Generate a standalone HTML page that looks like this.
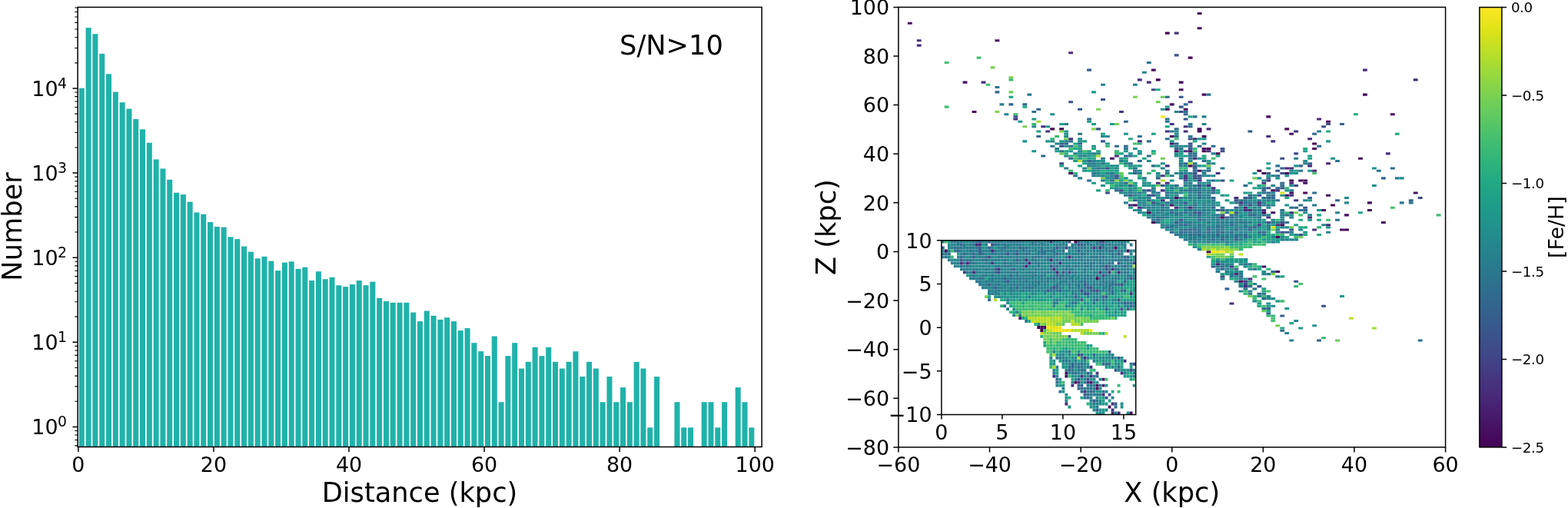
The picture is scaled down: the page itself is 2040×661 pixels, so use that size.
<!DOCTYPE html>
<html><head><meta charset="utf-8"><style>
html,body{margin:0;padding:0;background:#fff;width:2040px;height:661px;overflow:hidden}
svg{display:block}
text{font-family:'DejaVu Sans', 'Liberation Sans', sans-serif;fill:#000}
</style></head><body>
<svg width="2040" height="661" viewBox="0 0 2040 661">
<g fill="#20b2aa"><rect x="102.78" y="114.70" width="7.04" height="466.80"/><rect x="111.58" y="36.10" width="7.04" height="545.40"/><rect x="120.39" y="44.20" width="7.04" height="537.30"/><rect x="129.19" y="69.90" width="7.04" height="511.60"/><rect x="137.99" y="96.30" width="7.04" height="485.20"/><rect x="146.80" y="119.60" width="7.04" height="461.90"/><rect x="155.60" y="133.20" width="7.04" height="448.30"/><rect x="164.40" y="141.60" width="7.04" height="439.90"/><rect x="173.20" y="155.00" width="7.04" height="426.50"/><rect x="182.01" y="168.30" width="7.04" height="413.20"/><rect x="190.81" y="185.80" width="7.04" height="395.70"/><rect x="199.61" y="207.40" width="7.04" height="374.10"/><rect x="208.42" y="219.40" width="7.04" height="362.10"/><rect x="217.22" y="233.80" width="7.04" height="347.70"/><rect x="226.02" y="250.80" width="7.04" height="330.70"/><rect x="234.83" y="253.10" width="7.04" height="328.40"/><rect x="243.63" y="262.60" width="7.04" height="318.90"/><rect x="252.43" y="276.40" width="7.04" height="305.10"/><rect x="261.23" y="278.70" width="7.04" height="302.80"/><rect x="270.04" y="289.00" width="7.04" height="292.50"/><rect x="278.84" y="295.00" width="7.04" height="286.50"/><rect x="287.64" y="295.60" width="7.04" height="285.90"/><rect x="296.45" y="308.30" width="7.04" height="273.20"/><rect x="305.25" y="311.10" width="7.04" height="270.40"/><rect x="314.05" y="320.60" width="7.04" height="260.90"/><rect x="322.86" y="327.60" width="7.04" height="253.90"/><rect x="331.66" y="336.30" width="7.04" height="245.20"/><rect x="340.46" y="333.80" width="7.04" height="247.70"/><rect x="349.26" y="339.60" width="7.04" height="241.90"/><rect x="358.07" y="352.10" width="7.04" height="229.40"/><rect x="366.87" y="341.60" width="7.04" height="239.90"/><rect x="375.67" y="340.30" width="7.04" height="241.20"/><rect x="384.48" y="349.90" width="7.04" height="231.60"/><rect x="393.28" y="347.70" width="7.04" height="233.80"/><rect x="402.08" y="365.00" width="7.04" height="216.50"/><rect x="410.89" y="353.20" width="7.04" height="228.30"/><rect x="419.69" y="363.20" width="7.04" height="218.30"/><rect x="428.49" y="360.80" width="7.04" height="220.70"/><rect x="437.29" y="371.30" width="7.04" height="210.20"/><rect x="446.10" y="373.10" width="7.04" height="208.40"/><rect x="454.90" y="370.10" width="7.04" height="211.40"/><rect x="463.70" y="365.00" width="7.04" height="216.50"/><rect x="472.51" y="371.20" width="7.04" height="210.30"/><rect x="481.31" y="366.60" width="7.04" height="214.90"/><rect x="490.11" y="387.80" width="7.04" height="193.70"/><rect x="498.92" y="392.00" width="7.04" height="189.50"/><rect x="507.72" y="393.80" width="7.04" height="187.70"/><rect x="516.52" y="393.80" width="7.04" height="187.70"/><rect x="525.32" y="393.80" width="7.04" height="187.70"/><rect x="534.13" y="406.50" width="7.04" height="175.00"/><rect x="542.93" y="418.10" width="7.04" height="163.40"/><rect x="551.73" y="404.50" width="7.04" height="177.00"/><rect x="560.54" y="410.80" width="7.04" height="170.70"/><rect x="569.34" y="415.90" width="7.04" height="165.60"/><rect x="578.14" y="413.20" width="7.04" height="168.30"/><rect x="586.95" y="418.10" width="7.04" height="163.40"/><rect x="595.75" y="430.10" width="7.04" height="151.40"/><rect x="604.55" y="427.00" width="7.04" height="154.50"/><rect x="613.35" y="446.20" width="7.04" height="135.30"/><rect x="622.16" y="457.10" width="7.04" height="124.40"/><rect x="630.96" y="463.10" width="7.04" height="118.40"/><rect x="639.76" y="437.50" width="7.04" height="144.00"/><rect x="648.57" y="523.20" width="7.04" height="58.30"/><rect x="657.37" y="463.10" width="7.04" height="118.40"/><rect x="666.17" y="446.20" width="7.04" height="135.30"/><rect x="674.98" y="479.50" width="7.04" height="102.00"/><rect x="683.78" y="470.80" width="7.04" height="110.70"/><rect x="692.58" y="451.80" width="7.04" height="129.70"/><rect x="701.38" y="463.20" width="7.04" height="118.30"/><rect x="710.19" y="451.80" width="7.04" height="129.70"/><rect x="718.99" y="470.80" width="7.04" height="110.70"/><rect x="727.79" y="479.50" width="7.04" height="102.00"/><rect x="736.60" y="470.80" width="7.04" height="110.70"/><rect x="745.40" y="457.20" width="7.04" height="124.30"/><rect x="754.20" y="490.00" width="7.04" height="91.50"/><rect x="763.01" y="470.80" width="7.04" height="110.70"/><rect x="771.81" y="479.50" width="7.04" height="102.00"/><rect x="780.61" y="523.20" width="7.04" height="58.30"/><rect x="789.41" y="490.00" width="7.04" height="91.50"/><rect x="798.22" y="523.20" width="7.04" height="58.30"/><rect x="807.02" y="504.10" width="7.04" height="77.40"/><rect x="815.82" y="523.20" width="7.04" height="58.30"/><rect x="824.63" y="470.90" width="7.04" height="110.60"/><rect x="833.43" y="479.50" width="7.04" height="102.00"/><rect x="842.23" y="556.30" width="7.04" height="25.20"/><rect x="851.04" y="490.10" width="7.04" height="91.40"/><rect x="877.44" y="523.20" width="7.04" height="58.30"/><rect x="886.25" y="556.30" width="7.04" height="25.20"/><rect x="895.05" y="556.30" width="7.04" height="25.20"/><rect x="912.66" y="523.20" width="7.04" height="58.30"/><rect x="921.46" y="523.20" width="7.04" height="58.30"/><rect x="930.26" y="556.30" width="7.04" height="25.20"/><rect x="939.07" y="523.20" width="7.04" height="58.30"/><rect x="956.67" y="504.10" width="7.04" height="77.40"/><rect x="965.47" y="523.20" width="7.04" height="58.30"/><rect x="974.28" y="556.30" width="7.04" height="25.20"/></g>
<rect x="101.1" y="9.4" width="890.00" height="572.10" fill="none" stroke="#000" stroke-width="1.5"/>
<path d="M101.90,581.5v6.6M277.96,581.5v6.6M454.02,581.5v6.6M630.08,581.5v6.6M806.14,581.5v6.6M982.20,581.5v6.6M101.1,555.40h-6.6M101.1,445.30h-6.6M101.1,335.20h-6.6M101.1,225.10h-6.6M101.1,115.00h-6.6" stroke="#000" stroke-width="1.5" fill="none"/>
<path d="M101.1,579.83h-3.8M101.1,572.45h-3.8M101.1,566.07h-3.8M101.1,560.44h-3.8M101.1,522.26h-3.8M101.1,502.87h-3.8M101.1,489.11h-3.8M101.1,478.44h-3.8M101.1,469.73h-3.8M101.1,462.35h-3.8M101.1,455.97h-3.8M101.1,450.34h-3.8M101.1,412.16h-3.8M101.1,392.77h-3.8M101.1,379.01h-3.8M101.1,368.34h-3.8M101.1,359.63h-3.8M101.1,352.25h-3.8M101.1,345.87h-3.8M101.1,340.24h-3.8M101.1,302.06h-3.8M101.1,282.67h-3.8M101.1,268.91h-3.8M101.1,258.24h-3.8M101.1,249.53h-3.8M101.1,242.15h-3.8M101.1,235.77h-3.8M101.1,230.14h-3.8M101.1,191.96h-3.8M101.1,172.57h-3.8M101.1,158.81h-3.8M101.1,148.14h-3.8M101.1,139.43h-3.8M101.1,132.05h-3.8M101.1,125.67h-3.8M101.1,120.04h-3.8M101.1,81.86h-3.8M101.1,62.47h-3.8M101.1,48.71h-3.8M101.1,38.04h-3.8M101.1,29.33h-3.8M101.1,21.95h-3.8M101.1,15.57h-3.8M101.1,9.94h-3.8" stroke="#000" stroke-width="1.1" fill="none"/>
<text x="101.90" y="614.3" font-size="26.9" text-anchor="middle">0</text>
<text x="277.96" y="614.3" font-size="26.9" text-anchor="middle">20</text>
<text x="454.02" y="614.3" font-size="26.9" text-anchor="middle">40</text>
<text x="630.08" y="614.3" font-size="26.9" text-anchor="middle">60</text>
<text x="806.14" y="614.3" font-size="26.9" text-anchor="middle">80</text>
<text x="982.20" y="614.3" font-size="26.9" text-anchor="middle">100</text>
<text x="75.5" y="565.40" font-size="26.9" text-anchor="end">10</text>
<text x="75.0" y="555.20" font-size="18.83">0</text>
<text x="75.5" y="455.30" font-size="26.9" text-anchor="end">10</text>
<text x="75.0" y="445.10" font-size="18.83">1</text>
<text x="75.5" y="345.20" font-size="26.9" text-anchor="end">10</text>
<text x="75.0" y="335.00" font-size="18.83">2</text>
<text x="75.5" y="235.10" font-size="26.9" text-anchor="end">10</text>
<text x="75.0" y="224.90" font-size="18.83">3</text>
<text x="75.5" y="125.00" font-size="26.9" text-anchor="end">10</text>
<text x="75.0" y="114.80" font-size="18.83">4</text>
<text x="546.0" y="652.8" font-size="35.2" text-anchor="middle">Distance (kpc)</text>
<text transform="translate(27.8,295.0) rotate(-90)" font-size="35.2" text-anchor="middle">Number</text>
<text x="940.9" y="71.0" font-size="35.20" text-anchor="end">S/N&gt;10</text>
<defs><clipPath id="mcl"><rect x="1168.9" y="9.4" width="711.70" height="572.50"/></clipPath></defs>
<g clip-path="url(#mcl)"><path fill="#470d60" d="M1180.84,28.78h5.85v3.07h-5.85zM1294.49,51.17h5.85v3.07h-5.85zM1497.86,89.56h5.85v3.07h-5.85zM1521.78,134.36h5.85v3.07h-5.85zM1563.65,121.56h5.85v3.07h-5.85zM1557.67,166.35h5.85v3.07h-5.85zM1671.32,166.35h5.85v3.07h-5.85zM1557.67,169.55h5.85v3.07h-5.85zM1808.89,147.15h5.85v3.07h-5.85zM1444.02,204.74h5.85v3.07h-5.85zM1527.76,195.15h5.85v3.07h-5.85zM1545.71,195.15h5.85v3.07h-5.85zM1545.71,214.34h5.85v3.07h-5.85zM1557.67,220.74h5.85v3.07h-5.85zM1767.02,204.74h5.85v3.07h-5.85zM1689.26,233.54h5.85v3.07h-5.85zM1521.78,265.53h5.85v3.07h-5.85zM1497.86,287.93h5.85v3.07h-5.85zM1677.30,249.53h5.85v3.07h-5.85zM1719.17,271.93h5.85v3.07h-5.85zM1749.08,278.33h5.85v3.07h-5.85z"/><path fill="#46327e" d="M1192.81,51.17h5.85v3.07h-5.85zM1527.76,41.57h5.85v3.07h-5.85zM1318.42,153.55h5.85v3.07h-5.85zM1455.99,143.95h5.85v3.07h-5.85zM1521.78,159.95h5.85v3.07h-5.85zM1354.30,163.15h5.85v3.07h-5.85zM1360.28,169.55h5.85v3.07h-5.85zM1515.80,169.55h5.85v3.07h-5.85zM1390.19,179.15h5.85v3.07h-5.85zM1539.73,163.15h5.85v3.07h-5.85zM1569.63,166.35h5.85v3.07h-5.85zM1683.28,169.55h5.85v3.07h-5.85zM1551.69,179.15h5.85v3.07h-5.85zM1653.37,182.35h5.85v3.07h-5.85zM1515.80,214.34h5.85v3.07h-5.85zM1503.84,236.74h5.85v3.07h-5.85zM1581.60,223.94h5.85v3.07h-5.85zM1557.67,233.54h5.85v3.07h-5.85zM1569.63,239.94h5.85v3.07h-5.85zM1647.39,233.54h5.85v3.07h-5.85zM1641.41,236.74h5.85v3.07h-5.85zM1802.91,198.34h5.85v3.07h-5.85zM1509.82,259.13h5.85v3.07h-5.85zM1479.91,268.73h5.85v3.07h-5.85zM1575.62,243.14h5.85v3.07h-5.85zM1677.30,252.73h5.85v3.07h-5.85zM1527.76,268.73h5.85v3.07h-5.85zM1617.49,271.93h5.85v3.07h-5.85zM1623.47,271.93h5.85v3.07h-5.85zM1641.41,271.93h5.85v3.07h-5.85zM1707.21,297.53h5.85v3.07h-5.85zM1599.54,345.52h5.85v3.07h-5.85zM1617.49,364.71h5.85v3.07h-5.85zM1617.49,371.11h5.85v3.07h-5.85z"/><path fill="#472d7b" d="M1192.81,57.57h5.85v3.07h-5.85zM1479.91,102.36h5.85v3.07h-5.85zM1773.00,89.56h5.85v3.07h-5.85zM1838.80,102.36h5.85v3.07h-5.85zM1276.55,105.56h5.85v3.07h-5.85zM1491.88,105.56h5.85v3.07h-5.85zM1479.91,182.35h5.85v3.07h-5.85zM1539.73,169.55h5.85v3.07h-5.85zM1647.39,175.95h5.85v3.07h-5.85zM1515.80,236.74h5.85v3.07h-5.85zM1539.73,195.15h5.85v3.07h-5.85zM1569.63,195.15h5.85v3.07h-5.85zM1551.69,204.74h5.85v3.07h-5.85zM1539.73,227.14h5.85v3.07h-5.85zM1701.22,214.34h5.85v3.07h-5.85zM1671.32,217.54h5.85v3.07h-5.85zM1677.30,217.54h5.85v3.07h-5.85zM1659.35,246.34h5.85v3.07h-5.85zM1605.52,255.93h5.85v3.07h-5.85zM1611.50,262.33h5.85v3.07h-5.85zM1677.30,275.13h5.85v3.07h-5.85zM1701.22,281.53h5.85v3.07h-5.85zM1659.35,291.13h5.85v3.07h-5.85zM1605.52,355.12h5.85v3.07h-5.85zM1623.47,361.51h5.85v3.07h-5.85zM1599.54,393.51h5.85v3.07h-5.85z"/><path fill="#46c06f" d="M1228.69,79.97h5.85v3.07h-5.85zM1270.56,73.57h5.85v3.07h-5.85zM1282.53,108.76h5.85v3.07h-5.85zM1473.93,185.55h5.85v3.07h-5.85zM1396.17,188.75h5.85v3.07h-5.85zM1408.14,195.15h5.85v3.07h-5.85zM1396.17,204.74h5.85v3.07h-5.85zM1455.99,227.14h5.85v3.07h-5.85zM1515.80,227.14h5.85v3.07h-5.85zM1551.69,195.15h5.85v3.07h-5.85zM1575.62,204.74h5.85v3.07h-5.85zM1707.21,223.94h5.85v3.07h-5.85zM1479.91,246.34h5.85v3.07h-5.85zM1467.95,259.13h5.85v3.07h-5.85zM1689.26,278.33h5.85v3.07h-5.85zM1725.15,284.73h5.85v3.07h-5.85zM1808.89,268.73h5.85v3.07h-5.85zM1569.63,316.72h5.85v3.07h-5.85zM1587.58,316.72h5.85v3.07h-5.85zM1599.54,319.92h5.85v3.07h-5.85zM1635.43,316.72h5.85v3.07h-5.85zM1629.45,358.31h5.85v3.07h-5.85zM1641.41,361.51h5.85v3.07h-5.85zM1689.26,367.91h5.85v3.07h-5.85zM1647.39,377.51h5.85v3.07h-5.85zM1641.41,396.71h5.85v3.07h-5.85zM1653.37,412.70h5.85v3.07h-5.85zM1653.37,415.90h5.85v3.07h-5.85z"/><path fill="#7ad151" d="M1288.51,86.37h5.85v3.07h-5.85zM1312.43,99.16h5.85v3.07h-5.85zM1330.38,163.15h5.85v3.07h-5.85zM1473.93,124.76h5.85v3.07h-5.85zM1426.08,140.76h5.85v3.07h-5.85zM1384.21,179.15h5.85v3.07h-5.85zM1461.97,233.54h5.85v3.07h-5.85zM1569.63,319.92h5.85v3.07h-5.85zM1575.62,319.92h5.85v3.07h-5.85zM1581.60,319.92h5.85v3.07h-5.85zM1599.54,323.12h5.85v3.07h-5.85zM1677.30,294.33h5.85v3.07h-5.85zM1623.47,383.91h5.85v3.07h-5.85z"/><path fill="#3fbc73" d="M1312.43,102.36h5.85v3.07h-5.85zM1228.69,137.56h5.85v3.07h-5.85zM1318.42,147.15h5.85v3.07h-5.85zM1390.19,191.95h5.85v3.07h-5.85zM1527.76,179.15h5.85v3.07h-5.85zM1396.17,201.54h5.85v3.07h-5.85zM1497.86,198.34h5.85v3.07h-5.85zM1479.91,227.14h5.85v3.07h-5.85zM1444.02,239.94h5.85v3.07h-5.85zM1533.75,217.54h5.85v3.07h-5.85zM1641.41,239.94h5.85v3.07h-5.85zM1479.91,243.14h5.85v3.07h-5.85zM1438.04,246.34h5.85v3.07h-5.85zM1491.88,262.33h5.85v3.07h-5.85zM1539.73,243.14h5.85v3.07h-5.85zM1527.76,246.34h5.85v3.07h-5.85zM1539.73,252.73h5.85v3.07h-5.85zM1868.70,278.33h5.85v3.07h-5.85zM1581.60,316.72h5.85v3.07h-5.85zM1605.52,319.92h5.85v3.07h-5.85zM1575.62,332.72h5.85v3.07h-5.85zM1587.58,335.92h5.85v3.07h-5.85zM1659.35,303.92h5.85v3.07h-5.85zM1641.41,307.12h5.85v3.07h-5.85zM1683.28,307.12h5.85v3.07h-5.85zM1623.47,313.52h5.85v3.07h-5.85zM1629.45,316.72h5.85v3.07h-5.85zM1641.41,316.72h5.85v3.07h-5.85zM1617.49,319.92h5.85v3.07h-5.85zM1605.52,345.52h5.85v3.07h-5.85zM1629.45,345.52h5.85v3.07h-5.85zM1623.47,367.91h5.85v3.07h-5.85zM1617.49,377.51h5.85v3.07h-5.85zM1629.45,387.11h5.85v3.07h-5.85zM1635.43,390.31h5.85v3.07h-5.85zM1647.39,409.50h5.85v3.07h-5.85z"/><path fill="#482878" d="M1390.19,67.17h5.85v3.07h-5.85zM1701.22,179.15h5.85v3.07h-5.85zM1713.19,153.55h5.85v3.07h-5.85zM1450.01,201.54h5.85v3.07h-5.85zM1539.73,230.34h5.85v3.07h-5.85zM1725.15,211.14h5.85v3.07h-5.85zM1707.21,220.74h5.85v3.07h-5.85zM1677.30,236.74h5.85v3.07h-5.85zM1467.95,265.53h5.85v3.07h-5.85zM1635.43,262.33h5.85v3.07h-5.85zM1545.71,268.73h5.85v3.07h-5.85zM1617.49,268.73h5.85v3.07h-5.85zM1725.15,291.13h5.85v3.07h-5.85zM1581.60,342.32h5.85v3.07h-5.85z"/><path fill="#355f8d" d="M1414.12,89.56h5.85v3.07h-5.85zM1378.23,185.55h5.85v3.07h-5.85zM1623.47,169.55h5.85v3.07h-5.85zM1461.97,201.54h5.85v3.07h-5.85zM1450.01,230.34h5.85v3.07h-5.85zM1467.95,252.73h5.85v3.07h-5.85zM1473.93,259.13h5.85v3.07h-5.85zM1521.78,275.13h5.85v3.07h-5.85zM1701.22,255.93h5.85v3.07h-5.85zM1587.58,271.93h5.85v3.07h-5.85zM1539.73,291.13h5.85v3.07h-5.85zM1623.47,297.53h5.85v3.07h-5.85zM1671.32,300.73h5.85v3.07h-5.85z"/><path fill="#46075a" d="M1515.80,41.57h5.85v3.07h-5.85zM1545.71,73.57h5.85v3.07h-5.85zM1264.58,143.95h5.85v3.07h-5.85zM1515.80,140.76h5.85v3.07h-5.85zM1521.78,175.95h5.85v3.07h-5.85zM1533.75,105.56h5.85v3.07h-5.85zM1533.75,115.16h5.85v3.07h-5.85zM1539.73,140.76h5.85v3.07h-5.85zM1563.65,175.95h5.85v3.07h-5.85zM1569.63,191.95h5.85v3.07h-5.85zM1725.15,156.75h5.85v3.07h-5.85zM1390.19,223.94h5.85v3.07h-5.85zM1563.65,195.15h5.85v3.07h-5.85zM1641.41,223.94h5.85v3.07h-5.85zM1671.32,223.94h5.85v3.07h-5.85zM1695.24,233.54h5.85v3.07h-5.85zM1473.93,265.53h5.85v3.07h-5.85zM1653.37,246.34h5.85v3.07h-5.85zM1695.24,249.53h5.85v3.07h-5.85zM1527.76,255.93h5.85v3.07h-5.85zM1641.41,275.13h5.85v3.07h-5.85zM1653.37,275.13h5.85v3.07h-5.85zM1778.98,271.93h5.85v3.07h-5.85zM1796.93,287.93h5.85v3.07h-5.85zM1665.34,291.13h5.85v3.07h-5.85zM1659.35,307.12h5.85v3.07h-5.85zM1611.50,364.71h5.85v3.07h-5.85zM1659.35,351.92h5.85v3.07h-5.85z"/><path fill="#2a768e" d="M1491.88,79.97h5.85v3.07h-5.85zM1294.49,111.96h5.85v3.07h-5.85zM1342.34,143.95h5.85v3.07h-5.85zM1402.15,172.75h5.85v3.07h-5.85zM1569.63,121.56h5.85v3.07h-5.85zM1527.76,175.95h5.85v3.07h-5.85zM1420.10,211.14h5.85v3.07h-5.85zM1497.86,214.34h5.85v3.07h-5.85zM1485.89,230.34h5.85v3.07h-5.85zM1551.69,198.34h5.85v3.07h-5.85zM1569.63,211.14h5.85v3.07h-5.85zM1545.71,236.74h5.85v3.07h-5.85zM1659.35,214.34h5.85v3.07h-5.85zM1689.26,220.74h5.85v3.07h-5.85zM1647.39,230.34h5.85v3.07h-5.85zM1521.78,243.14h5.85v3.07h-5.85zM1497.86,278.33h5.85v3.07h-5.85zM1539.73,246.34h5.85v3.07h-5.85zM1551.69,246.34h5.85v3.07h-5.85zM1557.67,246.34h5.85v3.07h-5.85zM1677.30,246.34h5.85v3.07h-5.85zM1605.52,262.33h5.85v3.07h-5.85zM1575.62,265.53h5.85v3.07h-5.85zM1647.39,265.53h5.85v3.07h-5.85zM1689.26,265.53h5.85v3.07h-5.85zM1539.73,268.73h5.85v3.07h-5.85zM1533.75,275.13h5.85v3.07h-5.85zM1593.56,275.13h5.85v3.07h-5.85zM1599.54,278.33h5.85v3.07h-5.85zM1581.60,281.53h5.85v3.07h-5.85zM1563.65,284.73h5.85v3.07h-5.85zM1599.54,287.93h5.85v3.07h-5.85zM1707.21,265.53h5.85v3.07h-5.85zM1820.85,262.33h5.85v3.07h-5.85zM1832.82,262.33h5.85v3.07h-5.85zM1545.71,291.13h5.85v3.07h-5.85zM1581.60,291.13h5.85v3.07h-5.85zM1581.60,294.33h5.85v3.07h-5.85zM1527.76,303.92h5.85v3.07h-5.85zM1533.75,303.92h5.85v3.07h-5.85zM1545.71,303.92h5.85v3.07h-5.85zM1563.65,307.12h5.85v3.07h-5.85zM1587.58,307.12h5.85v3.07h-5.85zM1539.73,310.32h5.85v3.07h-5.85zM1557.67,310.32h5.85v3.07h-5.85zM1611.50,310.32h5.85v3.07h-5.85zM1593.56,313.52h5.85v3.07h-5.85zM1641.41,303.92h5.85v3.07h-5.85zM1581.60,339.12h5.85v3.07h-5.85zM1611.50,371.11h5.85v3.07h-5.85zM1629.45,348.72h5.85v3.07h-5.85z"/><path fill="#25858e" d="M1485.89,92.76h5.85v3.07h-5.85zM1384.21,182.35h5.85v3.07h-5.85zM1372.25,185.55h5.85v3.07h-5.85zM1527.76,143.95h5.85v3.07h-5.85zM1563.65,159.95h5.85v3.07h-5.85zM1563.65,185.55h5.85v3.07h-5.85zM1402.15,195.15h5.85v3.07h-5.85zM1396.17,198.34h5.85v3.07h-5.85zM1414.12,211.14h5.85v3.07h-5.85zM1408.14,217.54h5.85v3.07h-5.85zM1402.15,230.34h5.85v3.07h-5.85zM1485.89,236.74h5.85v3.07h-5.85zM1545.71,207.94h5.85v3.07h-5.85zM1539.73,214.34h5.85v3.07h-5.85zM1539.73,223.94h5.85v3.07h-5.85zM1563.65,227.14h5.85v3.07h-5.85zM1569.63,227.14h5.85v3.07h-5.85zM1569.63,236.74h5.85v3.07h-5.85zM1455.99,249.53h5.85v3.07h-5.85zM1461.97,249.53h5.85v3.07h-5.85zM1521.78,249.53h5.85v3.07h-5.85zM1503.84,255.93h5.85v3.07h-5.85zM1461.97,262.33h5.85v3.07h-5.85zM1485.89,262.33h5.85v3.07h-5.85zM1503.84,262.33h5.85v3.07h-5.85zM1503.84,265.53h5.85v3.07h-5.85zM1485.89,268.73h5.85v3.07h-5.85zM1479.91,275.13h5.85v3.07h-5.85zM1569.63,246.34h5.85v3.07h-5.85zM1527.76,249.53h5.85v3.07h-5.85zM1545.71,249.53h5.85v3.07h-5.85zM1563.65,252.73h5.85v3.07h-5.85zM1569.63,252.73h5.85v3.07h-5.85zM1695.24,259.13h5.85v3.07h-5.85zM1545.71,265.53h5.85v3.07h-5.85zM1569.63,265.53h5.85v3.07h-5.85zM1641.41,265.53h5.85v3.07h-5.85zM1557.67,268.73h5.85v3.07h-5.85zM1557.67,271.93h5.85v3.07h-5.85zM1629.45,271.93h5.85v3.07h-5.85zM1629.45,275.13h5.85v3.07h-5.85zM1635.43,278.33h5.85v3.07h-5.85zM1647.39,278.33h5.85v3.07h-5.85zM1575.62,281.53h5.85v3.07h-5.85zM1575.62,284.73h5.85v3.07h-5.85zM1587.58,284.73h5.85v3.07h-5.85zM1605.52,284.73h5.85v3.07h-5.85zM1617.49,284.73h5.85v3.07h-5.85zM1665.34,284.73h5.85v3.07h-5.85zM1635.43,287.93h5.85v3.07h-5.85zM1749.08,262.33h5.85v3.07h-5.85zM1551.69,291.13h5.85v3.07h-5.85zM1509.82,294.33h5.85v3.07h-5.85zM1545.71,294.33h5.85v3.07h-5.85zM1605.52,294.33h5.85v3.07h-5.85zM1575.62,297.53h5.85v3.07h-5.85zM1611.50,297.53h5.85v3.07h-5.85zM1539.73,303.92h5.85v3.07h-5.85zM1599.54,303.92h5.85v3.07h-5.85zM1557.67,307.12h5.85v3.07h-5.85zM1599.54,307.12h5.85v3.07h-5.85zM1563.65,313.52h5.85v3.07h-5.85zM1599.54,313.52h5.85v3.07h-5.85zM1557.67,323.12h5.85v3.07h-5.85zM1647.39,291.13h5.85v3.07h-5.85zM1635.43,294.33h5.85v3.07h-5.85zM1647.39,294.33h5.85v3.07h-5.85zM1665.34,294.33h5.85v3.07h-5.85zM1647.39,297.53h5.85v3.07h-5.85zM1617.49,300.73h5.85v3.07h-5.85zM1659.35,300.73h5.85v3.07h-5.85zM1671.32,310.32h5.85v3.07h-5.85zM1593.56,342.32h5.85v3.07h-5.85zM1599.54,342.32h5.85v3.07h-5.85zM1593.56,345.52h5.85v3.07h-5.85zM1581.60,348.72h5.85v3.07h-5.85zM1593.56,351.92h5.85v3.07h-5.85zM1587.58,361.51h5.85v3.07h-5.85zM1641.41,355.12h5.85v3.07h-5.85zM1623.47,377.51h5.85v3.07h-5.85zM1677.30,441.50h5.85v3.07h-5.85z"/><path fill="#440154" d="M1503.84,102.36h5.85v3.07h-5.85zM1557.67,15.98h5.85v3.07h-5.85zM1557.67,35.18h5.85v3.07h-5.85zM1366.27,166.35h5.85v3.07h-5.85zM1378.23,166.35h5.85v3.07h-5.85zM1647.39,150.35h5.85v3.07h-5.85zM1773.00,121.56h5.85v3.07h-5.85zM1707.21,185.55h5.85v3.07h-5.85zM1707.21,191.95h5.85v3.07h-5.85zM1581.60,198.34h5.85v3.07h-5.85zM1635.43,220.74h5.85v3.07h-5.85zM1677.30,233.54h5.85v3.07h-5.85zM1491.88,275.13h5.85v3.07h-5.85zM1587.58,281.53h5.85v3.07h-5.85zM1725.15,252.73h5.85v3.07h-5.85zM1778.98,262.33h5.85v3.07h-5.85zM1731.13,265.53h5.85v3.07h-5.85zM1569.63,326.32h5.85v3.07h-5.85zM1749.08,297.53h5.85v3.07h-5.85z"/><path fill="#3d4e8a" d="M1527.76,70.37h5.85v3.07h-5.85zM1497.86,115.16h5.85v3.07h-5.85zM1432.06,127.96h5.85v3.07h-5.85zM1533.75,143.95h5.85v3.07h-5.85zM1719.17,163.15h5.85v3.07h-5.85zM1438.04,217.54h5.85v3.07h-5.85zM1450.01,227.14h5.85v3.07h-5.85zM1557.67,227.14h5.85v3.07h-5.85zM1551.69,230.34h5.85v3.07h-5.85zM1539.73,233.54h5.85v3.07h-5.85zM1557.67,239.94h5.85v3.07h-5.85zM1683.28,198.34h5.85v3.07h-5.85zM1665.34,204.74h5.85v3.07h-5.85zM1665.34,223.94h5.85v3.07h-5.85zM1683.28,239.94h5.85v3.07h-5.85zM1455.99,246.34h5.85v3.07h-5.85zM1491.88,246.34h5.85v3.07h-5.85zM1635.43,252.73h5.85v3.07h-5.85zM1623.47,265.53h5.85v3.07h-5.85zM1557.67,275.13h5.85v3.07h-5.85zM1605.52,275.13h5.85v3.07h-5.85zM1587.58,278.33h5.85v3.07h-5.85zM1665.34,287.93h5.85v3.07h-5.85zM1587.58,358.31h5.85v3.07h-5.85zM1719.17,396.71h5.85v3.07h-5.85z"/><path fill="#471365" d="M1252.62,105.56h5.85v3.07h-5.85zM1521.78,185.55h5.85v3.07h-5.85zM1677.30,172.75h5.85v3.07h-5.85zM1563.65,191.95h5.85v3.07h-5.85zM1695.24,236.74h5.85v3.07h-5.85zM1671.32,252.73h5.85v3.07h-5.85zM1838.80,249.53h5.85v3.07h-5.85zM1743.09,297.53h5.85v3.07h-5.85zM1641.41,345.52h5.85v3.07h-5.85z"/><path fill="#31678e" d="M1294.49,118.36h5.85v3.07h-5.85zM1330.38,134.36h5.85v3.07h-5.85zM1348.32,140.76h5.85v3.07h-5.85zM1461.97,156.75h5.85v3.07h-5.85zM1348.32,175.95h5.85v3.07h-5.85zM1384.21,185.55h5.85v3.07h-5.85zM1402.15,185.55h5.85v3.07h-5.85zM1461.97,188.75h5.85v3.07h-5.85zM1539.73,147.15h5.85v3.07h-5.85zM1557.67,188.75h5.85v3.07h-5.85zM1414.12,207.94h5.85v3.07h-5.85zM1479.91,207.94h5.85v3.07h-5.85zM1461.97,236.74h5.85v3.07h-5.85zM1467.95,239.94h5.85v3.07h-5.85zM1551.69,214.34h5.85v3.07h-5.85zM1551.69,217.54h5.85v3.07h-5.85zM1551.69,220.74h5.85v3.07h-5.85zM1701.22,211.14h5.85v3.07h-5.85zM1665.34,236.74h5.85v3.07h-5.85zM1450.01,246.34h5.85v3.07h-5.85zM1491.88,259.13h5.85v3.07h-5.85zM1503.84,284.73h5.85v3.07h-5.85zM1575.62,255.93h5.85v3.07h-5.85zM1647.39,255.93h5.85v3.07h-5.85zM1617.49,262.33h5.85v3.07h-5.85zM1683.28,268.73h5.85v3.07h-5.85zM1539.73,275.13h5.85v3.07h-5.85zM1599.54,281.53h5.85v3.07h-5.85zM1832.82,259.13h5.85v3.07h-5.85zM1599.54,291.13h5.85v3.07h-5.85zM1533.75,297.53h5.85v3.07h-5.85zM1545.71,297.53h5.85v3.07h-5.85zM1521.78,300.73h5.85v3.07h-5.85zM1587.58,300.73h5.85v3.07h-5.85zM1599.54,300.73h5.85v3.07h-5.85zM1557.67,303.92h5.85v3.07h-5.85zM1581.60,303.92h5.85v3.07h-5.85zM1629.45,294.33h5.85v3.07h-5.85zM1635.43,300.73h5.85v3.07h-5.85zM1617.49,307.12h5.85v3.07h-5.85zM1587.58,345.52h5.85v3.07h-5.85zM1593.56,374.31h5.85v3.07h-5.85zM1653.37,351.92h5.85v3.07h-5.85zM1623.47,371.11h5.85v3.07h-5.85zM1641.41,387.11h5.85v3.07h-5.85zM1647.39,399.91h5.85v3.07h-5.85zM1665.34,428.70h5.85v3.07h-5.85z"/><path fill="#70cf57" d="M1312.43,118.36h5.85v3.07h-5.85zM1503.84,131.16h5.85v3.07h-5.85zM1450.01,159.95h5.85v3.07h-5.85zM1414.12,217.54h5.85v3.07h-5.85zM1432.06,230.34h5.85v3.07h-5.85zM1509.82,204.74h5.85v3.07h-5.85zM1467.95,236.74h5.85v3.07h-5.85zM1503.84,239.94h5.85v3.07h-5.85zM1629.45,230.34h5.85v3.07h-5.85zM1683.28,275.13h5.85v3.07h-5.85zM1587.58,319.92h5.85v3.07h-5.85zM1581.60,329.52h5.85v3.07h-5.85zM1587.58,329.52h5.85v3.07h-5.85zM1599.54,329.52h5.85v3.07h-5.85zM1581.60,332.72h5.85v3.07h-5.85zM1587.58,332.72h5.85v3.07h-5.85zM1653.37,297.53h5.85v3.07h-5.85zM1689.26,307.12h5.85v3.07h-5.85zM1641.41,403.11h5.85v3.07h-5.85zM1659.35,422.30h5.85v3.07h-5.85z"/><path fill="#297a8e" d="M1336.36,121.56h5.85v3.07h-5.85zM1515.80,156.75h5.85v3.07h-5.85zM1521.78,169.55h5.85v3.07h-5.85zM1366.27,188.75h5.85v3.07h-5.85zM1372.25,191.95h5.85v3.07h-5.85zM1461.97,191.95h5.85v3.07h-5.85zM1545.71,159.95h5.85v3.07h-5.85zM1545.71,175.95h5.85v3.07h-5.85zM1408.14,201.54h5.85v3.07h-5.85zM1432.06,204.74h5.85v3.07h-5.85zM1414.12,214.34h5.85v3.07h-5.85zM1432.06,217.54h5.85v3.07h-5.85zM1420.10,223.94h5.85v3.07h-5.85zM1420.10,227.14h5.85v3.07h-5.85zM1444.02,223.94h5.85v3.07h-5.85zM1444.02,227.14h5.85v3.07h-5.85zM1521.78,227.14h5.85v3.07h-5.85zM1533.75,204.74h5.85v3.07h-5.85zM1545.71,204.74h5.85v3.07h-5.85zM1587.58,217.54h5.85v3.07h-5.85zM1545.71,223.94h5.85v3.07h-5.85zM1533.75,230.34h5.85v3.07h-5.85zM1539.73,239.94h5.85v3.07h-5.85zM1551.69,239.94h5.85v3.07h-5.85zM1695.24,211.14h5.85v3.07h-5.85zM1814.87,230.34h5.85v3.07h-5.85zM1467.95,249.53h5.85v3.07h-5.85zM1479.91,249.53h5.85v3.07h-5.85zM1461.97,252.73h5.85v3.07h-5.85zM1521.78,259.13h5.85v3.07h-5.85zM1485.89,265.53h5.85v3.07h-5.85zM1497.86,265.53h5.85v3.07h-5.85zM1491.88,268.73h5.85v3.07h-5.85zM1509.82,268.73h5.85v3.07h-5.85zM1509.82,271.93h5.85v3.07h-5.85zM1521.78,271.93h5.85v3.07h-5.85zM1503.84,275.13h5.85v3.07h-5.85zM1515.80,281.53h5.85v3.07h-5.85zM1545.71,243.14h5.85v3.07h-5.85zM1533.75,255.93h5.85v3.07h-5.85zM1569.63,255.93h5.85v3.07h-5.85zM1575.62,259.13h5.85v3.07h-5.85zM1611.50,259.13h5.85v3.07h-5.85zM1617.49,259.13h5.85v3.07h-5.85zM1635.43,259.13h5.85v3.07h-5.85zM1647.39,259.13h5.85v3.07h-5.85zM1533.75,262.33h5.85v3.07h-5.85zM1641.41,262.33h5.85v3.07h-5.85zM1563.65,265.53h5.85v3.07h-5.85zM1551.69,268.73h5.85v3.07h-5.85zM1545.71,271.93h5.85v3.07h-5.85zM1635.43,271.93h5.85v3.07h-5.85zM1623.47,275.13h5.85v3.07h-5.85zM1533.75,278.33h5.85v3.07h-5.85zM1545.71,278.33h5.85v3.07h-5.85zM1605.52,278.33h5.85v3.07h-5.85zM1569.63,281.53h5.85v3.07h-5.85zM1581.60,284.73h5.85v3.07h-5.85zM1569.63,287.93h5.85v3.07h-5.85zM1587.58,287.93h5.85v3.07h-5.85zM1611.50,287.93h5.85v3.07h-5.85zM1617.49,287.93h5.85v3.07h-5.85zM1557.67,294.33h5.85v3.07h-5.85zM1575.62,294.33h5.85v3.07h-5.85zM1521.78,297.53h5.85v3.07h-5.85zM1575.62,300.73h5.85v3.07h-5.85zM1605.52,303.92h5.85v3.07h-5.85zM1611.50,303.92h5.85v3.07h-5.85zM1575.62,307.12h5.85v3.07h-5.85zM1593.56,307.12h5.85v3.07h-5.85zM1569.63,310.32h5.85v3.07h-5.85zM1551.69,313.52h5.85v3.07h-5.85zM1617.49,291.13h5.85v3.07h-5.85zM1617.49,294.33h5.85v3.07h-5.85zM1659.35,297.53h5.85v3.07h-5.85zM1653.37,313.52h5.85v3.07h-5.85zM1587.58,342.32h5.85v3.07h-5.85zM1581.60,351.92h5.85v3.07h-5.85zM1611.50,361.51h5.85v3.07h-5.85zM1623.47,342.32h5.85v3.07h-5.85zM1617.49,374.31h5.85v3.07h-5.85zM1629.45,374.31h5.85v3.07h-5.85zM1623.47,380.71h5.85v3.07h-5.85z"/><path fill="#1fa088" d="M1312.43,124.76h5.85v3.07h-5.85zM1515.80,137.56h5.85v3.07h-5.85zM1378.23,159.95h5.85v3.07h-5.85zM1372.25,195.15h5.85v3.07h-5.85zM1396.17,207.94h5.85v3.07h-5.85zM1402.15,214.34h5.85v3.07h-5.85zM1432.06,223.94h5.85v3.07h-5.85zM1503.84,214.34h5.85v3.07h-5.85zM1444.02,217.54h5.85v3.07h-5.85zM1467.95,223.94h5.85v3.07h-5.85zM1455.99,233.54h5.85v3.07h-5.85zM1461.97,239.94h5.85v3.07h-5.85zM1497.86,239.94h5.85v3.07h-5.85zM1533.75,201.54h5.85v3.07h-5.85zM1539.73,201.54h5.85v3.07h-5.85zM1647.39,217.54h5.85v3.07h-5.85zM1683.28,220.74h5.85v3.07h-5.85zM1473.93,246.34h5.85v3.07h-5.85zM1515.80,246.34h5.85v3.07h-5.85zM1509.82,287.93h5.85v3.07h-5.85zM1629.45,255.93h5.85v3.07h-5.85zM1623.47,268.73h5.85v3.07h-5.85zM1539.73,278.33h5.85v3.07h-5.85zM1599.54,316.72h5.85v3.07h-5.85zM1569.63,332.72h5.85v3.07h-5.85zM1683.28,291.13h5.85v3.07h-5.85zM1641.41,297.53h5.85v3.07h-5.85zM1623.47,303.92h5.85v3.07h-5.85zM1617.49,313.52h5.85v3.07h-5.85zM1635.43,313.52h5.85v3.07h-5.85zM1605.52,361.51h5.85v3.07h-5.85zM1659.35,390.31h5.85v3.07h-5.85z"/><path fill="#26828e" d="M1300.47,134.36h5.85v3.07h-5.85zM1306.45,147.15h5.85v3.07h-5.85zM1563.65,150.35h5.85v3.07h-5.85zM1713.19,169.55h5.85v3.07h-5.85zM1384.21,201.54h5.85v3.07h-5.85zM1402.15,201.54h5.85v3.07h-5.85zM1420.10,214.34h5.85v3.07h-5.85zM1426.08,227.14h5.85v3.07h-5.85zM1432.06,227.14h5.85v3.07h-5.85zM1432.06,233.54h5.85v3.07h-5.85zM1509.82,217.54h5.85v3.07h-5.85zM1515.80,220.74h5.85v3.07h-5.85zM1438.04,223.94h5.85v3.07h-5.85zM1438.04,230.34h5.85v3.07h-5.85zM1455.99,239.94h5.85v3.07h-5.85zM1533.75,214.34h5.85v3.07h-5.85zM1539.73,220.74h5.85v3.07h-5.85zM1563.65,220.74h5.85v3.07h-5.85zM1641.41,233.54h5.85v3.07h-5.85zM1653.37,239.94h5.85v3.07h-5.85zM1497.86,246.34h5.85v3.07h-5.85zM1497.86,249.53h5.85v3.07h-5.85zM1479.91,255.93h5.85v3.07h-5.85zM1479.91,262.33h5.85v3.07h-5.85zM1497.86,268.73h5.85v3.07h-5.85zM1479.91,271.93h5.85v3.07h-5.85zM1509.82,275.13h5.85v3.07h-5.85zM1491.88,281.53h5.85v3.07h-5.85zM1551.69,249.53h5.85v3.07h-5.85zM1527.76,252.73h5.85v3.07h-5.85zM1647.39,252.73h5.85v3.07h-5.85zM1545.71,255.93h5.85v3.07h-5.85zM1653.37,259.13h5.85v3.07h-5.85zM1551.69,262.33h5.85v3.07h-5.85zM1563.65,262.33h5.85v3.07h-5.85zM1575.62,262.33h5.85v3.07h-5.85zM1539.73,265.53h5.85v3.07h-5.85zM1563.65,268.73h5.85v3.07h-5.85zM1629.45,268.73h5.85v3.07h-5.85zM1569.63,271.93h5.85v3.07h-5.85zM1611.50,271.93h5.85v3.07h-5.85zM1545.71,275.13h5.85v3.07h-5.85zM1569.63,275.13h5.85v3.07h-5.85zM1563.65,278.33h5.85v3.07h-5.85zM1701.22,278.33h5.85v3.07h-5.85zM1551.69,281.53h5.85v3.07h-5.85zM1677.30,281.53h5.85v3.07h-5.85zM1533.75,287.93h5.85v3.07h-5.85zM1581.60,287.93h5.85v3.07h-5.85zM1593.56,287.93h5.85v3.07h-5.85zM1605.52,287.93h5.85v3.07h-5.85zM1659.35,287.93h5.85v3.07h-5.85zM1563.65,291.13h5.85v3.07h-5.85zM1587.58,291.13h5.85v3.07h-5.85zM1593.56,291.13h5.85v3.07h-5.85zM1605.52,291.13h5.85v3.07h-5.85zM1527.76,294.33h5.85v3.07h-5.85zM1587.58,297.53h5.85v3.07h-5.85zM1593.56,300.73h5.85v3.07h-5.85zM1611.50,300.73h5.85v3.07h-5.85zM1569.63,303.92h5.85v3.07h-5.85zM1593.56,303.92h5.85v3.07h-5.85zM1551.69,307.12h5.85v3.07h-5.85zM1551.69,310.32h5.85v3.07h-5.85zM1617.49,297.53h5.85v3.07h-5.85zM1725.15,300.73h5.85v3.07h-5.85zM1623.47,307.12h5.85v3.07h-5.85zM1665.34,310.32h5.85v3.07h-5.85zM1677.30,310.32h5.85v3.07h-5.85zM1593.56,348.72h5.85v3.07h-5.85zM1605.52,364.71h5.85v3.07h-5.85zM1647.39,383.91h5.85v3.07h-5.85zM1671.32,431.90h5.85v3.07h-5.85z"/><path fill="#33638d" d="M1312.43,134.36h5.85v3.07h-5.85zM1515.80,124.76h5.85v3.07h-5.85zM1527.76,191.95h5.85v3.07h-5.85zM1743.09,159.95h5.85v3.07h-5.85zM1707.21,172.75h5.85v3.07h-5.85zM1713.19,188.75h5.85v3.07h-5.85zM1473.93,223.94h5.85v3.07h-5.85zM1503.84,230.34h5.85v3.07h-5.85zM1569.63,220.74h5.85v3.07h-5.85zM1689.26,214.34h5.85v3.07h-5.85zM1665.34,217.54h5.85v3.07h-5.85zM1796.93,230.34h5.85v3.07h-5.85zM1659.35,243.14h5.85v3.07h-5.85zM1575.62,246.34h5.85v3.07h-5.85zM1641.41,246.34h5.85v3.07h-5.85zM1557.67,249.53h5.85v3.07h-5.85zM1623.47,252.73h5.85v3.07h-5.85zM1653.37,252.73h5.85v3.07h-5.85zM1623.47,255.93h5.85v3.07h-5.85zM1575.62,268.73h5.85v3.07h-5.85zM1557.67,278.33h5.85v3.07h-5.85zM1593.56,281.53h5.85v3.07h-5.85zM1557.67,284.73h5.85v3.07h-5.85zM1527.76,287.93h5.85v3.07h-5.85zM1737.11,259.13h5.85v3.07h-5.85zM1515.80,294.33h5.85v3.07h-5.85zM1539.73,297.53h5.85v3.07h-5.85zM1569.63,297.53h5.85v3.07h-5.85zM1533.75,300.73h5.85v3.07h-5.85zM1587.58,310.32h5.85v3.07h-5.85zM1605.52,310.32h5.85v3.07h-5.85zM1641.41,300.73h5.85v3.07h-5.85zM1575.62,345.52h5.85v3.07h-5.85zM1665.34,409.50h5.85v3.07h-5.85zM1713.19,441.50h5.85v3.07h-5.85z"/><path fill="#25ab82" d="M1330.38,137.56h5.85v3.07h-5.85zM1503.84,115.16h5.85v3.07h-5.85zM1467.95,179.15h5.85v3.07h-5.85zM1551.69,182.35h5.85v3.07h-5.85zM1695.24,191.95h5.85v3.07h-5.85zM1761.04,147.15h5.85v3.07h-5.85zM1725.15,169.55h5.85v3.07h-5.85zM1814.87,172.75h5.85v3.07h-5.85zM1390.19,201.54h5.85v3.07h-5.85zM1432.06,214.34h5.85v3.07h-5.85zM1432.06,220.74h5.85v3.07h-5.85zM1450.01,223.94h5.85v3.07h-5.85zM1438.04,233.54h5.85v3.07h-5.85zM1467.95,233.54h5.85v3.07h-5.85zM1461.97,243.14h5.85v3.07h-5.85zM1467.95,255.93h5.85v3.07h-5.85zM1485.89,278.33h5.85v3.07h-5.85zM1515.80,284.73h5.85v3.07h-5.85zM1539.73,249.53h5.85v3.07h-5.85zM1671.32,255.93h5.85v3.07h-5.85zM1647.39,262.33h5.85v3.07h-5.85zM1689.26,284.73h5.85v3.07h-5.85zM1605.52,316.72h5.85v3.07h-5.85zM1695.24,294.33h5.85v3.07h-5.85zM1653.37,303.92h5.85v3.07h-5.85zM1695.24,303.92h5.85v3.07h-5.85zM1671.32,307.12h5.85v3.07h-5.85zM1623.47,310.32h5.85v3.07h-5.85zM1599.54,361.51h5.85v3.07h-5.85zM1677.30,419.10h5.85v3.07h-5.85z"/><path fill="#84d44b" d="M1294.49,143.95h5.85v3.07h-5.85zM1420.10,166.35h5.85v3.07h-5.85zM1378.23,169.55h5.85v3.07h-5.85zM1450.01,233.54h5.85v3.07h-5.85zM1569.63,214.34h5.85v3.07h-5.85zM1587.58,275.13h5.85v3.07h-5.85zM1563.65,319.92h5.85v3.07h-5.85zM1593.56,319.92h5.85v3.07h-5.85zM1569.63,323.12h5.85v3.07h-5.85zM1581.60,323.12h5.85v3.07h-5.85zM1605.52,323.12h5.85v3.07h-5.85zM1575.62,329.52h5.85v3.07h-5.85zM1653.37,355.12h5.85v3.07h-5.85z"/><path fill="#39568c" d="M1318.42,150.35h5.85v3.07h-5.85zM1402.15,140.76h5.85v3.07h-5.85zM1426.08,166.35h5.85v3.07h-5.85zM1533.75,124.76h5.85v3.07h-5.85zM1539.73,153.55h5.85v3.07h-5.85zM1545.71,185.55h5.85v3.07h-5.85zM1545.71,188.75h5.85v3.07h-5.85zM1587.58,191.95h5.85v3.07h-5.85zM1509.82,239.94h5.85v3.07h-5.85zM1557.67,230.34h5.85v3.07h-5.85zM1587.58,233.54h5.85v3.07h-5.85zM1659.35,220.74h5.85v3.07h-5.85zM1647.39,223.94h5.85v3.07h-5.85zM1509.82,265.53h5.85v3.07h-5.85zM1605.52,259.13h5.85v3.07h-5.85zM1539.73,262.33h5.85v3.07h-5.85zM1605.52,268.73h5.85v3.07h-5.85zM1695.24,268.73h5.85v3.07h-5.85zM1581.60,271.93h5.85v3.07h-5.85zM1551.69,275.13h5.85v3.07h-5.85zM1677.30,297.53h5.85v3.07h-5.85zM1689.26,303.92h5.85v3.07h-5.85z"/><path fill="#1f988b" d="M1324.40,156.75h5.85v3.07h-5.85zM1342.34,153.55h5.85v3.07h-5.85zM1420.10,159.95h5.85v3.07h-5.85zM1384.21,169.55h5.85v3.07h-5.85zM1360.28,182.35h5.85v3.07h-5.85zM1402.15,188.75h5.85v3.07h-5.85zM1473.93,191.95h5.85v3.07h-5.85zM1563.65,179.15h5.85v3.07h-5.85zM1725.15,182.35h5.85v3.07h-5.85zM1390.19,195.15h5.85v3.07h-5.85zM1402.15,198.34h5.85v3.07h-5.85zM1479.91,195.15h5.85v3.07h-5.85zM1467.95,198.34h5.85v3.07h-5.85zM1438.04,214.34h5.85v3.07h-5.85zM1479.91,230.34h5.85v3.07h-5.85zM1521.78,233.54h5.85v3.07h-5.85zM1473.93,236.74h5.85v3.07h-5.85zM1533.75,198.34h5.85v3.07h-5.85zM1545.71,230.34h5.85v3.07h-5.85zM1551.69,233.54h5.85v3.07h-5.85zM1581.60,233.54h5.85v3.07h-5.85zM1701.22,201.54h5.85v3.07h-5.85zM1683.28,214.34h5.85v3.07h-5.85zM1647.39,227.14h5.85v3.07h-5.85zM1659.35,230.34h5.85v3.07h-5.85zM1467.95,243.14h5.85v3.07h-5.85zM1497.86,259.13h5.85v3.07h-5.85zM1509.82,284.73h5.85v3.07h-5.85zM1671.32,246.34h5.85v3.07h-5.85zM1581.60,249.53h5.85v3.07h-5.85zM1617.49,249.53h5.85v3.07h-5.85zM1581.60,265.53h5.85v3.07h-5.85zM1701.22,284.73h5.85v3.07h-5.85zM1605.52,313.52h5.85v3.07h-5.85zM1581.60,335.92h5.85v3.07h-5.85zM1641.41,294.33h5.85v3.07h-5.85zM1695.24,300.73h5.85v3.07h-5.85zM1599.54,339.12h5.85v3.07h-5.85zM1743.09,383.91h5.85v3.07h-5.85zM1647.39,393.51h5.85v3.07h-5.85zM1671.32,399.91h5.85v3.07h-5.85zM1707.21,422.30h5.85v3.07h-5.85z"/><path fill="#1f948c" d="M1330.38,182.35h5.85v3.07h-5.85zM1461.97,172.75h5.85v3.07h-5.85zM1557.67,179.15h5.85v3.07h-5.85zM1414.12,201.54h5.85v3.07h-5.85zM1408.14,207.94h5.85v3.07h-5.85zM1408.14,220.74h5.85v3.07h-5.85zM1461.97,195.15h5.85v3.07h-5.85zM1444.02,214.34h5.85v3.07h-5.85zM1479.91,214.34h5.85v3.07h-5.85zM1444.02,236.74h5.85v3.07h-5.85zM1485.89,239.94h5.85v3.07h-5.85zM1521.78,239.94h5.85v3.07h-5.85zM1527.76,198.34h5.85v3.07h-5.85zM1527.76,201.54h5.85v3.07h-5.85zM1533.75,207.94h5.85v3.07h-5.85zM1545.71,233.54h5.85v3.07h-5.85zM1784.96,217.54h5.85v3.07h-5.85zM1677.30,223.94h5.85v3.07h-5.85zM1683.28,223.94h5.85v3.07h-5.85zM1671.32,227.14h5.85v3.07h-5.85zM1521.78,246.34h5.85v3.07h-5.85zM1509.82,255.93h5.85v3.07h-5.85zM1485.89,259.13h5.85v3.07h-5.85zM1509.82,262.33h5.85v3.07h-5.85zM1527.76,243.14h5.85v3.07h-5.85zM1563.65,249.53h5.85v3.07h-5.85zM1587.58,252.73h5.85v3.07h-5.85zM1551.69,255.93h5.85v3.07h-5.85zM1527.76,259.13h5.85v3.07h-5.85zM1563.65,259.13h5.85v3.07h-5.85zM1593.56,259.13h5.85v3.07h-5.85zM1557.67,265.53h5.85v3.07h-5.85zM1671.32,265.53h5.85v3.07h-5.85zM1611.50,268.73h5.85v3.07h-5.85zM1605.52,271.93h5.85v3.07h-5.85zM1617.49,281.53h5.85v3.07h-5.85zM1545.71,284.73h5.85v3.07h-5.85zM1551.69,284.73h5.85v3.07h-5.85zM1623.47,284.73h5.85v3.07h-5.85zM1713.19,271.93h5.85v3.07h-5.85zM1593.56,297.53h5.85v3.07h-5.85zM1653.37,291.13h5.85v3.07h-5.85zM1725.15,294.33h5.85v3.07h-5.85zM1629.45,297.53h5.85v3.07h-5.85zM1617.49,310.32h5.85v3.07h-5.85zM1641.41,310.32h5.85v3.07h-5.85zM1611.50,339.12h5.85v3.07h-5.85zM1599.54,351.92h5.85v3.07h-5.85zM1617.49,345.52h5.85v3.07h-5.85zM1623.47,364.71h5.85v3.07h-5.85zM1647.39,396.71h5.85v3.07h-5.85z"/><path fill="#38b977" d="M1342.34,159.95h5.85v3.07h-5.85zM1372.25,175.95h5.85v3.07h-5.85zM1438.04,188.75h5.85v3.07h-5.85zM1551.69,191.95h5.85v3.07h-5.85zM1408.14,204.74h5.85v3.07h-5.85zM1390.19,220.74h5.85v3.07h-5.85zM1450.01,195.15h5.85v3.07h-5.85zM1450.01,198.34h5.85v3.07h-5.85zM1455.99,211.14h5.85v3.07h-5.85zM1497.86,220.74h5.85v3.07h-5.85zM1491.88,223.94h5.85v3.07h-5.85zM1455.99,230.34h5.85v3.07h-5.85zM1539.73,217.54h5.85v3.07h-5.85zM1671.32,275.13h5.85v3.07h-5.85zM1659.35,284.73h5.85v3.07h-5.85zM1545.71,316.72h5.85v3.07h-5.85zM1557.67,316.72h5.85v3.07h-5.85zM1563.65,316.72h5.85v3.07h-5.85zM1557.67,319.92h5.85v3.07h-5.85zM1611.50,319.92h5.85v3.07h-5.85zM1611.50,323.12h5.85v3.07h-5.85zM1575.62,335.92h5.85v3.07h-5.85zM1665.34,303.92h5.85v3.07h-5.85zM1635.43,310.32h5.85v3.07h-5.85zM1641.41,313.52h5.85v3.07h-5.85zM1623.47,316.72h5.85v3.07h-5.85zM1623.47,319.92h5.85v3.07h-5.85zM1629.45,342.32h5.85v3.07h-5.85zM1683.28,371.11h5.85v3.07h-5.85zM1629.45,383.91h5.85v3.07h-5.85zM1641.41,383.91h5.85v3.07h-5.85zM1665.34,390.31h5.85v3.07h-5.85zM1719.17,438.30h5.85v3.07h-5.85z"/><path fill="#23898e" d="M1342.34,163.15h5.85v3.07h-5.85zM1527.76,172.75h5.85v3.07h-5.85zM1420.10,217.54h5.85v3.07h-5.85zM1420.10,220.74h5.85v3.07h-5.85zM1479.91,198.34h5.85v3.07h-5.85zM1444.02,230.34h5.85v3.07h-5.85zM1455.99,236.74h5.85v3.07h-5.85zM1575.62,211.14h5.85v3.07h-5.85zM1539.73,236.74h5.85v3.07h-5.85zM1677.30,220.74h5.85v3.07h-5.85zM1635.43,230.34h5.85v3.07h-5.85zM1450.01,243.14h5.85v3.07h-5.85zM1473.93,249.53h5.85v3.07h-5.85zM1503.84,271.93h5.85v3.07h-5.85zM1485.89,275.13h5.85v3.07h-5.85zM1497.86,275.13h5.85v3.07h-5.85zM1515.80,275.13h5.85v3.07h-5.85zM1491.88,278.33h5.85v3.07h-5.85zM1509.82,278.33h5.85v3.07h-5.85zM1515.80,278.33h5.85v3.07h-5.85zM1533.75,249.53h5.85v3.07h-5.85zM1653.37,249.53h5.85v3.07h-5.85zM1563.65,255.93h5.85v3.07h-5.85zM1551.69,259.13h5.85v3.07h-5.85zM1623.47,259.13h5.85v3.07h-5.85zM1557.67,262.33h5.85v3.07h-5.85zM1533.75,265.53h5.85v3.07h-5.85zM1527.76,271.93h5.85v3.07h-5.85zM1599.54,271.93h5.85v3.07h-5.85zM1617.49,275.13h5.85v3.07h-5.85zM1665.34,275.13h5.85v3.07h-5.85zM1695.24,275.13h5.85v3.07h-5.85zM1539.73,281.53h5.85v3.07h-5.85zM1545.71,281.53h5.85v3.07h-5.85zM1629.45,281.53h5.85v3.07h-5.85zM1527.76,284.73h5.85v3.07h-5.85zM1569.63,284.73h5.85v3.07h-5.85zM1599.54,284.73h5.85v3.07h-5.85zM1653.37,284.73h5.85v3.07h-5.85zM1749.08,255.93h5.85v3.07h-5.85zM1515.80,291.13h5.85v3.07h-5.85zM1575.62,291.13h5.85v3.07h-5.85zM1563.65,294.33h5.85v3.07h-5.85zM1593.56,294.33h5.85v3.07h-5.85zM1563.65,303.92h5.85v3.07h-5.85zM1533.75,307.12h5.85v3.07h-5.85zM1569.63,307.12h5.85v3.07h-5.85zM1581.60,310.32h5.85v3.07h-5.85zM1593.56,310.32h5.85v3.07h-5.85zM1557.67,313.52h5.85v3.07h-5.85zM1575.62,313.52h5.85v3.07h-5.85zM1629.45,291.13h5.85v3.07h-5.85zM1635.43,297.53h5.85v3.07h-5.85zM1689.26,297.53h5.85v3.07h-5.85zM1665.34,307.12h5.85v3.07h-5.85zM1683.28,310.32h5.85v3.07h-5.85zM1617.49,335.92h5.85v3.07h-5.85zM1611.50,351.92h5.85v3.07h-5.85zM1683.28,415.90h5.85v3.07h-5.85z"/><path fill="#277e8e" d="M1432.06,108.76h5.85v3.07h-5.85zM1473.93,108.76h5.85v3.07h-5.85zM1384.21,159.95h5.85v3.07h-5.85zM1527.76,188.75h5.85v3.07h-5.85zM1533.75,191.95h5.85v3.07h-5.85zM1420.10,198.34h5.85v3.07h-5.85zM1420.10,207.94h5.85v3.07h-5.85zM1384.21,217.54h5.85v3.07h-5.85zM1455.99,207.94h5.85v3.07h-5.85zM1461.97,211.14h5.85v3.07h-5.85zM1479.91,223.94h5.85v3.07h-5.85zM1575.62,198.34h5.85v3.07h-5.85zM1563.65,223.94h5.85v3.07h-5.85zM1557.67,236.74h5.85v3.07h-5.85zM1563.65,239.94h5.85v3.07h-5.85zM1683.28,204.74h5.85v3.07h-5.85zM1653.37,227.14h5.85v3.07h-5.85zM1497.86,243.14h5.85v3.07h-5.85zM1467.95,246.34h5.85v3.07h-5.85zM1473.93,252.73h5.85v3.07h-5.85zM1515.80,252.73h5.85v3.07h-5.85zM1521.78,262.33h5.85v3.07h-5.85zM1515.80,268.73h5.85v3.07h-5.85zM1491.88,271.93h5.85v3.07h-5.85zM1497.86,281.53h5.85v3.07h-5.85zM1533.75,246.34h5.85v3.07h-5.85zM1563.65,246.34h5.85v3.07h-5.85zM1569.63,249.53h5.85v3.07h-5.85zM1545.71,252.73h5.85v3.07h-5.85zM1527.76,262.33h5.85v3.07h-5.85zM1629.45,262.33h5.85v3.07h-5.85zM1617.49,265.53h5.85v3.07h-5.85zM1653.37,265.53h5.85v3.07h-5.85zM1587.58,268.73h5.85v3.07h-5.85zM1539.73,271.93h5.85v3.07h-5.85zM1551.69,271.93h5.85v3.07h-5.85zM1563.65,271.93h5.85v3.07h-5.85zM1593.56,271.93h5.85v3.07h-5.85zM1527.76,275.13h5.85v3.07h-5.85zM1563.65,275.13h5.85v3.07h-5.85zM1527.76,278.33h5.85v3.07h-5.85zM1551.69,278.33h5.85v3.07h-5.85zM1575.62,278.33h5.85v3.07h-5.85zM1581.60,278.33h5.85v3.07h-5.85zM1665.34,278.33h5.85v3.07h-5.85zM1605.52,281.53h5.85v3.07h-5.85zM1593.56,284.73h5.85v3.07h-5.85zM1611.50,284.73h5.85v3.07h-5.85zM1635.43,284.73h5.85v3.07h-5.85zM1539.73,287.93h5.85v3.07h-5.85zM1545.71,287.93h5.85v3.07h-5.85zM1623.47,287.93h5.85v3.07h-5.85zM1653.37,287.93h5.85v3.07h-5.85zM1737.11,275.13h5.85v3.07h-5.85zM1509.82,291.13h5.85v3.07h-5.85zM1521.78,291.13h5.85v3.07h-5.85zM1527.76,291.13h5.85v3.07h-5.85zM1521.78,294.33h5.85v3.07h-5.85zM1551.69,294.33h5.85v3.07h-5.85zM1611.50,294.33h5.85v3.07h-5.85zM1599.54,297.53h5.85v3.07h-5.85zM1563.65,300.73h5.85v3.07h-5.85zM1575.62,303.92h5.85v3.07h-5.85zM1545.71,307.12h5.85v3.07h-5.85zM1581.60,307.12h5.85v3.07h-5.85zM1545.71,310.32h5.85v3.07h-5.85zM1569.63,313.52h5.85v3.07h-5.85zM1581.60,313.52h5.85v3.07h-5.85zM1677.30,300.73h5.85v3.07h-5.85zM1653.37,307.12h5.85v3.07h-5.85zM1581.60,345.52h5.85v3.07h-5.85zM1599.54,355.12h5.85v3.07h-5.85zM1611.50,355.12h5.85v3.07h-5.85zM1599.54,358.31h5.85v3.07h-5.85zM1647.39,355.12h5.85v3.07h-5.85zM1659.35,358.31h5.85v3.07h-5.85zM1635.43,383.91h5.85v3.07h-5.85z"/><path fill="#1e9c89" d="M1420.10,118.36h5.85v3.07h-5.85zM1414.12,156.75h5.85v3.07h-5.85zM1444.02,159.95h5.85v3.07h-5.85zM1360.28,163.15h5.85v3.07h-5.85zM1348.32,169.55h5.85v3.07h-5.85zM1497.86,172.75h5.85v3.07h-5.85zM1378.23,182.35h5.85v3.07h-5.85zM1521.78,182.35h5.85v3.07h-5.85zM1438.04,185.55h5.85v3.07h-5.85zM1402.15,204.74h5.85v3.07h-5.85zM1414.12,204.74h5.85v3.07h-5.85zM1408.14,211.14h5.85v3.07h-5.85zM1420.10,236.74h5.85v3.07h-5.85zM1461.97,207.94h5.85v3.07h-5.85zM1450.01,220.74h5.85v3.07h-5.85zM1438.04,227.14h5.85v3.07h-5.85zM1461.97,230.34h5.85v3.07h-5.85zM1450.01,239.94h5.85v3.07h-5.85zM1491.88,239.94h5.85v3.07h-5.85zM1695.24,195.15h5.85v3.07h-5.85zM1701.22,220.74h5.85v3.07h-5.85zM1629.45,223.94h5.85v3.07h-5.85zM1623.47,236.74h5.85v3.07h-5.85zM1635.43,239.94h5.85v3.07h-5.85zM1444.02,243.14h5.85v3.07h-5.85zM1521.78,252.73h5.85v3.07h-5.85zM1467.95,268.73h5.85v3.07h-5.85zM1563.65,243.14h5.85v3.07h-5.85zM1635.43,243.14h5.85v3.07h-5.85zM1701.22,259.13h5.85v3.07h-5.85zM1581.60,262.33h5.85v3.07h-5.85zM1599.54,262.33h5.85v3.07h-5.85zM1653.37,262.33h5.85v3.07h-5.85zM1527.76,265.53h5.85v3.07h-5.85zM1575.62,275.13h5.85v3.07h-5.85zM1641.41,284.73h5.85v3.07h-5.85zM1629.45,287.93h5.85v3.07h-5.85zM1527.76,297.53h5.85v3.07h-5.85zM1551.69,316.72h5.85v3.07h-5.85zM1593.56,316.72h5.85v3.07h-5.85zM1593.56,335.92h5.85v3.07h-5.85zM1599.54,335.92h5.85v3.07h-5.85zM1611.50,335.92h5.85v3.07h-5.85zM1629.45,300.73h5.85v3.07h-5.85zM1629.45,303.92h5.85v3.07h-5.85zM1635.43,307.12h5.85v3.07h-5.85zM1629.45,310.32h5.85v3.07h-5.85zM1653.37,310.32h5.85v3.07h-5.85zM1659.35,310.32h5.85v3.07h-5.85zM1647.39,313.52h5.85v3.07h-5.85zM1659.35,313.52h5.85v3.07h-5.85zM1605.52,339.12h5.85v3.07h-5.85zM1617.49,339.12h5.85v3.07h-5.85zM1635.43,393.51h5.85v3.07h-5.85zM1689.26,425.50h5.85v3.07h-5.85z"/><path fill="#67cc5c" d="M1509.82,124.76h5.85v3.07h-5.85zM1378.23,198.34h5.85v3.07h-5.85zM1455.99,223.94h5.85v3.07h-5.85zM1593.56,332.72h5.85v3.07h-5.85zM1737.11,441.50h5.85v3.07h-5.85z"/><path fill="#3b528b" d="M1390.19,131.16h5.85v3.07h-5.85zM1432.06,182.35h5.85v3.07h-5.85zM1378.23,188.75h5.85v3.07h-5.85zM1533.75,137.56h5.85v3.07h-5.85zM1545.71,179.15h5.85v3.07h-5.85zM1725.15,159.95h5.85v3.07h-5.85zM1551.69,223.94h5.85v3.07h-5.85zM1551.69,227.14h5.85v3.07h-5.85zM1438.04,249.53h5.85v3.07h-5.85zM1491.88,252.73h5.85v3.07h-5.85zM1497.86,252.73h5.85v3.07h-5.85zM1497.86,262.33h5.85v3.07h-5.85zM1647.39,243.14h5.85v3.07h-5.85zM1665.34,243.14h5.85v3.07h-5.85zM1617.49,255.93h5.85v3.07h-5.85zM1533.75,284.73h5.85v3.07h-5.85zM1647.39,287.93h5.85v3.07h-5.85zM1665.34,300.73h5.85v3.07h-5.85zM1683.28,364.71h5.85v3.07h-5.85zM1617.49,367.91h5.85v3.07h-5.85zM1635.43,371.11h5.85v3.07h-5.85z"/><path fill="#21918c" d="M1509.82,140.76h5.85v3.07h-5.85zM1366.27,147.15h5.85v3.07h-5.85zM1384.21,172.75h5.85v3.07h-5.85zM1402.15,182.35h5.85v3.07h-5.85zM1420.10,188.75h5.85v3.07h-5.85zM1527.76,169.55h5.85v3.07h-5.85zM1426.08,207.94h5.85v3.07h-5.85zM1432.06,207.94h5.85v3.07h-5.85zM1426.08,211.14h5.85v3.07h-5.85zM1426.08,220.74h5.85v3.07h-5.85zM1455.99,204.74h5.85v3.07h-5.85zM1450.01,214.34h5.85v3.07h-5.85zM1503.84,227.14h5.85v3.07h-5.85zM1491.88,236.74h5.85v3.07h-5.85zM1515.80,239.94h5.85v3.07h-5.85zM1557.67,214.34h5.85v3.07h-5.85zM1569.63,217.54h5.85v3.07h-5.85zM1533.75,227.14h5.85v3.07h-5.85zM1563.65,236.74h5.85v3.07h-5.85zM1731.13,204.74h5.85v3.07h-5.85zM1677.30,239.94h5.85v3.07h-5.85zM1784.96,239.94h5.85v3.07h-5.85zM1473.93,243.14h5.85v3.07h-5.85zM1485.89,249.53h5.85v3.07h-5.85zM1479.91,265.53h5.85v3.07h-5.85zM1491.88,265.53h5.85v3.07h-5.85zM1515.80,265.53h5.85v3.07h-5.85zM1497.86,271.93h5.85v3.07h-5.85zM1503.84,278.33h5.85v3.07h-5.85zM1521.78,281.53h5.85v3.07h-5.85zM1521.78,287.93h5.85v3.07h-5.85zM1533.75,243.14h5.85v3.07h-5.85zM1635.43,249.53h5.85v3.07h-5.85zM1665.34,252.73h5.85v3.07h-5.85zM1533.75,259.13h5.85v3.07h-5.85zM1557.67,259.13h5.85v3.07h-5.85zM1569.63,259.13h5.85v3.07h-5.85zM1629.45,259.13h5.85v3.07h-5.85zM1641.41,259.13h5.85v3.07h-5.85zM1569.63,262.33h5.85v3.07h-5.85zM1629.45,265.53h5.85v3.07h-5.85zM1635.43,268.73h5.85v3.07h-5.85zM1575.62,271.93h5.85v3.07h-5.85zM1569.63,278.33h5.85v3.07h-5.85zM1611.50,278.33h5.85v3.07h-5.85zM1617.49,278.33h5.85v3.07h-5.85zM1611.50,281.53h5.85v3.07h-5.85zM1623.47,281.53h5.85v3.07h-5.85zM1629.45,284.73h5.85v3.07h-5.85zM1563.65,287.93h5.85v3.07h-5.85zM1641.41,287.93h5.85v3.07h-5.85zM1569.63,291.13h5.85v3.07h-5.85zM1611.50,291.13h5.85v3.07h-5.85zM1539.73,294.33h5.85v3.07h-5.85zM1605.52,300.73h5.85v3.07h-5.85zM1545.71,313.52h5.85v3.07h-5.85zM1551.69,319.92h5.85v3.07h-5.85zM1671.32,294.33h5.85v3.07h-5.85zM1635.43,303.92h5.85v3.07h-5.85zM1587.58,339.12h5.85v3.07h-5.85zM1593.56,339.12h5.85v3.07h-5.85zM1599.54,348.72h5.85v3.07h-5.85zM1605.52,351.92h5.85v3.07h-5.85zM1593.56,355.12h5.85v3.07h-5.85zM1605.52,358.31h5.85v3.07h-5.85zM1611.50,377.51h5.85v3.07h-5.85zM1617.49,361.51h5.85v3.07h-5.85zM1653.37,396.71h5.85v3.07h-5.85zM1342.34,195.15h5.85v3.07h-5.85z"/><path fill="#fde725" d="M1509.82,150.35h5.85v3.07h-5.85z"/><path fill="#2f6b8e" d="M1414.12,153.55h5.85v3.07h-5.85zM1390.19,182.35h5.85v3.07h-5.85zM1450.01,188.75h5.85v3.07h-5.85zM1545.71,163.15h5.85v3.07h-5.85zM1527.76,166.35h5.85v3.07h-5.85zM1527.76,185.55h5.85v3.07h-5.85zM1575.62,188.75h5.85v3.07h-5.85zM1354.30,201.54h5.85v3.07h-5.85zM1467.95,211.14h5.85v3.07h-5.85zM1551.69,201.54h5.85v3.07h-5.85zM1539.73,211.14h5.85v3.07h-5.85zM1533.75,223.94h5.85v3.07h-5.85zM1575.62,233.54h5.85v3.07h-5.85zM1527.76,239.94h5.85v3.07h-5.85zM1617.49,239.94h5.85v3.07h-5.85zM1485.89,246.34h5.85v3.07h-5.85zM1641.41,243.14h5.85v3.07h-5.85zM1575.62,249.53h5.85v3.07h-5.85zM1647.39,249.53h5.85v3.07h-5.85zM1557.67,252.73h5.85v3.07h-5.85zM1557.67,255.93h5.85v3.07h-5.85zM1653.37,255.93h5.85v3.07h-5.85zM1551.69,265.53h5.85v3.07h-5.85zM1611.50,265.53h5.85v3.07h-5.85zM1695.24,271.93h5.85v3.07h-5.85zM1623.47,278.33h5.85v3.07h-5.85zM1629.45,278.33h5.85v3.07h-5.85zM1551.69,297.53h5.85v3.07h-5.85zM1605.52,297.53h5.85v3.07h-5.85zM1569.63,300.73h5.85v3.07h-5.85zM1605.52,307.12h5.85v3.07h-5.85zM1575.62,310.32h5.85v3.07h-5.85zM1617.49,303.92h5.85v3.07h-5.85zM1587.58,348.72h5.85v3.07h-5.85zM1605.52,348.72h5.85v3.07h-5.85zM1611.50,358.31h5.85v3.07h-5.85zM1635.43,380.71h5.85v3.07h-5.85zM1641.41,399.91h5.85v3.07h-5.85zM1647.39,406.31h5.85v3.07h-5.85z"/><path fill="#2c728e" d="M1515.80,153.55h5.85v3.07h-5.85zM1479.91,175.95h5.85v3.07h-5.85zM1515.80,179.15h5.85v3.07h-5.85zM1390.19,188.75h5.85v3.07h-5.85zM1539.73,134.36h5.85v3.07h-5.85zM1539.73,143.95h5.85v3.07h-5.85zM1551.69,150.35h5.85v3.07h-5.85zM1432.06,211.14h5.85v3.07h-5.85zM1426.08,217.54h5.85v3.07h-5.85zM1473.93,217.54h5.85v3.07h-5.85zM1515.80,223.94h5.85v3.07h-5.85zM1545.71,198.34h5.85v3.07h-5.85zM1533.75,211.14h5.85v3.07h-5.85zM1737.11,207.94h5.85v3.07h-5.85zM1790.95,220.74h5.85v3.07h-5.85zM1503.84,249.53h5.85v3.07h-5.85zM1515.80,255.93h5.85v3.07h-5.85zM1515.80,262.33h5.85v3.07h-5.85zM1503.84,281.53h5.85v3.07h-5.85zM1509.82,281.53h5.85v3.07h-5.85zM1497.86,284.73h5.85v3.07h-5.85zM1503.84,287.93h5.85v3.07h-5.85zM1557.67,243.14h5.85v3.07h-5.85zM1641.41,249.53h5.85v3.07h-5.85zM1659.35,259.13h5.85v3.07h-5.85zM1623.47,262.33h5.85v3.07h-5.85zM1641.41,278.33h5.85v3.07h-5.85zM1671.32,278.33h5.85v3.07h-5.85zM1557.67,281.53h5.85v3.07h-5.85zM1671.32,287.93h5.85v3.07h-5.85zM1557.67,291.13h5.85v3.07h-5.85zM1569.63,294.33h5.85v3.07h-5.85zM1587.58,294.33h5.85v3.07h-5.85zM1557.67,297.53h5.85v3.07h-5.85zM1581.60,297.53h5.85v3.07h-5.85zM1539.73,300.73h5.85v3.07h-5.85zM1551.69,300.73h5.85v3.07h-5.85zM1557.67,300.73h5.85v3.07h-5.85zM1581.60,300.73h5.85v3.07h-5.85zM1551.69,303.92h5.85v3.07h-5.85zM1641.41,380.71h5.85v3.07h-5.85zM1844.78,441.50h5.85v3.07h-5.85z"/><path fill="#a2da37" d="M1348.32,156.75h5.85v3.07h-5.85zM1784.96,425.50h5.85v3.07h-5.85z"/><path fill="#20a386" d="M1515.80,163.15h5.85v3.07h-5.85zM1432.06,172.75h5.85v3.07h-5.85zM1408.14,182.35h5.85v3.07h-5.85zM1402.15,191.95h5.85v3.07h-5.85zM1408.14,198.34h5.85v3.07h-5.85zM1420.10,204.74h5.85v3.07h-5.85zM1378.23,214.34h5.85v3.07h-5.85zM1497.86,195.15h5.85v3.07h-5.85zM1455.99,198.34h5.85v3.07h-5.85zM1473.93,214.34h5.85v3.07h-5.85zM1467.95,217.54h5.85v3.07h-5.85zM1444.02,220.74h5.85v3.07h-5.85zM1485.89,233.54h5.85v3.07h-5.85zM1450.01,236.74h5.85v3.07h-5.85zM1473.93,239.94h5.85v3.07h-5.85zM1581.60,201.54h5.85v3.07h-5.85zM1569.63,207.94h5.85v3.07h-5.85zM1533.75,220.74h5.85v3.07h-5.85zM1647.39,211.14h5.85v3.07h-5.85zM1473.93,255.93h5.85v3.07h-5.85zM1569.63,243.14h5.85v3.07h-5.85zM1581.60,246.34h5.85v3.07h-5.85zM1539.73,259.13h5.85v3.07h-5.85zM1545.71,262.33h5.85v3.07h-5.85zM1767.02,275.13h5.85v3.07h-5.85zM1713.19,278.33h5.85v3.07h-5.85zM1623.47,291.13h5.85v3.07h-5.85zM1641.41,291.13h5.85v3.07h-5.85zM1659.35,294.33h5.85v3.07h-5.85zM1629.45,307.12h5.85v3.07h-5.85zM1629.45,313.52h5.85v3.07h-5.85zM1575.62,339.12h5.85v3.07h-5.85zM1587.58,355.12h5.85v3.07h-5.85zM1641.41,374.31h5.85v3.07h-5.85zM1635.43,396.71h5.85v3.07h-5.85z"/><path fill="#228d8d" d="M1384.21,175.95h5.85v3.07h-5.85zM1432.06,175.95h5.85v3.07h-5.85zM1438.04,175.95h5.85v3.07h-5.85zM1402.15,179.15h5.85v3.07h-5.85zM1366.27,182.35h5.85v3.07h-5.85zM1384.21,188.75h5.85v3.07h-5.85zM1521.78,188.75h5.85v3.07h-5.85zM1533.75,188.75h5.85v3.07h-5.85zM1539.73,188.75h5.85v3.07h-5.85zM1414.12,198.34h5.85v3.07h-5.85zM1426.08,198.34h5.85v3.07h-5.85zM1426.08,214.34h5.85v3.07h-5.85zM1426.08,223.94h5.85v3.07h-5.85zM1432.06,239.94h5.85v3.07h-5.85zM1491.88,207.94h5.85v3.07h-5.85zM1509.82,211.14h5.85v3.07h-5.85zM1467.95,214.34h5.85v3.07h-5.85zM1450.01,217.54h5.85v3.07h-5.85zM1479.91,220.74h5.85v3.07h-5.85zM1503.84,223.94h5.85v3.07h-5.85zM1533.75,195.15h5.85v3.07h-5.85zM1557.67,204.74h5.85v3.07h-5.85zM1527.76,223.94h5.85v3.07h-5.85zM1575.62,227.14h5.85v3.07h-5.85zM1569.63,233.54h5.85v3.07h-5.85zM1545.71,239.94h5.85v3.07h-5.85zM1695.24,207.94h5.85v3.07h-5.85zM1820.85,230.34h5.85v3.07h-5.85zM1479.91,252.73h5.85v3.07h-5.85zM1503.84,252.73h5.85v3.07h-5.85zM1485.89,255.93h5.85v3.07h-5.85zM1491.88,255.93h5.85v3.07h-5.85zM1521.78,255.93h5.85v3.07h-5.85zM1479.91,259.13h5.85v3.07h-5.85zM1503.84,268.73h5.85v3.07h-5.85zM1473.93,271.93h5.85v3.07h-5.85zM1515.80,271.93h5.85v3.07h-5.85zM1521.78,278.33h5.85v3.07h-5.85zM1521.78,284.73h5.85v3.07h-5.85zM1551.69,243.14h5.85v3.07h-5.85zM1551.69,252.73h5.85v3.07h-5.85zM1629.45,252.73h5.85v3.07h-5.85zM1539.73,255.93h5.85v3.07h-5.85zM1545.71,259.13h5.85v3.07h-5.85zM1533.75,268.73h5.85v3.07h-5.85zM1569.63,268.73h5.85v3.07h-5.85zM1647.39,268.73h5.85v3.07h-5.85zM1611.50,275.13h5.85v3.07h-5.85zM1635.43,275.13h5.85v3.07h-5.85zM1677.30,278.33h5.85v3.07h-5.85zM1527.76,281.53h5.85v3.07h-5.85zM1533.75,281.53h5.85v3.07h-5.85zM1563.65,281.53h5.85v3.07h-5.85zM1665.34,281.53h5.85v3.07h-5.85zM1539.73,284.73h5.85v3.07h-5.85zM1551.69,287.93h5.85v3.07h-5.85zM1557.67,287.93h5.85v3.07h-5.85zM1575.62,287.93h5.85v3.07h-5.85zM1533.75,294.33h5.85v3.07h-5.85zM1599.54,294.33h5.85v3.07h-5.85zM1515.80,297.53h5.85v3.07h-5.85zM1563.65,297.53h5.85v3.07h-5.85zM1527.76,300.73h5.85v3.07h-5.85zM1587.58,303.92h5.85v3.07h-5.85zM1539.73,307.12h5.85v3.07h-5.85zM1611.50,307.12h5.85v3.07h-5.85zM1563.65,310.32h5.85v3.07h-5.85zM1599.54,310.32h5.85v3.07h-5.85zM1587.58,313.52h5.85v3.07h-5.85zM1719.17,291.13h5.85v3.07h-5.85zM1623.47,300.73h5.85v3.07h-5.85zM1683.28,303.92h5.85v3.07h-5.85zM1575.62,342.32h5.85v3.07h-5.85zM1611.50,342.32h5.85v3.07h-5.85zM1611.50,367.91h5.85v3.07h-5.85zM1623.47,348.72h5.85v3.07h-5.85zM1641.41,351.92h5.85v3.07h-5.85zM1629.45,367.91h5.85v3.07h-5.85zM1647.39,387.11h5.85v3.07h-5.85zM1653.37,387.11h5.85v3.07h-5.85zM1629.45,390.31h5.85v3.07h-5.85z"/><path fill="#32b67a" d="M1366.27,179.15h5.85v3.07h-5.85zM1479.91,185.55h5.85v3.07h-5.85zM1384.21,198.34h5.85v3.07h-5.85zM1396.17,223.94h5.85v3.07h-5.85zM1461.97,214.34h5.85v3.07h-5.85zM1671.32,243.14h5.85v3.07h-5.85zM1575.62,316.72h5.85v3.07h-5.85zM1599.54,332.72h5.85v3.07h-5.85zM1713.19,294.33h5.85v3.07h-5.85zM1617.49,316.72h5.85v3.07h-5.85zM1647.39,348.72h5.85v3.07h-5.85zM1617.49,380.71h5.85v3.07h-5.85zM1653.37,409.50h5.85v3.07h-5.85z"/><path fill="#2e6f8e" d="M1491.88,182.35h5.85v3.07h-5.85zM1378.23,195.15h5.85v3.07h-5.85zM1390.19,204.74h5.85v3.07h-5.85zM1396.17,227.14h5.85v3.07h-5.85zM1414.12,233.54h5.85v3.07h-5.85zM1467.95,201.54h5.85v3.07h-5.85zM1491.88,201.54h5.85v3.07h-5.85zM1473.93,220.74h5.85v3.07h-5.85zM1444.02,233.54h5.85v3.07h-5.85zM1545.71,201.54h5.85v3.07h-5.85zM1563.65,207.94h5.85v3.07h-5.85zM1551.69,211.14h5.85v3.07h-5.85zM1659.35,227.14h5.85v3.07h-5.85zM1665.34,239.94h5.85v3.07h-5.85zM1808.89,217.54h5.85v3.07h-5.85zM1515.80,249.53h5.85v3.07h-5.85zM1545.71,246.34h5.85v3.07h-5.85zM1641.41,255.93h5.85v3.07h-5.85zM1677.30,268.73h5.85v3.07h-5.85zM1665.34,271.93h5.85v3.07h-5.85zM1689.26,271.93h5.85v3.07h-5.85zM1635.43,281.53h5.85v3.07h-5.85zM1707.21,249.53h5.85v3.07h-5.85zM1737.11,284.73h5.85v3.07h-5.85zM1533.75,291.13h5.85v3.07h-5.85zM1545.71,300.73h5.85v3.07h-5.85zM1623.47,294.33h5.85v3.07h-5.85zM1617.49,342.32h5.85v3.07h-5.85z"/><path fill="#22a785" d="M1396.17,185.55h5.85v3.07h-5.85zM1396.17,191.95h5.85v3.07h-5.85zM1420.10,191.95h5.85v3.07h-5.85zM1545.71,150.35h5.85v3.07h-5.85zM1384.21,195.15h5.85v3.07h-5.85zM1414.12,195.15h5.85v3.07h-5.85zM1426.08,195.15h5.85v3.07h-5.85zM1420.10,201.54h5.85v3.07h-5.85zM1414.12,220.74h5.85v3.07h-5.85zM1473.93,201.54h5.85v3.07h-5.85zM1461.97,204.74h5.85v3.07h-5.85zM1485.89,204.74h5.85v3.07h-5.85zM1438.04,211.14h5.85v3.07h-5.85zM1438.04,220.74h5.85v3.07h-5.85zM1438.04,236.74h5.85v3.07h-5.85zM1563.65,201.54h5.85v3.07h-5.85zM1563.65,204.74h5.85v3.07h-5.85zM1563.65,214.34h5.85v3.07h-5.85zM1545.71,227.14h5.85v3.07h-5.85zM1599.54,233.54h5.85v3.07h-5.85zM1701.22,204.74h5.85v3.07h-5.85zM1455.99,243.14h5.85v3.07h-5.85zM1515.80,243.14h5.85v3.07h-5.85zM1461.97,246.34h5.85v3.07h-5.85zM1485.89,252.73h5.85v3.07h-5.85zM1503.84,259.13h5.85v3.07h-5.85zM1515.80,287.93h5.85v3.07h-5.85zM1426.08,246.34h5.85v3.07h-5.85zM1629.45,243.14h5.85v3.07h-5.85zM1623.47,249.53h5.85v3.07h-5.85zM1593.56,252.73h5.85v3.07h-5.85zM1533.75,271.93h5.85v3.07h-5.85zM1713.19,284.73h5.85v3.07h-5.85zM1611.50,313.52h5.85v3.07h-5.85zM1611.50,316.72h5.85v3.07h-5.85zM1605.52,335.92h5.85v3.07h-5.85zM1689.26,294.33h5.85v3.07h-5.85zM1647.39,300.73h5.85v3.07h-5.85zM1647.39,303.92h5.85v3.07h-5.85zM1677.30,303.92h5.85v3.07h-5.85zM1713.19,303.92h5.85v3.07h-5.85zM1647.39,307.12h5.85v3.07h-5.85zM1647.39,310.32h5.85v3.07h-5.85zM1623.47,345.52h5.85v3.07h-5.85zM1635.43,345.52h5.85v3.07h-5.85zM1635.43,348.72h5.85v3.07h-5.85zM1665.34,358.31h5.85v3.07h-5.85zM1641.41,377.51h5.85v3.07h-5.85zM1647.39,403.11h5.85v3.07h-5.85zM1665.34,425.50h5.85v3.07h-5.85z"/><path fill="#453781" d="M1545.71,131.16h5.85v3.07h-5.85zM1509.82,227.14h5.85v3.07h-5.85zM1509.82,246.34h5.85v3.07h-5.85zM1683.28,259.13h5.85v3.07h-5.85zM1635.43,265.53h5.85v3.07h-5.85zM1647.39,281.53h5.85v3.07h-5.85zM1635.43,291.13h5.85v3.07h-5.85z"/><path fill="#375b8d" d="M1545.71,191.95h5.85v3.07h-5.85z"/><path fill="#addc30" d="M1426.08,201.54h5.85v3.07h-5.85zM1545.71,211.14h5.85v3.07h-5.85zM1599.54,275.13h5.85v3.07h-5.85zM1563.65,323.12h5.85v3.07h-5.85zM1587.58,323.12h5.85v3.07h-5.85zM1593.56,323.12h5.85v3.07h-5.85zM1593.56,326.32h5.85v3.07h-5.85z"/><path fill="#b8de29" d="M1402.15,207.94h5.85v3.07h-5.85zM1509.82,233.54h5.85v3.07h-5.85zM1599.54,326.32h5.85v3.07h-5.85zM1755.06,412.70h5.85v3.07h-5.85z"/><path fill="#3e4989" d="M1378.23,211.14h5.85v3.07h-5.85zM1587.58,195.15h5.85v3.07h-5.85zM1844.78,255.93h5.85v3.07h-5.85z"/><path fill="#e2e418" d="M1665.34,249.53h5.85v3.07h-5.85z"/><path fill="#c2df23" d="M1575.62,323.12h5.85v3.07h-5.85zM1569.63,329.52h5.85v3.07h-5.85zM1611.50,329.52h5.85v3.07h-5.85z"/><path fill="#ece51b" d="M1575.62,326.32h5.85v3.07h-5.85zM1581.60,326.32h5.85v3.07h-5.85z"/><path fill="#f6e620" d="M1587.58,326.32h5.85v3.07h-5.85z"/><path fill="#cde11d" d="M1653.37,294.33h5.85v3.07h-5.85z"/></g>
<rect x="1224.9" y="312.8" width="252.80" height="226.70" fill="#fff"/>
<defs><clipPath id="icl"><rect x="1224.9" y="312.8" width="252.80" height="226.70"/></clipPath></defs>
<g clip-path="url(#icl)"><path fill="#26828e" d="M1224.90,312.60h3.87v3.84h-3.87zM1252.99,312.60h3.87v3.84h-3.87zM1257.00,312.60h3.87v3.84h-3.87zM1236.94,316.58h3.87v3.84h-3.87zM1261.01,316.58h3.87v3.84h-3.87zM1232.93,324.54h3.87v3.84h-3.87zM1248.98,324.54h3.87v3.84h-3.87zM1265.03,324.54h3.87v3.84h-3.87zM1305.15,324.54h3.87v3.84h-3.87zM1277.07,332.50h3.87v3.84h-3.87zM1265.03,336.49h3.87v3.84h-3.87zM1269.04,336.49h3.87v3.84h-3.87zM1273.05,336.49h3.87v3.84h-3.87zM1240.95,340.47h3.87v3.84h-3.87zM1261.01,344.45h3.87v3.84h-3.87zM1285.09,344.45h3.87v3.84h-3.87zM1293.12,344.45h3.87v3.84h-3.87zM1252.99,348.43h3.87v3.84h-3.87zM1257.00,348.43h3.87v3.84h-3.87zM1273.05,348.43h3.87v3.84h-3.87zM1281.08,352.41h3.87v3.84h-3.87zM1285.09,352.41h3.87v3.84h-3.87zM1301.14,352.41h3.87v3.84h-3.87zM1265.03,356.39h3.87v3.84h-3.87zM1261.01,360.37h3.87v3.84h-3.87zM1269.04,360.37h3.87v3.84h-3.87zM1297.13,360.37h3.87v3.84h-3.87zM1281.08,372.31h3.87v3.84h-3.87zM1293.12,376.30h3.87v3.84h-3.87zM1305.15,376.30h3.87v3.84h-3.87zM1293.12,380.28h3.87v3.84h-3.87zM1349.29,312.60h3.87v3.84h-3.87zM1353.31,312.60h3.87v3.84h-3.87zM1373.37,312.60h3.87v3.84h-3.87zM1377.38,312.60h3.87v3.84h-3.87zM1317.19,316.58h3.87v3.84h-3.87zM1353.31,316.58h3.87v3.84h-3.87zM1357.32,316.58h3.87v3.84h-3.87zM1337.26,320.56h3.87v3.84h-3.87zM1389.42,320.56h3.87v3.84h-3.87zM1317.19,324.54h3.87v3.84h-3.87zM1333.24,324.54h3.87v3.84h-3.87zM1341.27,324.54h3.87v3.84h-3.87zM1349.29,324.54h3.87v3.84h-3.87zM1345.28,328.52h3.87v3.84h-3.87zM1349.29,328.52h3.87v3.84h-3.87zM1381.40,328.52h3.87v3.84h-3.87zM1325.22,332.50h3.87v3.84h-3.87zM1357.32,332.50h3.87v3.84h-3.87zM1317.19,336.49h3.87v3.84h-3.87zM1337.26,336.49h3.87v3.84h-3.87zM1369.36,336.49h3.87v3.84h-3.87zM1385.41,336.49h3.87v3.84h-3.87zM1309.17,340.47h3.87v3.84h-3.87zM1317.19,340.47h3.87v3.84h-3.87zM1325.22,340.47h3.87v3.84h-3.87zM1341.27,340.47h3.87v3.84h-3.87zM1353.31,340.47h3.87v3.84h-3.87zM1357.32,340.47h3.87v3.84h-3.87zM1317.19,344.45h3.87v3.84h-3.87zM1373.37,348.43h3.87v3.84h-3.87zM1381.40,348.43h3.87v3.84h-3.87zM1353.31,352.41h3.87v3.84h-3.87zM1365.34,352.41h3.87v3.84h-3.87zM1369.36,356.39h3.87v3.84h-3.87zM1333.24,360.37h3.87v3.84h-3.87zM1337.26,360.37h3.87v3.84h-3.87zM1389.42,360.37h3.87v3.84h-3.87zM1313.18,364.35h3.87v3.84h-3.87zM1329.23,364.35h3.87v3.84h-3.87zM1341.27,364.35h3.87v3.84h-3.87zM1357.32,364.35h3.87v3.84h-3.87zM1309.17,368.33h3.87v3.84h-3.87zM1341.27,368.33h3.87v3.84h-3.87zM1345.28,368.33h3.87v3.84h-3.87zM1369.36,368.33h3.87v3.84h-3.87zM1381.40,368.33h3.87v3.84h-3.87zM1317.19,372.31h3.87v3.84h-3.87zM1345.28,372.31h3.87v3.84h-3.87zM1325.22,376.30h3.87v3.84h-3.87zM1341.27,376.30h3.87v3.84h-3.87zM1349.29,376.30h3.87v3.84h-3.87zM1313.18,380.28h3.87v3.84h-3.87zM1369.36,380.28h3.87v3.84h-3.87zM1409.48,312.60h3.87v3.84h-3.87zM1413.50,312.60h3.87v3.84h-3.87zM1445.60,312.60h3.87v3.84h-3.87zM1457.64,312.60h3.87v3.84h-3.87zM1397.45,316.58h3.87v3.84h-3.87zM1413.50,316.58h3.87v3.84h-3.87zM1421.52,316.58h3.87v3.84h-3.87zM1437.57,316.58h3.87v3.84h-3.87zM1457.64,316.58h3.87v3.84h-3.87zM1461.65,316.58h3.87v3.84h-3.87zM1441.59,320.56h3.87v3.84h-3.87zM1461.65,320.56h3.87v3.84h-3.87zM1405.47,324.54h3.87v3.84h-3.87zM1425.54,324.54h3.87v3.84h-3.87zM1429.55,324.54h3.87v3.84h-3.87zM1433.56,324.54h3.87v3.84h-3.87zM1393.43,328.52h3.87v3.84h-3.87zM1397.45,328.52h3.87v3.84h-3.87zM1401.46,328.52h3.87v3.84h-3.87zM1441.59,328.52h3.87v3.84h-3.87zM1457.64,328.52h3.87v3.84h-3.87zM1401.46,336.49h3.87v3.84h-3.87zM1409.48,336.49h3.87v3.84h-3.87zM1425.54,336.49h3.87v3.84h-3.87zM1469.67,336.49h3.87v3.84h-3.87zM1457.64,340.47h3.87v3.84h-3.87zM1465.66,340.47h3.87v3.84h-3.87zM1393.43,344.45h3.87v3.84h-3.87zM1405.47,344.45h3.87v3.84h-3.87zM1453.62,344.45h3.87v3.84h-3.87zM1465.66,344.45h3.87v3.84h-3.87zM1433.56,352.41h3.87v3.84h-3.87zM1437.57,352.41h3.87v3.84h-3.87zM1457.64,352.41h3.87v3.84h-3.87zM1393.43,356.39h3.87v3.84h-3.87zM1397.45,356.39h3.87v3.84h-3.87zM1409.48,356.39h3.87v3.84h-3.87zM1413.50,356.39h3.87v3.84h-3.87zM1473.69,356.39h3.87v3.84h-3.87zM1393.43,360.37h3.87v3.84h-3.87zM1461.65,360.37h3.87v3.84h-3.87zM1397.45,364.35h3.87v3.84h-3.87zM1437.57,364.35h3.87v3.84h-3.87zM1425.54,368.33h3.87v3.84h-3.87zM1437.57,368.33h3.87v3.84h-3.87zM1421.52,372.31h3.87v3.84h-3.87zM1433.56,372.31h3.87v3.84h-3.87zM1437.57,372.31h3.87v3.84h-3.87zM1393.43,376.30h3.87v3.84h-3.87zM1401.46,376.30h3.87v3.84h-3.87zM1433.56,376.30h3.87v3.84h-3.87zM1393.43,380.28h3.87v3.84h-3.87zM1405.47,380.28h3.87v3.84h-3.87zM1417.51,380.28h3.87v3.84h-3.87zM1421.52,384.26h3.87v3.84h-3.87zM1377.38,388.24h3.87v3.84h-3.87zM1369.36,396.20h3.87v3.84h-3.87zM1385.41,396.20h3.87v3.84h-3.87zM1321.20,404.16h3.87v3.84h-3.87zM1349.29,420.09h3.87v3.84h-3.87zM1369.36,455.92h3.87v3.84h-3.87zM1473.69,392.22h3.87v3.84h-3.87zM1449.61,404.16h3.87v3.84h-3.87zM1445.60,459.90h3.87v3.84h-3.87zM1365.34,463.88h3.87v3.84h-3.87zM1385.41,463.88h3.87v3.84h-3.87zM1397.45,463.88h3.87v3.84h-3.87zM1389.42,467.86h3.87v3.84h-3.87zM1397.45,471.84h3.87v3.84h-3.87zM1409.48,471.84h3.87v3.84h-3.87zM1401.46,483.78h3.87v3.84h-3.87zM1397.45,491.75h3.87v3.84h-3.87zM1409.48,495.73h3.87v3.84h-3.87zM1381.40,503.69h3.87v3.84h-3.87zM1413.50,507.67h3.87v3.84h-3.87zM1417.51,511.65h3.87v3.84h-3.87zM1445.60,475.82h3.87v3.84h-3.87zM1453.62,479.80h3.87v3.84h-3.87zM1421.52,491.75h3.87v3.84h-3.87zM1429.55,491.75h3.87v3.84h-3.87zM1437.57,507.67h3.87v3.84h-3.87zM1421.52,531.56h3.87v3.84h-3.87zM1429.55,535.54h3.87v3.84h-3.87z"/><path fill="#46c06f" d="M1228.91,312.60h3.87v3.84h-3.87zM1433.56,380.28h3.87v3.84h-3.87zM1321.20,392.22h3.87v3.84h-3.87zM1325.22,392.22h3.87v3.84h-3.87zM1333.24,392.22h3.87v3.84h-3.87zM1337.26,392.22h3.87v3.84h-3.87zM1345.28,392.22h3.87v3.84h-3.87zM1333.24,396.20h3.87v3.84h-3.87zM1349.29,396.20h3.87v3.84h-3.87zM1361.33,396.20h3.87v3.84h-3.87zM1381.40,396.20h3.87v3.84h-3.87zM1337.26,400.18h3.87v3.84h-3.87zM1345.28,400.18h3.87v3.84h-3.87zM1381.40,443.97h3.87v3.84h-3.87zM1361.33,447.95h3.87v3.84h-3.87zM1369.36,447.95h3.87v3.84h-3.87zM1361.33,455.92h3.87v3.84h-3.87zM1401.46,400.18h3.87v3.84h-3.87zM1441.59,412.12h3.87v3.84h-3.87zM1405.47,420.09h3.87v3.84h-3.87zM1401.46,443.97h3.87v3.84h-3.87zM1393.43,455.92h3.87v3.84h-3.87zM1405.47,455.92h3.87v3.84h-3.87zM1413.50,455.92h3.87v3.84h-3.87zM1429.55,455.92h3.87v3.84h-3.87zM1413.50,467.86h3.87v3.84h-3.87zM1445.60,467.86h3.87v3.84h-3.87zM1437.57,491.75h3.87v3.84h-3.87z"/><path fill="#1e9c89" d="M1232.93,312.60h3.87v3.84h-3.87zM1277.07,316.58h3.87v3.84h-3.87zM1293.12,320.56h3.87v3.84h-3.87zM1244.96,328.52h3.87v3.84h-3.87zM1257.00,356.39h3.87v3.84h-3.87zM1365.34,368.33h3.87v3.84h-3.87zM1333.24,384.26h3.87v3.84h-3.87zM1345.28,384.26h3.87v3.84h-3.87zM1353.31,384.26h3.87v3.84h-3.87zM1361.33,384.26h3.87v3.84h-3.87zM1369.36,384.26h3.87v3.84h-3.87zM1381.40,384.26h3.87v3.84h-3.87zM1457.64,320.56h3.87v3.84h-3.87zM1465.66,364.35h3.87v3.84h-3.87zM1465.66,368.33h3.87v3.84h-3.87zM1473.69,368.33h3.87v3.84h-3.87zM1453.62,372.31h3.87v3.84h-3.87zM1405.47,384.26h3.87v3.84h-3.87zM1349.29,388.24h3.87v3.84h-3.87zM1353.31,388.24h3.87v3.84h-3.87zM1357.32,388.24h3.87v3.84h-3.87zM1313.18,396.20h3.87v3.84h-3.87zM1329.23,412.12h3.87v3.84h-3.87zM1385.41,451.94h3.87v3.84h-3.87zM1413.50,392.22h3.87v3.84h-3.87zM1413.50,396.20h3.87v3.84h-3.87zM1429.55,396.20h3.87v3.84h-3.87zM1421.52,400.18h3.87v3.84h-3.87zM1453.62,400.18h3.87v3.84h-3.87zM1469.67,400.18h3.87v3.84h-3.87zM1441.59,404.16h3.87v3.84h-3.87zM1441.59,408.14h3.87v3.84h-3.87zM1413.50,459.90h3.87v3.84h-3.87zM1437.57,459.90h3.87v3.84h-3.87zM1393.43,467.86h3.87v3.84h-3.87zM1413.50,471.84h3.87v3.84h-3.87zM1373.37,483.78h3.87v3.84h-3.87zM1389.42,527.57h3.87v3.84h-3.87zM1441.59,467.86h3.87v3.84h-3.87zM1437.57,475.82h3.87v3.84h-3.87zM1437.57,499.71h3.87v3.84h-3.87zM1433.56,531.56h3.87v3.84h-3.87zM1425.54,535.54h3.87v3.84h-3.87zM1433.56,535.54h3.87v3.84h-3.87z"/><path fill="#2a768e" d="M1236.94,312.60h3.87v3.84h-3.87zM1248.98,312.60h3.87v3.84h-3.87zM1293.12,312.60h3.87v3.84h-3.87zM1301.14,312.60h3.87v3.84h-3.87zM1265.03,316.58h3.87v3.84h-3.87zM1244.96,320.56h3.87v3.84h-3.87zM1248.98,320.56h3.87v3.84h-3.87zM1261.01,320.56h3.87v3.84h-3.87zM1269.04,320.56h3.87v3.84h-3.87zM1240.95,324.54h3.87v3.84h-3.87zM1224.90,328.52h3.87v3.84h-3.87zM1232.93,328.52h3.87v3.84h-3.87zM1289.10,328.52h3.87v3.84h-3.87zM1228.91,332.50h3.87v3.84h-3.87zM1301.14,332.50h3.87v3.84h-3.87zM1261.01,336.49h3.87v3.84h-3.87zM1277.07,336.49h3.87v3.84h-3.87zM1261.01,340.47h3.87v3.84h-3.87zM1248.98,344.45h3.87v3.84h-3.87zM1257.00,344.45h3.87v3.84h-3.87zM1297.13,344.45h3.87v3.84h-3.87zM1305.15,344.45h3.87v3.84h-3.87zM1281.08,348.43h3.87v3.84h-3.87zM1289.10,356.39h3.87v3.84h-3.87zM1265.03,360.37h3.87v3.84h-3.87zM1277.07,360.37h3.87v3.84h-3.87zM1281.08,364.35h3.87v3.84h-3.87zM1309.17,312.60h3.87v3.84h-3.87zM1317.19,312.60h3.87v3.84h-3.87zM1321.20,312.60h3.87v3.84h-3.87zM1357.32,312.60h3.87v3.84h-3.87zM1369.36,312.60h3.87v3.84h-3.87zM1385.41,312.60h3.87v3.84h-3.87zM1345.28,316.58h3.87v3.84h-3.87zM1353.31,320.56h3.87v3.84h-3.87zM1381.40,320.56h3.87v3.84h-3.87zM1353.31,324.54h3.87v3.84h-3.87zM1357.32,324.54h3.87v3.84h-3.87zM1337.26,328.52h3.87v3.84h-3.87zM1353.31,328.52h3.87v3.84h-3.87zM1357.32,328.52h3.87v3.84h-3.87zM1349.29,332.50h3.87v3.84h-3.87zM1325.22,336.49h3.87v3.84h-3.87zM1349.29,340.47h3.87v3.84h-3.87zM1369.36,340.47h3.87v3.84h-3.87zM1349.29,344.45h3.87v3.84h-3.87zM1329.23,348.43h3.87v3.84h-3.87zM1345.28,348.43h3.87v3.84h-3.87zM1321.20,352.41h3.87v3.84h-3.87zM1361.33,352.41h3.87v3.84h-3.87zM1321.20,356.39h3.87v3.84h-3.87zM1353.31,356.39h3.87v3.84h-3.87zM1377.38,356.39h3.87v3.84h-3.87zM1381.40,356.39h3.87v3.84h-3.87zM1313.18,360.37h3.87v3.84h-3.87zM1325.22,360.37h3.87v3.84h-3.87zM1333.24,364.35h3.87v3.84h-3.87zM1345.28,364.35h3.87v3.84h-3.87zM1361.33,364.35h3.87v3.84h-3.87zM1317.19,368.33h3.87v3.84h-3.87zM1389.42,368.33h3.87v3.84h-3.87zM1333.24,372.31h3.87v3.84h-3.87zM1337.26,372.31h3.87v3.84h-3.87zM1341.27,372.31h3.87v3.84h-3.87zM1365.34,372.31h3.87v3.84h-3.87zM1329.23,376.30h3.87v3.84h-3.87zM1365.34,376.30h3.87v3.84h-3.87zM1373.37,376.30h3.87v3.84h-3.87zM1461.65,312.60h3.87v3.84h-3.87zM1417.51,316.58h3.87v3.84h-3.87zM1429.55,316.58h3.87v3.84h-3.87zM1433.56,316.58h3.87v3.84h-3.87zM1397.45,320.56h3.87v3.84h-3.87zM1409.48,320.56h3.87v3.84h-3.87zM1425.54,320.56h3.87v3.84h-3.87zM1433.56,320.56h3.87v3.84h-3.87zM1413.50,324.54h3.87v3.84h-3.87zM1441.59,324.54h3.87v3.84h-3.87zM1445.60,324.54h3.87v3.84h-3.87zM1405.47,328.52h3.87v3.84h-3.87zM1409.48,328.52h3.87v3.84h-3.87zM1429.55,328.52h3.87v3.84h-3.87zM1469.67,328.52h3.87v3.84h-3.87zM1401.46,332.50h3.87v3.84h-3.87zM1417.51,332.50h3.87v3.84h-3.87zM1421.52,332.50h3.87v3.84h-3.87zM1425.54,332.50h3.87v3.84h-3.87zM1397.45,336.49h3.87v3.84h-3.87zM1405.47,336.49h3.87v3.84h-3.87zM1413.50,336.49h3.87v3.84h-3.87zM1429.55,336.49h3.87v3.84h-3.87zM1449.61,336.49h3.87v3.84h-3.87zM1461.65,336.49h3.87v3.84h-3.87zM1465.66,336.49h3.87v3.84h-3.87zM1409.48,340.47h3.87v3.84h-3.87zM1417.51,340.47h3.87v3.84h-3.87zM1429.55,340.47h3.87v3.84h-3.87zM1441.59,340.47h3.87v3.84h-3.87zM1469.67,340.47h3.87v3.84h-3.87zM1417.51,344.45h3.87v3.84h-3.87zM1409.48,348.43h3.87v3.84h-3.87zM1417.51,348.43h3.87v3.84h-3.87zM1449.61,348.43h3.87v3.84h-3.87zM1453.62,348.43h3.87v3.84h-3.87zM1473.69,348.43h3.87v3.84h-3.87zM1409.48,352.41h3.87v3.84h-3.87zM1465.66,352.41h3.87v3.84h-3.87zM1473.69,352.41h3.87v3.84h-3.87zM1437.57,356.39h3.87v3.84h-3.87zM1409.48,360.37h3.87v3.84h-3.87zM1417.51,360.37h3.87v3.84h-3.87zM1429.55,360.37h3.87v3.84h-3.87zM1449.61,360.37h3.87v3.84h-3.87zM1445.60,364.35h3.87v3.84h-3.87zM1401.46,368.33h3.87v3.84h-3.87zM1413.50,368.33h3.87v3.84h-3.87zM1429.55,368.33h3.87v3.84h-3.87zM1441.59,368.33h3.87v3.84h-3.87zM1445.60,368.33h3.87v3.84h-3.87zM1401.46,372.31h3.87v3.84h-3.87zM1409.48,372.31h3.87v3.84h-3.87zM1441.59,372.31h3.87v3.84h-3.87zM1429.55,376.30h3.87v3.84h-3.87zM1441.59,376.30h3.87v3.84h-3.87zM1389.42,455.92h3.87v3.84h-3.87zM1393.43,392.22h3.87v3.84h-3.87zM1377.38,463.88h3.87v3.84h-3.87zM1385.41,467.86h3.87v3.84h-3.87zM1401.46,471.84h3.87v3.84h-3.87zM1393.43,479.80h3.87v3.84h-3.87zM1405.47,479.80h3.87v3.84h-3.87zM1409.48,479.80h3.87v3.84h-3.87zM1413.50,503.69h3.87v3.84h-3.87zM1409.48,515.63h3.87v3.84h-3.87zM1473.69,487.76h3.87v3.84h-3.87z"/><path fill="#2c728e" d="M1240.95,312.60h3.87v3.84h-3.87zM1265.03,312.60h3.87v3.84h-3.87zM1293.12,316.58h3.87v3.84h-3.87zM1297.13,316.58h3.87v3.84h-3.87zM1240.95,320.56h3.87v3.84h-3.87zM1261.01,324.54h3.87v3.84h-3.87zM1293.12,324.54h3.87v3.84h-3.87zM1277.07,328.52h3.87v3.84h-3.87zM1257.00,336.49h3.87v3.84h-3.87zM1305.15,336.49h3.87v3.84h-3.87zM1265.03,340.47h3.87v3.84h-3.87zM1273.05,360.37h3.87v3.84h-3.87zM1297.13,368.33h3.87v3.84h-3.87zM1313.18,312.60h3.87v3.84h-3.87zM1381.40,324.54h3.87v3.84h-3.87zM1317.19,328.52h3.87v3.84h-3.87zM1345.28,332.50h3.87v3.84h-3.87zM1353.31,332.50h3.87v3.84h-3.87zM1385.41,332.50h3.87v3.84h-3.87zM1373.37,336.49h3.87v3.84h-3.87zM1345.28,356.39h3.87v3.84h-3.87zM1385.41,360.37h3.87v3.84h-3.87zM1373.37,368.33h3.87v3.84h-3.87zM1373.37,372.31h3.87v3.84h-3.87zM1409.48,316.58h3.87v3.84h-3.87zM1453.62,324.54h3.87v3.84h-3.87zM1445.60,328.52h3.87v3.84h-3.87zM1445.60,332.50h3.87v3.84h-3.87zM1421.52,340.47h3.87v3.84h-3.87zM1397.45,344.45h3.87v3.84h-3.87zM1397.45,352.41h3.87v3.84h-3.87zM1393.43,364.35h3.87v3.84h-3.87zM1433.56,364.35h3.87v3.84h-3.87zM1421.52,368.33h3.87v3.84h-3.87zM1433.56,388.24h3.87v3.84h-3.87zM1397.45,392.22h3.87v3.84h-3.87zM1465.66,392.22h3.87v3.84h-3.87zM1389.42,475.82h3.87v3.84h-3.87zM1393.43,483.78h3.87v3.84h-3.87zM1373.37,495.73h3.87v3.84h-3.87zM1417.51,499.71h3.87v3.84h-3.87zM1401.46,503.69h3.87v3.84h-3.87zM1417.51,503.69h3.87v3.84h-3.87zM1445.60,463.88h3.87v3.84h-3.87zM1469.67,471.84h3.87v3.84h-3.87zM1433.56,507.67h3.87v3.84h-3.87zM1449.61,527.57h3.87v3.84h-3.87z"/><path fill="#277e8e" d="M1244.96,312.60h3.87v3.84h-3.87zM1281.08,312.60h3.87v3.84h-3.87zM1244.96,316.58h3.87v3.84h-3.87zM1252.99,316.58h3.87v3.84h-3.87zM1252.99,320.56h3.87v3.84h-3.87zM1265.03,320.56h3.87v3.84h-3.87zM1297.13,320.56h3.87v3.84h-3.87zM1301.14,320.56h3.87v3.84h-3.87zM1269.04,324.54h3.87v3.84h-3.87zM1277.07,324.54h3.87v3.84h-3.87zM1285.09,324.54h3.87v3.84h-3.87zM1301.14,324.54h3.87v3.84h-3.87zM1248.98,328.52h3.87v3.84h-3.87zM1257.00,328.52h3.87v3.84h-3.87zM1261.01,328.52h3.87v3.84h-3.87zM1244.96,332.50h3.87v3.84h-3.87zM1252.99,336.49h3.87v3.84h-3.87zM1289.10,336.49h3.87v3.84h-3.87zM1297.13,336.49h3.87v3.84h-3.87zM1236.94,340.47h3.87v3.84h-3.87zM1244.96,340.47h3.87v3.84h-3.87zM1285.09,340.47h3.87v3.84h-3.87zM1265.03,348.43h3.87v3.84h-3.87zM1269.04,348.43h3.87v3.84h-3.87zM1285.09,348.43h3.87v3.84h-3.87zM1301.14,348.43h3.87v3.84h-3.87zM1257.00,352.41h3.87v3.84h-3.87zM1269.04,352.41h3.87v3.84h-3.87zM1273.05,352.41h3.87v3.84h-3.87zM1289.10,352.41h3.87v3.84h-3.87zM1305.15,356.39h3.87v3.84h-3.87zM1293.12,360.37h3.87v3.84h-3.87zM1301.14,360.37h3.87v3.84h-3.87zM1297.13,364.35h3.87v3.84h-3.87zM1277.07,368.33h3.87v3.84h-3.87zM1293.12,368.33h3.87v3.84h-3.87zM1301.14,372.31h3.87v3.84h-3.87zM1285.09,376.30h3.87v3.84h-3.87zM1285.09,380.28h3.87v3.84h-3.87zM1297.13,380.28h3.87v3.84h-3.87zM1333.24,312.60h3.87v3.84h-3.87zM1337.26,312.60h3.87v3.84h-3.87zM1341.27,312.60h3.87v3.84h-3.87zM1313.18,316.58h3.87v3.84h-3.87zM1321.20,316.58h3.87v3.84h-3.87zM1325.22,316.58h3.87v3.84h-3.87zM1341.27,316.58h3.87v3.84h-3.87zM1349.29,316.58h3.87v3.84h-3.87zM1373.37,316.58h3.87v3.84h-3.87zM1361.33,320.56h3.87v3.84h-3.87zM1377.38,320.56h3.87v3.84h-3.87zM1309.17,324.54h3.87v3.84h-3.87zM1313.18,324.54h3.87v3.84h-3.87zM1325.22,328.52h3.87v3.84h-3.87zM1329.23,328.52h3.87v3.84h-3.87zM1377.38,328.52h3.87v3.84h-3.87zM1321.20,332.50h3.87v3.84h-3.87zM1349.29,336.49h3.87v3.84h-3.87zM1357.32,336.49h3.87v3.84h-3.87zM1377.38,336.49h3.87v3.84h-3.87zM1313.18,340.47h3.87v3.84h-3.87zM1329.23,340.47h3.87v3.84h-3.87zM1313.18,344.45h3.87v3.84h-3.87zM1353.31,348.43h3.87v3.84h-3.87zM1365.34,348.43h3.87v3.84h-3.87zM1389.42,348.43h3.87v3.84h-3.87zM1313.18,352.41h3.87v3.84h-3.87zM1317.19,352.41h3.87v3.84h-3.87zM1333.24,352.41h3.87v3.84h-3.87zM1337.26,352.41h3.87v3.84h-3.87zM1341.27,352.41h3.87v3.84h-3.87zM1345.28,352.41h3.87v3.84h-3.87zM1357.32,352.41h3.87v3.84h-3.87zM1341.27,356.39h3.87v3.84h-3.87zM1357.32,356.39h3.87v3.84h-3.87zM1309.17,360.37h3.87v3.84h-3.87zM1321.20,360.37h3.87v3.84h-3.87zM1341.27,360.37h3.87v3.84h-3.87zM1373.37,360.37h3.87v3.84h-3.87zM1317.19,364.35h3.87v3.84h-3.87zM1353.31,364.35h3.87v3.84h-3.87zM1369.36,364.35h3.87v3.84h-3.87zM1377.38,364.35h3.87v3.84h-3.87zM1381.40,364.35h3.87v3.84h-3.87zM1385.41,364.35h3.87v3.84h-3.87zM1313.18,368.33h3.87v3.84h-3.87zM1321.20,368.33h3.87v3.84h-3.87zM1325.22,368.33h3.87v3.84h-3.87zM1329.23,368.33h3.87v3.84h-3.87zM1377.38,368.33h3.87v3.84h-3.87zM1353.31,372.31h3.87v3.84h-3.87zM1337.26,376.30h3.87v3.84h-3.87zM1369.36,376.30h3.87v3.84h-3.87zM1337.26,384.26h3.87v3.84h-3.87zM1417.51,312.60h3.87v3.84h-3.87zM1425.54,312.60h3.87v3.84h-3.87zM1425.54,316.58h3.87v3.84h-3.87zM1445.60,316.58h3.87v3.84h-3.87zM1453.62,316.58h3.87v3.84h-3.87zM1401.46,320.56h3.87v3.84h-3.87zM1413.50,328.52h3.87v3.84h-3.87zM1421.52,328.52h3.87v3.84h-3.87zM1405.47,332.50h3.87v3.84h-3.87zM1393.43,336.49h3.87v3.84h-3.87zM1441.59,336.49h3.87v3.84h-3.87zM1413.50,340.47h3.87v3.84h-3.87zM1401.46,344.45h3.87v3.84h-3.87zM1425.54,344.45h3.87v3.84h-3.87zM1449.61,344.45h3.87v3.84h-3.87zM1457.64,344.45h3.87v3.84h-3.87zM1393.43,348.43h3.87v3.84h-3.87zM1421.52,348.43h3.87v3.84h-3.87zM1433.56,348.43h3.87v3.84h-3.87zM1405.47,356.39h3.87v3.84h-3.87zM1417.51,356.39h3.87v3.84h-3.87zM1453.62,356.39h3.87v3.84h-3.87zM1465.66,356.39h3.87v3.84h-3.87zM1469.67,356.39h3.87v3.84h-3.87zM1413.50,360.37h3.87v3.84h-3.87zM1401.46,364.35h3.87v3.84h-3.87zM1405.47,364.35h3.87v3.84h-3.87zM1441.59,364.35h3.87v3.84h-3.87zM1397.45,368.33h3.87v3.84h-3.87zM1433.56,368.33h3.87v3.84h-3.87zM1445.60,372.31h3.87v3.84h-3.87zM1397.45,376.30h3.87v3.84h-3.87zM1369.36,392.22h3.87v3.84h-3.87zM1373.37,392.22h3.87v3.84h-3.87zM1325.22,408.14h3.87v3.84h-3.87zM1381.40,459.90h3.87v3.84h-3.87zM1453.62,392.22h3.87v3.84h-3.87zM1473.69,396.20h3.87v3.84h-3.87zM1405.47,463.88h3.87v3.84h-3.87zM1381.40,467.86h3.87v3.84h-3.87zM1373.37,475.82h3.87v3.84h-3.87zM1413.50,475.82h3.87v3.84h-3.87zM1385.41,479.80h3.87v3.84h-3.87zM1369.36,483.78h3.87v3.84h-3.87zM1373.37,487.76h3.87v3.84h-3.87zM1413.50,499.71h3.87v3.84h-3.87zM1409.48,503.69h3.87v3.84h-3.87zM1421.52,467.86h3.87v3.84h-3.87zM1421.52,503.69h3.87v3.84h-3.87zM1421.52,507.67h3.87v3.84h-3.87zM1425.54,527.57h3.87v3.84h-3.87z"/><path fill="#25858e" d="M1261.01,312.60h3.87v3.84h-3.87zM1277.07,312.60h3.87v3.84h-3.87zM1305.15,312.60h3.87v3.84h-3.87zM1240.95,316.58h3.87v3.84h-3.87zM1301.14,316.58h3.87v3.84h-3.87zM1224.90,324.54h3.87v3.84h-3.87zM1252.99,324.54h3.87v3.84h-3.87zM1257.00,324.54h3.87v3.84h-3.87zM1297.13,324.54h3.87v3.84h-3.87zM1224.90,332.50h3.87v3.84h-3.87zM1232.93,332.50h3.87v3.84h-3.87zM1261.01,332.50h3.87v3.84h-3.87zM1240.95,336.49h3.87v3.84h-3.87zM1244.96,336.49h3.87v3.84h-3.87zM1285.09,336.49h3.87v3.84h-3.87zM1269.04,340.47h3.87v3.84h-3.87zM1273.05,340.47h3.87v3.84h-3.87zM1301.14,344.45h3.87v3.84h-3.87zM1277.07,352.41h3.87v3.84h-3.87zM1261.01,356.39h3.87v3.84h-3.87zM1297.13,356.39h3.87v3.84h-3.87zM1277.07,364.35h3.87v3.84h-3.87zM1301.14,364.35h3.87v3.84h-3.87zM1289.10,368.33h3.87v3.84h-3.87zM1285.09,372.31h3.87v3.84h-3.87zM1289.10,376.30h3.87v3.84h-3.87zM1301.14,376.30h3.87v3.84h-3.87zM1305.15,380.28h3.87v3.84h-3.87zM1297.13,384.26h3.87v3.84h-3.87zM1309.17,316.58h3.87v3.84h-3.87zM1329.23,316.58h3.87v3.84h-3.87zM1337.26,316.58h3.87v3.84h-3.87zM1361.33,316.58h3.87v3.84h-3.87zM1309.17,320.56h3.87v3.84h-3.87zM1313.18,320.56h3.87v3.84h-3.87zM1341.27,320.56h3.87v3.84h-3.87zM1349.29,320.56h3.87v3.84h-3.87zM1325.22,324.54h3.87v3.84h-3.87zM1373.37,324.54h3.87v3.84h-3.87zM1377.38,324.54h3.87v3.84h-3.87zM1389.42,324.54h3.87v3.84h-3.87zM1385.41,328.52h3.87v3.84h-3.87zM1389.42,328.52h3.87v3.84h-3.87zM1309.17,332.50h3.87v3.84h-3.87zM1317.19,332.50h3.87v3.84h-3.87zM1329.23,332.50h3.87v3.84h-3.87zM1373.37,332.50h3.87v3.84h-3.87zM1309.17,336.49h3.87v3.84h-3.87zM1329.23,336.49h3.87v3.84h-3.87zM1353.31,336.49h3.87v3.84h-3.87zM1333.24,340.47h3.87v3.84h-3.87zM1361.33,340.47h3.87v3.84h-3.87zM1365.34,340.47h3.87v3.84h-3.87zM1321.20,344.45h3.87v3.84h-3.87zM1337.26,344.45h3.87v3.84h-3.87zM1357.32,344.45h3.87v3.84h-3.87zM1381.40,344.45h3.87v3.84h-3.87zM1309.17,348.43h3.87v3.84h-3.87zM1349.29,348.43h3.87v3.84h-3.87zM1357.32,348.43h3.87v3.84h-3.87zM1385.41,352.41h3.87v3.84h-3.87zM1325.22,356.39h3.87v3.84h-3.87zM1329.23,356.39h3.87v3.84h-3.87zM1333.24,356.39h3.87v3.84h-3.87zM1337.26,356.39h3.87v3.84h-3.87zM1385.41,356.39h3.87v3.84h-3.87zM1389.42,356.39h3.87v3.84h-3.87zM1345.28,360.37h3.87v3.84h-3.87zM1357.32,360.37h3.87v3.84h-3.87zM1381.40,360.37h3.87v3.84h-3.87zM1337.26,364.35h3.87v3.84h-3.87zM1385.41,368.33h3.87v3.84h-3.87zM1381.40,372.31h3.87v3.84h-3.87zM1309.17,376.30h3.87v3.84h-3.87zM1321.20,376.30h3.87v3.84h-3.87zM1357.32,376.30h3.87v3.84h-3.87zM1341.27,380.28h3.87v3.84h-3.87zM1357.32,380.28h3.87v3.84h-3.87zM1365.34,384.26h3.87v3.84h-3.87zM1385.41,384.26h3.87v3.84h-3.87zM1437.57,312.60h3.87v3.84h-3.87zM1441.59,312.60h3.87v3.84h-3.87zM1449.61,316.58h3.87v3.84h-3.87zM1397.45,324.54h3.87v3.84h-3.87zM1473.69,324.54h3.87v3.84h-3.87zM1433.56,328.52h3.87v3.84h-3.87zM1449.61,328.52h3.87v3.84h-3.87zM1397.45,332.50h3.87v3.84h-3.87zM1409.48,332.50h3.87v3.84h-3.87zM1437.57,332.50h3.87v3.84h-3.87zM1449.61,332.50h3.87v3.84h-3.87zM1457.64,332.50h3.87v3.84h-3.87zM1417.51,336.49h3.87v3.84h-3.87zM1433.56,336.49h3.87v3.84h-3.87zM1393.43,340.47h3.87v3.84h-3.87zM1397.45,340.47h3.87v3.84h-3.87zM1425.54,340.47h3.87v3.84h-3.87zM1421.52,344.45h3.87v3.84h-3.87zM1469.67,344.45h3.87v3.84h-3.87zM1401.46,348.43h3.87v3.84h-3.87zM1429.55,348.43h3.87v3.84h-3.87zM1457.64,348.43h3.87v3.84h-3.87zM1461.65,348.43h3.87v3.84h-3.87zM1405.47,352.41h3.87v3.84h-3.87zM1421.52,352.41h3.87v3.84h-3.87zM1425.54,352.41h3.87v3.84h-3.87zM1421.52,356.39h3.87v3.84h-3.87zM1449.61,356.39h3.87v3.84h-3.87zM1405.47,360.37h3.87v3.84h-3.87zM1437.57,360.37h3.87v3.84h-3.87zM1413.50,364.35h3.87v3.84h-3.87zM1421.52,364.35h3.87v3.84h-3.87zM1429.55,364.35h3.87v3.84h-3.87zM1449.61,364.35h3.87v3.84h-3.87zM1417.51,368.33h3.87v3.84h-3.87zM1393.43,372.31h3.87v3.84h-3.87zM1405.47,372.31h3.87v3.84h-3.87zM1413.50,376.30h3.87v3.84h-3.87zM1437.57,376.30h3.87v3.84h-3.87zM1425.54,380.28h3.87v3.84h-3.87zM1441.59,380.28h3.87v3.84h-3.87zM1401.46,384.26h3.87v3.84h-3.87zM1389.42,459.90h3.87v3.84h-3.87zM1437.57,388.24h3.87v3.84h-3.87zM1445.60,388.24h3.87v3.84h-3.87zM1449.61,388.24h3.87v3.84h-3.87zM1433.56,392.22h3.87v3.84h-3.87zM1457.64,392.22h3.87v3.84h-3.87zM1437.57,396.20h3.87v3.84h-3.87zM1453.62,396.20h3.87v3.84h-3.87zM1461.65,396.20h3.87v3.84h-3.87zM1465.66,396.20h3.87v3.84h-3.87zM1381.40,463.88h3.87v3.84h-3.87zM1389.42,471.84h3.87v3.84h-3.87zM1373.37,499.71h3.87v3.84h-3.87zM1417.51,515.63h3.87v3.84h-3.87zM1433.56,463.88h3.87v3.84h-3.87zM1465.66,479.80h3.87v3.84h-3.87zM1473.69,483.78h3.87v3.84h-3.87zM1425.54,523.59h3.87v3.84h-3.87zM1449.61,535.54h3.87v3.84h-3.87z"/><path fill="#2f6b8e" d="M1269.04,312.60h3.87v3.84h-3.87zM1305.15,316.58h3.87v3.84h-3.87zM1321.20,324.54h3.87v3.84h-3.87zM1333.24,328.52h3.87v3.84h-3.87zM1373.37,328.52h3.87v3.84h-3.87zM1373.37,344.45h3.87v3.84h-3.87zM1385.41,348.43h3.87v3.84h-3.87zM1409.48,364.35h3.87v3.84h-3.87zM1417.51,376.30h3.87v3.84h-3.87zM1285.09,388.24h3.87v3.84h-3.87zM1305.15,396.20h3.87v3.84h-3.87zM1421.52,392.22h3.87v3.84h-3.87zM1397.45,483.78h3.87v3.84h-3.87zM1401.46,499.71h3.87v3.84h-3.87zM1405.47,507.67h3.87v3.84h-3.87zM1413.50,515.63h3.87v3.84h-3.87zM1437.57,471.84h3.87v3.84h-3.87zM1441.59,471.84h3.87v3.84h-3.87z"/><path fill="#39568c" d="M1273.05,312.60h3.87v3.84h-3.87zM1373.37,320.56h3.87v3.84h-3.87zM1309.17,328.52h3.87v3.84h-3.87zM1321.20,328.52h3.87v3.84h-3.87zM1361.33,376.30h3.87v3.84h-3.87zM1401.46,316.58h3.87v3.84h-3.87zM1469.67,360.37h3.87v3.84h-3.87zM1417.51,372.31h3.87v3.84h-3.87zM1421.52,376.30h3.87v3.84h-3.87zM1409.48,380.28h3.87v3.84h-3.87zM1413.50,380.28h3.87v3.84h-3.87zM1437.57,384.26h3.87v3.84h-3.87zM1457.64,400.18h3.87v3.84h-3.87zM1465.66,400.18h3.87v3.84h-3.87zM1441.59,455.92h3.87v3.84h-3.87zM1401.46,491.75h3.87v3.84h-3.87z"/><path fill="#31678e" d="M1285.09,312.60h3.87v3.84h-3.87zM1248.98,316.58h3.87v3.84h-3.87zM1305.15,320.56h3.87v3.84h-3.87zM1252.99,328.52h3.87v3.84h-3.87zM1248.98,332.50h3.87v3.84h-3.87zM1281.08,336.49h3.87v3.84h-3.87zM1333.24,320.56h3.87v3.84h-3.87zM1377.38,360.37h3.87v3.84h-3.87zM1465.66,332.50h3.87v3.84h-3.87zM1461.65,364.35h3.87v3.84h-3.87zM1449.61,368.33h3.87v3.84h-3.87zM1457.64,376.30h3.87v3.84h-3.87zM1469.67,392.22h3.87v3.84h-3.87zM1469.67,396.20h3.87v3.84h-3.87zM1401.46,475.82h3.87v3.84h-3.87zM1389.42,479.80h3.87v3.84h-3.87zM1373.37,491.75h3.87v3.84h-3.87zM1405.47,503.69h3.87v3.84h-3.87zM1413.50,511.65h3.87v3.84h-3.87zM1449.61,523.59h3.87v3.84h-3.87z"/><path fill="#23898e" d="M1289.10,312.60h3.87v3.84h-3.87zM1232.93,316.58h3.87v3.84h-3.87zM1232.93,320.56h3.87v3.84h-3.87zM1289.10,320.56h3.87v3.84h-3.87zM1269.04,328.52h3.87v3.84h-3.87zM1281.08,328.52h3.87v3.84h-3.87zM1297.13,328.52h3.87v3.84h-3.87zM1252.99,332.50h3.87v3.84h-3.87zM1269.04,332.50h3.87v3.84h-3.87zM1289.10,332.50h3.87v3.84h-3.87zM1305.15,332.50h3.87v3.84h-3.87zM1236.94,336.49h3.87v3.84h-3.87zM1301.14,336.49h3.87v3.84h-3.87zM1277.07,340.47h3.87v3.84h-3.87zM1293.12,340.47h3.87v3.84h-3.87zM1252.99,344.45h3.87v3.84h-3.87zM1265.03,344.45h3.87v3.84h-3.87zM1269.04,344.45h3.87v3.84h-3.87zM1273.05,344.45h3.87v3.84h-3.87zM1281.08,344.45h3.87v3.84h-3.87zM1261.01,348.43h3.87v3.84h-3.87zM1277.07,348.43h3.87v3.84h-3.87zM1289.10,348.43h3.87v3.84h-3.87zM1305.15,348.43h3.87v3.84h-3.87zM1305.15,352.41h3.87v3.84h-3.87zM1269.04,356.39h3.87v3.84h-3.87zM1301.14,356.39h3.87v3.84h-3.87zM1285.09,360.37h3.87v3.84h-3.87zM1285.09,364.35h3.87v3.84h-3.87zM1293.12,364.35h3.87v3.84h-3.87zM1301.14,368.33h3.87v3.84h-3.87zM1305.15,368.33h3.87v3.84h-3.87zM1297.13,372.31h3.87v3.84h-3.87zM1305.15,372.31h3.87v3.84h-3.87zM1301.14,384.26h3.87v3.84h-3.87zM1381.40,312.60h3.87v3.84h-3.87zM1369.36,316.58h3.87v3.84h-3.87zM1381.40,316.58h3.87v3.84h-3.87zM1345.28,320.56h3.87v3.84h-3.87zM1357.32,320.56h3.87v3.84h-3.87zM1365.34,320.56h3.87v3.84h-3.87zM1345.28,324.54h3.87v3.84h-3.87zM1313.18,328.52h3.87v3.84h-3.87zM1361.33,328.52h3.87v3.84h-3.87zM1365.34,328.52h3.87v3.84h-3.87zM1337.26,332.50h3.87v3.84h-3.87zM1377.38,332.50h3.87v3.84h-3.87zM1373.37,340.47h3.87v3.84h-3.87zM1381.40,340.47h3.87v3.84h-3.87zM1385.41,340.47h3.87v3.84h-3.87zM1389.42,340.47h3.87v3.84h-3.87zM1325.22,344.45h3.87v3.84h-3.87zM1341.27,344.45h3.87v3.84h-3.87zM1345.28,344.45h3.87v3.84h-3.87zM1353.31,344.45h3.87v3.84h-3.87zM1377.38,344.45h3.87v3.84h-3.87zM1321.20,348.43h3.87v3.84h-3.87zM1325.22,348.43h3.87v3.84h-3.87zM1333.24,348.43h3.87v3.84h-3.87zM1337.26,348.43h3.87v3.84h-3.87zM1341.27,348.43h3.87v3.84h-3.87zM1325.22,352.41h3.87v3.84h-3.87zM1329.23,352.41h3.87v3.84h-3.87zM1349.29,352.41h3.87v3.84h-3.87zM1317.19,356.39h3.87v3.84h-3.87zM1349.29,356.39h3.87v3.84h-3.87zM1365.34,356.39h3.87v3.84h-3.87zM1349.29,360.37h3.87v3.84h-3.87zM1321.20,364.35h3.87v3.84h-3.87zM1389.42,364.35h3.87v3.84h-3.87zM1333.24,368.33h3.87v3.84h-3.87zM1353.31,368.33h3.87v3.84h-3.87zM1309.17,372.31h3.87v3.84h-3.87zM1349.29,372.31h3.87v3.84h-3.87zM1357.32,372.31h3.87v3.84h-3.87zM1361.33,372.31h3.87v3.84h-3.87zM1333.24,376.30h3.87v3.84h-3.87zM1345.28,376.30h3.87v3.84h-3.87zM1353.31,376.30h3.87v3.84h-3.87zM1381.40,376.30h3.87v3.84h-3.87zM1385.41,376.30h3.87v3.84h-3.87zM1389.42,376.30h3.87v3.84h-3.87zM1421.52,312.60h3.87v3.84h-3.87zM1449.61,312.60h3.87v3.84h-3.87zM1413.50,320.56h3.87v3.84h-3.87zM1409.48,324.54h3.87v3.84h-3.87zM1417.51,324.54h3.87v3.84h-3.87zM1449.61,324.54h3.87v3.84h-3.87zM1469.67,324.54h3.87v3.84h-3.87zM1425.54,328.52h3.87v3.84h-3.87zM1437.57,328.52h3.87v3.84h-3.87zM1413.50,332.50h3.87v3.84h-3.87zM1441.59,332.50h3.87v3.84h-3.87zM1453.62,332.50h3.87v3.84h-3.87zM1473.69,332.50h3.87v3.84h-3.87zM1473.69,336.49h3.87v3.84h-3.87zM1405.47,340.47h3.87v3.84h-3.87zM1437.57,340.47h3.87v3.84h-3.87zM1461.65,340.47h3.87v3.84h-3.87zM1397.45,348.43h3.87v3.84h-3.87zM1405.47,348.43h3.87v3.84h-3.87zM1425.54,348.43h3.87v3.84h-3.87zM1469.67,348.43h3.87v3.84h-3.87zM1401.46,352.41h3.87v3.84h-3.87zM1417.51,352.41h3.87v3.84h-3.87zM1449.61,352.41h3.87v3.84h-3.87zM1401.46,356.39h3.87v3.84h-3.87zM1429.55,356.39h3.87v3.84h-3.87zM1461.65,356.39h3.87v3.84h-3.87zM1397.45,360.37h3.87v3.84h-3.87zM1401.46,360.37h3.87v3.84h-3.87zM1421.52,360.37h3.87v3.84h-3.87zM1441.59,360.37h3.87v3.84h-3.87zM1417.51,364.35h3.87v3.84h-3.87zM1393.43,368.33h3.87v3.84h-3.87zM1405.47,368.33h3.87v3.84h-3.87zM1397.45,372.31h3.87v3.84h-3.87zM1425.54,384.26h3.87v3.84h-3.87zM1369.36,388.24h3.87v3.84h-3.87zM1317.19,408.14h3.87v3.84h-3.87zM1377.38,459.90h3.87v3.84h-3.87zM1397.45,388.24h3.87v3.84h-3.87zM1401.46,388.24h3.87v3.84h-3.87zM1405.47,400.18h3.87v3.84h-3.87zM1441.59,459.90h3.87v3.84h-3.87zM1393.43,463.88h3.87v3.84h-3.87zM1409.48,467.86h3.87v3.84h-3.87zM1397.45,475.82h3.87v3.84h-3.87zM1369.36,479.80h3.87v3.84h-3.87zM1405.47,483.78h3.87v3.84h-3.87zM1401.46,487.76h3.87v3.84h-3.87zM1409.48,487.76h3.87v3.84h-3.87zM1409.48,491.75h3.87v3.84h-3.87zM1393.43,495.73h3.87v3.84h-3.87zM1417.51,519.61h3.87v3.84h-3.87zM1421.52,463.88h3.87v3.84h-3.87zM1429.55,463.88h3.87v3.84h-3.87zM1453.62,471.84h3.87v3.84h-3.87zM1421.52,495.73h3.87v3.84h-3.87zM1425.54,515.63h3.87v3.84h-3.87zM1445.60,515.63h3.87v3.84h-3.87zM1437.57,531.56h3.87v3.84h-3.87zM1465.66,535.54h3.87v3.84h-3.87z"/><path fill="#297a8e" d="M1297.13,312.60h3.87v3.84h-3.87zM1281.08,316.58h3.87v3.84h-3.87zM1236.94,320.56h3.87v3.84h-3.87zM1257.00,320.56h3.87v3.84h-3.87zM1281.08,324.54h3.87v3.84h-3.87zM1228.91,328.52h3.87v3.84h-3.87zM1293.12,328.52h3.87v3.84h-3.87zM1301.14,328.52h3.87v3.84h-3.87zM1305.15,328.52h3.87v3.84h-3.87zM1273.05,332.50h3.87v3.84h-3.87zM1297.13,332.50h3.87v3.84h-3.87zM1232.93,336.49h3.87v3.84h-3.87zM1293.12,336.49h3.87v3.84h-3.87zM1252.99,340.47h3.87v3.84h-3.87zM1281.08,340.47h3.87v3.84h-3.87zM1240.95,344.45h3.87v3.84h-3.87zM1277.07,344.45h3.87v3.84h-3.87zM1248.98,348.43h3.87v3.84h-3.87zM1261.01,352.41h3.87v3.84h-3.87zM1277.07,356.39h3.87v3.84h-3.87zM1281.08,356.39h3.87v3.84h-3.87zM1289.10,360.37h3.87v3.84h-3.87zM1269.04,364.35h3.87v3.84h-3.87zM1273.05,364.35h3.87v3.84h-3.87zM1289.10,364.35h3.87v3.84h-3.87zM1273.05,368.33h3.87v3.84h-3.87zM1281.08,368.33h3.87v3.84h-3.87zM1277.07,372.31h3.87v3.84h-3.87zM1289.10,372.31h3.87v3.84h-3.87zM1297.13,376.30h3.87v3.84h-3.87zM1289.10,380.28h3.87v3.84h-3.87zM1329.23,312.60h3.87v3.84h-3.87zM1361.33,312.60h3.87v3.84h-3.87zM1377.38,316.58h3.87v3.84h-3.87zM1385.41,316.58h3.87v3.84h-3.87zM1317.19,320.56h3.87v3.84h-3.87zM1329.23,320.56h3.87v3.84h-3.87zM1369.36,320.56h3.87v3.84h-3.87zM1329.23,324.54h3.87v3.84h-3.87zM1337.26,324.54h3.87v3.84h-3.87zM1361.33,324.54h3.87v3.84h-3.87zM1365.34,324.54h3.87v3.84h-3.87zM1369.36,324.54h3.87v3.84h-3.87zM1369.36,328.52h3.87v3.84h-3.87zM1313.18,332.50h3.87v3.84h-3.87zM1333.24,332.50h3.87v3.84h-3.87zM1341.27,332.50h3.87v3.84h-3.87zM1361.33,332.50h3.87v3.84h-3.87zM1365.34,332.50h3.87v3.84h-3.87zM1369.36,332.50h3.87v3.84h-3.87zM1341.27,336.49h3.87v3.84h-3.87zM1345.28,336.49h3.87v3.84h-3.87zM1361.33,336.49h3.87v3.84h-3.87zM1381.40,336.49h3.87v3.84h-3.87zM1389.42,336.49h3.87v3.84h-3.87zM1321.20,340.47h3.87v3.84h-3.87zM1345.28,340.47h3.87v3.84h-3.87zM1309.17,344.45h3.87v3.84h-3.87zM1329.23,344.45h3.87v3.84h-3.87zM1369.36,344.45h3.87v3.84h-3.87zM1385.41,344.45h3.87v3.84h-3.87zM1389.42,344.45h3.87v3.84h-3.87zM1313.18,348.43h3.87v3.84h-3.87zM1309.17,352.41h3.87v3.84h-3.87zM1369.36,352.41h3.87v3.84h-3.87zM1317.19,360.37h3.87v3.84h-3.87zM1329.23,360.37h3.87v3.84h-3.87zM1353.31,360.37h3.87v3.84h-3.87zM1361.33,360.37h3.87v3.84h-3.87zM1365.34,360.37h3.87v3.84h-3.87zM1325.22,364.35h3.87v3.84h-3.87zM1349.29,364.35h3.87v3.84h-3.87zM1337.26,368.33h3.87v3.84h-3.87zM1349.29,368.33h3.87v3.84h-3.87zM1357.32,368.33h3.87v3.84h-3.87zM1313.18,372.31h3.87v3.84h-3.87zM1329.23,372.31h3.87v3.84h-3.87zM1377.38,372.31h3.87v3.84h-3.87zM1389.42,372.31h3.87v3.84h-3.87zM1313.18,376.30h3.87v3.84h-3.87zM1317.19,376.30h3.87v3.84h-3.87zM1405.47,312.60h3.87v3.84h-3.87zM1453.62,312.60h3.87v3.84h-3.87zM1393.43,316.58h3.87v3.84h-3.87zM1441.59,316.58h3.87v3.84h-3.87zM1469.67,316.58h3.87v3.84h-3.87zM1393.43,320.56h3.87v3.84h-3.87zM1405.47,320.56h3.87v3.84h-3.87zM1417.51,320.56h3.87v3.84h-3.87zM1437.57,320.56h3.87v3.84h-3.87zM1445.60,320.56h3.87v3.84h-3.87zM1421.52,324.54h3.87v3.84h-3.87zM1437.57,324.54h3.87v3.84h-3.87zM1457.64,324.54h3.87v3.84h-3.87zM1393.43,332.50h3.87v3.84h-3.87zM1429.55,332.50h3.87v3.84h-3.87zM1421.52,336.49h3.87v3.84h-3.87zM1437.57,336.49h3.87v3.84h-3.87zM1445.60,336.49h3.87v3.84h-3.87zM1453.62,336.49h3.87v3.84h-3.87zM1457.64,336.49h3.87v3.84h-3.87zM1401.46,340.47h3.87v3.84h-3.87zM1433.56,340.47h3.87v3.84h-3.87zM1445.60,340.47h3.87v3.84h-3.87zM1409.48,344.45h3.87v3.84h-3.87zM1413.50,344.45h3.87v3.84h-3.87zM1429.55,344.45h3.87v3.84h-3.87zM1433.56,344.45h3.87v3.84h-3.87zM1441.59,348.43h3.87v3.84h-3.87zM1465.66,348.43h3.87v3.84h-3.87zM1393.43,352.41h3.87v3.84h-3.87zM1425.54,356.39h3.87v3.84h-3.87zM1441.59,356.39h3.87v3.84h-3.87zM1433.56,360.37h3.87v3.84h-3.87zM1445.60,360.37h3.87v3.84h-3.87zM1453.62,360.37h3.87v3.84h-3.87zM1465.66,360.37h3.87v3.84h-3.87zM1473.69,360.37h3.87v3.84h-3.87zM1409.48,376.30h3.87v3.84h-3.87zM1397.45,380.28h3.87v3.84h-3.87zM1413.50,384.26h3.87v3.84h-3.87zM1309.17,388.24h3.87v3.84h-3.87zM1373.37,388.24h3.87v3.84h-3.87zM1309.17,400.18h3.87v3.84h-3.87zM1333.24,416.11h3.87v3.84h-3.87zM1421.52,388.24h3.87v3.84h-3.87zM1373.37,463.88h3.87v3.84h-3.87zM1413.50,463.88h3.87v3.84h-3.87zM1397.45,467.86h3.87v3.84h-3.87zM1405.47,475.82h3.87v3.84h-3.87zM1401.46,479.80h3.87v3.84h-3.87zM1377.38,507.67h3.87v3.84h-3.87zM1473.69,479.80h3.87v3.84h-3.87zM1461.65,483.78h3.87v3.84h-3.87zM1421.52,487.76h3.87v3.84h-3.87zM1421.52,499.71h3.87v3.84h-3.87zM1429.55,499.71h3.87v3.84h-3.87zM1421.52,511.65h3.87v3.84h-3.87zM1425.54,511.65h3.87v3.84h-3.87zM1429.55,511.65h3.87v3.84h-3.87zM1425.54,519.61h3.87v3.84h-3.87zM1421.52,523.59h3.87v3.84h-3.87z"/><path fill="#228d8d" d="M1257.00,316.58h3.87v3.84h-3.87zM1285.09,328.52h3.87v3.84h-3.87zM1257.00,332.50h3.87v3.84h-3.87zM1293.12,332.50h3.87v3.84h-3.87zM1297.13,340.47h3.87v3.84h-3.87zM1301.14,340.47h3.87v3.84h-3.87zM1244.96,344.45h3.87v3.84h-3.87zM1273.05,356.39h3.87v3.84h-3.87zM1285.09,356.39h3.87v3.84h-3.87zM1293.12,356.39h3.87v3.84h-3.87zM1293.12,384.26h3.87v3.84h-3.87zM1321.20,320.56h3.87v3.84h-3.87zM1341.27,328.52h3.87v3.84h-3.87zM1313.18,336.49h3.87v3.84h-3.87zM1361.33,348.43h3.87v3.84h-3.87zM1377.38,348.43h3.87v3.84h-3.87zM1309.17,356.39h3.87v3.84h-3.87zM1365.34,364.35h3.87v3.84h-3.87zM1373.37,364.35h3.87v3.84h-3.87zM1361.33,368.33h3.87v3.84h-3.87zM1325.22,372.31h3.87v3.84h-3.87zM1317.19,384.26h3.87v3.84h-3.87zM1453.62,320.56h3.87v3.84h-3.87zM1393.43,324.54h3.87v3.84h-3.87zM1417.51,328.52h3.87v3.84h-3.87zM1445.60,344.45h3.87v3.84h-3.87zM1413.50,348.43h3.87v3.84h-3.87zM1413.50,352.41h3.87v3.84h-3.87zM1445.60,356.39h3.87v3.84h-3.87zM1457.64,356.39h3.87v3.84h-3.87zM1425.54,364.35h3.87v3.84h-3.87zM1461.65,368.33h3.87v3.84h-3.87zM1425.54,372.31h3.87v3.84h-3.87zM1429.55,372.31h3.87v3.84h-3.87zM1469.67,376.30h3.87v3.84h-3.87zM1401.46,380.28h3.87v3.84h-3.87zM1421.52,380.28h3.87v3.84h-3.87zM1429.55,384.26h3.87v3.84h-3.87zM1325.22,388.24h3.87v3.84h-3.87zM1333.24,388.24h3.87v3.84h-3.87zM1385.41,455.92h3.87v3.84h-3.87zM1417.51,388.24h3.87v3.84h-3.87zM1409.48,392.22h3.87v3.84h-3.87zM1445.60,392.22h3.87v3.84h-3.87zM1401.46,455.92h3.87v3.84h-3.87zM1381.40,471.84h3.87v3.84h-3.87zM1409.48,475.82h3.87v3.84h-3.87zM1389.42,483.78h3.87v3.84h-3.87zM1417.51,483.78h3.87v3.84h-3.87zM1413.50,487.76h3.87v3.84h-3.87zM1377.38,491.75h3.87v3.84h-3.87zM1405.47,491.75h3.87v3.84h-3.87zM1385.41,511.65h3.87v3.84h-3.87zM1385.41,519.61h3.87v3.84h-3.87zM1417.51,523.59h3.87v3.84h-3.87zM1437.57,463.88h3.87v3.84h-3.87zM1441.59,463.88h3.87v3.84h-3.87zM1433.56,467.86h3.87v3.84h-3.87zM1429.55,519.61h3.87v3.84h-3.87zM1429.55,523.59h3.87v3.84h-3.87zM1421.52,527.57h3.87v3.84h-3.87zM1457.64,527.57h3.87v3.84h-3.87z"/><path fill="#472d7b" d="M1269.04,316.58h3.87v3.84h-3.87zM1273.05,316.58h3.87v3.84h-3.87zM1257.00,340.47h3.87v3.84h-3.87zM1365.34,312.60h3.87v3.84h-3.87zM1333.24,336.49h3.87v3.84h-3.87zM1377.38,340.47h3.87v3.84h-3.87zM1369.36,348.43h3.87v3.84h-3.87zM1429.55,320.56h3.87v3.84h-3.87zM1445.60,348.43h3.87v3.84h-3.87zM1469.67,380.28h3.87v3.84h-3.87zM1413.50,495.73h3.87v3.84h-3.87zM1433.56,499.71h3.87v3.84h-3.87zM1445.60,523.59h3.87v3.84h-3.87z"/><path fill="#3d4e8a" d="M1289.10,316.58h3.87v3.84h-3.87zM1285.09,332.50h3.87v3.84h-3.87zM1297.13,352.41h3.87v3.84h-3.87zM1389.42,312.60h3.87v3.84h-3.87zM1365.34,344.45h3.87v3.84h-3.87zM1389.42,352.41h3.87v3.84h-3.87zM1369.36,372.31h3.87v3.84h-3.87zM1429.55,312.60h3.87v3.84h-3.87zM1433.56,312.60h3.87v3.84h-3.87zM1473.69,340.47h3.87v3.84h-3.87zM1437.57,344.45h3.87v3.84h-3.87zM1437.57,348.43h3.87v3.84h-3.87zM1433.56,356.39h3.87v3.84h-3.87zM1457.64,368.33h3.87v3.84h-3.87zM1405.47,376.30h3.87v3.84h-3.87zM1425.54,376.30h3.87v3.84h-3.87zM1401.46,459.90h3.87v3.84h-3.87zM1413.50,491.75h3.87v3.84h-3.87zM1453.62,463.88h3.87v3.84h-3.87zM1473.69,471.84h3.87v3.84h-3.87zM1437.57,515.63h3.87v3.84h-3.87z"/><path fill="#33638d" d="M1224.90,320.56h3.87v3.84h-3.87zM1285.09,320.56h3.87v3.84h-3.87zM1293.12,348.43h3.87v3.84h-3.87zM1305.15,360.37h3.87v3.84h-3.87zM1285.09,368.33h3.87v3.84h-3.87zM1293.12,372.31h3.87v3.84h-3.87zM1325.22,320.56h3.87v3.84h-3.87zM1321.20,336.49h3.87v3.84h-3.87zM1317.19,348.43h3.87v3.84h-3.87zM1313.18,356.39h3.87v3.84h-3.87zM1321.20,372.31h3.87v3.84h-3.87zM1405.47,316.58h3.87v3.84h-3.87zM1461.65,332.50h3.87v3.84h-3.87zM1441.59,344.45h3.87v3.84h-3.87zM1461.65,344.45h3.87v3.84h-3.87zM1453.62,368.33h3.87v3.84h-3.87zM1397.45,384.26h3.87v3.84h-3.87zM1433.56,384.26h3.87v3.84h-3.87zM1389.42,436.01h3.87v3.84h-3.87zM1425.54,388.24h3.87v3.84h-3.87zM1421.52,459.90h3.87v3.84h-3.87zM1393.43,471.84h3.87v3.84h-3.87zM1393.43,475.82h3.87v3.84h-3.87zM1413.50,483.78h3.87v3.84h-3.87zM1417.51,507.67h3.87v3.84h-3.87zM1453.62,475.82h3.87v3.84h-3.87zM1449.61,479.80h3.87v3.84h-3.87zM1425.54,487.76h3.87v3.84h-3.87zM1425.54,531.56h3.87v3.84h-3.87z"/><path fill="#355f8d" d="M1273.05,320.56h3.87v3.84h-3.87zM1244.96,324.54h3.87v3.84h-3.87zM1273.05,324.54h3.87v3.84h-3.87zM1273.05,328.52h3.87v3.84h-3.87zM1265.03,332.50h3.87v3.84h-3.87zM1248.98,336.49h3.87v3.84h-3.87zM1373.37,356.39h3.87v3.84h-3.87zM1309.17,364.35h3.87v3.84h-3.87zM1377.38,376.30h3.87v3.84h-3.87zM1401.46,312.60h3.87v3.84h-3.87zM1401.46,324.54h3.87v3.84h-3.87zM1413.50,372.31h3.87v3.84h-3.87zM1461.65,376.30h3.87v3.84h-3.87zM1461.65,392.22h3.87v3.84h-3.87zM1437.57,400.18h3.87v3.84h-3.87zM1405.47,499.71h3.87v3.84h-3.87zM1409.48,511.65h3.87v3.84h-3.87z"/><path fill="#21918c" d="M1277.07,320.56h3.87v3.84h-3.87zM1325.22,380.28h3.87v3.84h-3.87zM1381.40,380.28h3.87v3.84h-3.87zM1461.65,324.54h3.87v3.84h-3.87zM1457.64,372.31h3.87v3.84h-3.87zM1429.55,380.28h3.87v3.84h-3.87zM1437.57,380.28h3.87v3.84h-3.87zM1417.51,384.26h3.87v3.84h-3.87zM1389.42,396.20h3.87v3.84h-3.87zM1393.43,388.24h3.87v3.84h-3.87zM1429.55,388.24h3.87v3.84h-3.87zM1369.36,467.86h3.87v3.84h-3.87zM1405.47,467.86h3.87v3.84h-3.87zM1385.41,471.84h3.87v3.84h-3.87zM1397.45,479.80h3.87v3.84h-3.87zM1409.48,483.78h3.87v3.84h-3.87zM1393.43,487.76h3.87v3.84h-3.87zM1397.45,487.76h3.87v3.84h-3.87zM1405.47,495.73h3.87v3.84h-3.87zM1377.38,499.71h3.87v3.84h-3.87zM1381.40,499.71h3.87v3.84h-3.87zM1417.51,527.57h3.87v3.84h-3.87zM1449.61,463.88h3.87v3.84h-3.87zM1457.64,463.88h3.87v3.84h-3.87zM1449.61,471.84h3.87v3.84h-3.87zM1457.64,479.80h3.87v3.84h-3.87zM1461.65,479.80h3.87v3.84h-3.87zM1469.67,487.76h3.87v3.84h-3.87zM1425.54,495.73h3.87v3.84h-3.87zM1473.69,499.71h3.87v3.84h-3.87zM1429.55,503.69h3.87v3.84h-3.87zM1457.64,523.59h3.87v3.84h-3.87zM1429.55,531.56h3.87v3.84h-3.87z"/><path fill="#1f948c" d="M1281.08,320.56h3.87v3.84h-3.87zM1305.15,384.26h3.87v3.84h-3.87zM1333.24,316.58h3.87v3.84h-3.87zM1361.33,344.45h3.87v3.84h-3.87zM1377.38,352.41h3.87v3.84h-3.87zM1345.28,380.28h3.87v3.84h-3.87zM1309.17,384.26h3.87v3.84h-3.87zM1321.20,384.26h3.87v3.84h-3.87zM1389.42,384.26h3.87v3.84h-3.87zM1473.69,364.35h3.87v3.84h-3.87zM1473.69,372.31h3.87v3.84h-3.87zM1473.69,376.30h3.87v3.84h-3.87zM1393.43,384.26h3.87v3.84h-3.87zM1469.67,384.26h3.87v3.84h-3.87zM1389.42,388.24h3.87v3.84h-3.87zM1309.17,392.22h3.87v3.84h-3.87zM1389.42,392.22h3.87v3.84h-3.87zM1317.19,400.18h3.87v3.84h-3.87zM1377.38,455.92h3.87v3.84h-3.87zM1381.40,455.92h3.87v3.84h-3.87zM1373.37,459.90h3.87v3.84h-3.87zM1437.57,392.22h3.87v3.84h-3.87zM1449.61,408.14h3.87v3.84h-3.87zM1381.40,475.82h3.87v3.84h-3.87zM1385.41,475.82h3.87v3.84h-3.87zM1417.51,491.75h3.87v3.84h-3.87zM1385.41,515.63h3.87v3.84h-3.87zM1449.61,467.86h3.87v3.84h-3.87zM1457.64,467.86h3.87v3.84h-3.87zM1425.54,507.67h3.87v3.84h-3.87zM1429.55,507.67h3.87v3.84h-3.87zM1437.57,523.59h3.87v3.84h-3.87z"/><path fill="#470d60" d="M1228.91,324.54h3.87v3.84h-3.87zM1449.61,320.56h3.87v3.84h-3.87zM1353.31,424.07h3.87v3.84h-3.87zM1357.32,424.07h3.87v3.84h-3.87zM1385.41,483.78h3.87v3.84h-3.87zM1385.41,487.76h3.87v3.84h-3.87zM1397.45,495.73h3.87v3.84h-3.87zM1433.56,491.75h3.87v3.84h-3.87zM1425.54,499.71h3.87v3.84h-3.87zM1469.67,535.54h3.87v3.84h-3.87z"/><path fill="#3fbc73" d="M1236.94,324.54h3.87v3.84h-3.87zM1236.94,332.50h3.87v3.84h-3.87zM1461.65,384.26h3.87v3.84h-3.87zM1465.66,384.26h3.87v3.84h-3.87zM1349.29,392.22h3.87v3.84h-3.87zM1353.31,392.22h3.87v3.84h-3.87zM1357.32,392.22h3.87v3.84h-3.87zM1321.20,396.20h3.87v3.84h-3.87zM1325.22,396.20h3.87v3.84h-3.87zM1345.28,396.20h3.87v3.84h-3.87zM1357.32,396.20h3.87v3.84h-3.87zM1365.34,396.20h3.87v3.84h-3.87zM1373.37,396.20h3.87v3.84h-3.87zM1321.20,400.18h3.87v3.84h-3.87zM1325.22,400.18h3.87v3.84h-3.87zM1333.24,400.18h3.87v3.84h-3.87zM1357.32,400.18h3.87v3.84h-3.87zM1357.32,428.05h3.87v3.84h-3.87zM1365.34,439.99h3.87v3.84h-3.87zM1381.40,439.99h3.87v3.84h-3.87zM1385.41,443.97h3.87v3.84h-3.87zM1381.40,447.95h3.87v3.84h-3.87zM1389.42,447.95h3.87v3.84h-3.87zM1361.33,451.94h3.87v3.84h-3.87zM1365.34,451.94h3.87v3.84h-3.87zM1373.37,451.94h3.87v3.84h-3.87zM1365.34,455.92h3.87v3.84h-3.87zM1401.46,396.20h3.87v3.84h-3.87zM1409.48,400.18h3.87v3.84h-3.87zM1425.54,400.18h3.87v3.84h-3.87zM1409.48,404.16h3.87v3.84h-3.87zM1413.50,404.16h3.87v3.84h-3.87zM1417.51,404.16h3.87v3.84h-3.87zM1429.55,404.16h3.87v3.84h-3.87zM1433.56,404.16h3.87v3.84h-3.87zM1437.57,412.12h3.87v3.84h-3.87zM1449.61,412.12h3.87v3.84h-3.87zM1405.47,443.97h3.87v3.84h-3.87zM1409.48,443.97h3.87v3.84h-3.87zM1397.45,447.95h3.87v3.84h-3.87zM1401.46,447.95h3.87v3.84h-3.87zM1405.47,447.95h3.87v3.84h-3.87zM1417.51,451.94h3.87v3.84h-3.87zM1425.54,451.94h3.87v3.84h-3.87zM1397.45,455.92h3.87v3.84h-3.87zM1425.54,455.92h3.87v3.84h-3.87zM1437.57,455.92h3.87v3.84h-3.87zM1389.42,487.76h3.87v3.84h-3.87zM1381.40,495.73h3.87v3.84h-3.87zM1453.62,507.67h3.87v3.84h-3.87z"/><path fill="#482878" d="M1289.10,324.54h3.87v3.84h-3.87zM1365.34,336.49h3.87v3.84h-3.87zM1337.26,340.47h3.87v3.84h-3.87zM1333.24,344.45h3.87v3.84h-3.87zM1373.37,352.41h3.87v3.84h-3.87zM1453.62,352.41h3.87v3.84h-3.87zM1325.22,412.12h3.87v3.84h-3.87zM1417.51,475.82h3.87v3.84h-3.87zM1385.41,523.59h3.87v3.84h-3.87zM1445.60,535.54h3.87v3.84h-3.87z"/><path fill="#2e6f8e" d="M1265.03,328.52h3.87v3.84h-3.87zM1281.08,332.50h3.87v3.84h-3.87zM1305.15,340.47h3.87v3.84h-3.87zM1293.12,352.41h3.87v3.84h-3.87zM1305.15,364.35h3.87v3.84h-3.87zM1325.22,312.60h3.87v3.84h-3.87zM1345.28,312.60h3.87v3.84h-3.87zM1369.36,360.37h3.87v3.84h-3.87zM1433.56,332.50h3.87v3.84h-3.87zM1461.65,352.41h3.87v3.84h-3.87zM1445.60,376.30h3.87v3.84h-3.87zM1445.60,380.28h3.87v3.84h-3.87zM1405.47,471.84h3.87v3.84h-3.87zM1433.56,471.84h3.87v3.84h-3.87z"/><path fill="#46327e" d="M1248.98,340.47h3.87v3.84h-3.87zM1289.10,340.47h3.87v3.84h-3.87zM1265.03,352.41h3.87v3.84h-3.87zM1389.42,332.50h3.87v3.84h-3.87zM1429.55,352.41h3.87v3.84h-3.87zM1409.48,463.88h3.87v3.84h-3.87zM1369.36,487.76h3.87v3.84h-3.87zM1405.47,487.76h3.87v3.84h-3.87zM1417.51,487.76h3.87v3.84h-3.87zM1393.43,499.71h3.87v3.84h-3.87zM1409.48,507.67h3.87v3.84h-3.87zM1457.64,483.78h3.87v3.84h-3.87zM1433.56,511.65h3.87v3.84h-3.87zM1445.60,531.56h3.87v3.84h-3.87zM1453.62,535.54h3.87v3.84h-3.87z"/><path fill="#1f988b" d="M1289.10,344.45h3.87v3.84h-3.87zM1365.34,316.58h3.87v3.84h-3.87zM1381.40,332.50h3.87v3.84h-3.87zM1317.19,380.28h3.87v3.84h-3.87zM1321.20,380.28h3.87v3.84h-3.87zM1333.24,380.28h3.87v3.84h-3.87zM1377.38,380.28h3.87v3.84h-3.87zM1385.41,380.28h3.87v3.84h-3.87zM1313.18,384.26h3.87v3.84h-3.87zM1325.22,384.26h3.87v3.84h-3.87zM1377.38,384.26h3.87v3.84h-3.87zM1465.66,312.60h3.87v3.84h-3.87zM1457.64,360.37h3.87v3.84h-3.87zM1469.67,368.33h3.87v3.84h-3.87zM1449.61,372.31h3.87v3.84h-3.87zM1449.61,376.30h3.87v3.84h-3.87zM1453.62,376.30h3.87v3.84h-3.87zM1449.61,380.28h3.87v3.84h-3.87zM1449.61,384.26h3.87v3.84h-3.87zM1457.64,384.26h3.87v3.84h-3.87zM1317.19,388.24h3.87v3.84h-3.87zM1381.40,388.24h3.87v3.84h-3.87zM1441.59,388.24h3.87v3.84h-3.87zM1461.65,388.24h3.87v3.84h-3.87zM1449.61,392.22h3.87v3.84h-3.87zM1393.43,396.20h3.87v3.84h-3.87zM1433.56,396.20h3.87v3.84h-3.87zM1413.50,400.18h3.87v3.84h-3.87zM1441.59,400.18h3.87v3.84h-3.87zM1449.61,400.18h3.87v3.84h-3.87zM1457.64,404.16h3.87v3.84h-3.87zM1445.60,408.14h3.87v3.84h-3.87zM1413.50,447.95h3.87v3.84h-3.87zM1369.36,471.84h3.87v3.84h-3.87zM1381.40,507.67h3.87v3.84h-3.87zM1425.54,467.86h3.87v3.84h-3.87zM1461.65,487.76h3.87v3.84h-3.87zM1433.56,515.63h3.87v3.84h-3.87zM1433.56,523.59h3.87v3.84h-3.87z"/><path fill="#453781" d="M1297.13,348.43h3.87v3.84h-3.87zM1252.99,352.41h3.87v3.84h-3.87zM1421.52,320.56h3.87v3.84h-3.87zM1441.59,352.41h3.87v3.84h-3.87zM1401.46,495.73h3.87v3.84h-3.87zM1461.65,467.86h3.87v3.84h-3.87zM1425.54,483.78h3.87v3.84h-3.87z"/><path fill="#20a386" d="M1281.08,360.37h3.87v3.84h-3.87zM1349.29,380.28h3.87v3.84h-3.87zM1353.31,380.28h3.87v3.84h-3.87zM1469.67,332.50h3.87v3.84h-3.87zM1453.62,364.35h3.87v3.84h-3.87zM1469.67,364.35h3.87v3.84h-3.87zM1461.65,372.31h3.87v3.84h-3.87zM1465.66,372.31h3.87v3.84h-3.87zM1453.62,380.28h3.87v3.84h-3.87zM1473.69,384.26h3.87v3.84h-3.87zM1313.18,388.24h3.87v3.84h-3.87zM1345.28,388.24h3.87v3.84h-3.87zM1385.41,388.24h3.87v3.84h-3.87zM1329.23,392.22h3.87v3.84h-3.87zM1381.40,451.94h3.87v3.84h-3.87zM1465.66,388.24h3.87v3.84h-3.87zM1469.67,388.24h3.87v3.84h-3.87zM1473.69,388.24h3.87v3.84h-3.87zM1401.46,392.22h3.87v3.84h-3.87zM1429.55,392.22h3.87v3.84h-3.87zM1397.45,396.20h3.87v3.84h-3.87zM1425.54,396.20h3.87v3.84h-3.87zM1429.55,400.18h3.87v3.84h-3.87zM1473.69,400.18h3.87v3.84h-3.87zM1377.38,467.86h3.87v3.84h-3.87zM1393.43,491.75h3.87v3.84h-3.87zM1453.62,467.86h3.87v3.84h-3.87zM1441.59,475.82h3.87v3.84h-3.87zM1449.61,475.82h3.87v3.84h-3.87zM1457.64,475.82h3.87v3.84h-3.87zM1465.66,487.76h3.87v3.84h-3.87zM1433.56,519.61h3.87v3.84h-3.87zM1441.59,519.61h3.87v3.84h-3.87z"/><path fill="#22a785" d="M1301.14,380.28h3.87v3.84h-3.87zM1285.09,384.26h3.87v3.84h-3.87zM1309.17,380.28h3.87v3.84h-3.87zM1329.23,380.28h3.87v3.84h-3.87zM1337.26,380.28h3.87v3.84h-3.87zM1373.37,380.28h3.87v3.84h-3.87zM1389.42,380.28h3.87v3.84h-3.87zM1329.23,384.26h3.87v3.84h-3.87zM1349.29,384.26h3.87v3.84h-3.87zM1357.32,384.26h3.87v3.84h-3.87zM1373.37,384.26h3.87v3.84h-3.87zM1457.64,380.28h3.87v3.84h-3.87zM1441.59,384.26h3.87v3.84h-3.87zM1445.60,384.26h3.87v3.84h-3.87zM1305.15,388.24h3.87v3.84h-3.87zM1329.23,388.24h3.87v3.84h-3.87zM1361.33,388.24h3.87v3.84h-3.87zM1385.41,400.18h3.87v3.84h-3.87zM1317.19,404.16h3.87v3.84h-3.87zM1369.36,451.94h3.87v3.84h-3.87zM1409.48,388.24h3.87v3.84h-3.87zM1417.51,392.22h3.87v3.84h-3.87zM1425.54,392.22h3.87v3.84h-3.87zM1421.52,396.20h3.87v3.84h-3.87zM1457.64,396.20h3.87v3.84h-3.87zM1417.51,400.18h3.87v3.84h-3.87zM1445.60,400.18h3.87v3.84h-3.87zM1453.62,408.14h3.87v3.84h-3.87zM1433.56,432.03h3.87v3.84h-3.87zM1417.51,447.95h3.87v3.84h-3.87zM1393.43,459.90h3.87v3.84h-3.87zM1429.55,459.90h3.87v3.84h-3.87zM1365.34,467.86h3.87v3.84h-3.87zM1401.46,467.86h3.87v3.84h-3.87zM1389.42,515.63h3.87v3.84h-3.87zM1469.67,475.82h3.87v3.84h-3.87zM1465.66,483.78h3.87v3.84h-3.87zM1445.60,507.67h3.87v3.84h-3.87zM1429.55,515.63h3.87v3.84h-3.87z"/><path fill="#7ad151" d="M1281.08,384.26h3.87v3.84h-3.87zM1329.23,404.16h3.87v3.84h-3.87zM1345.28,404.16h3.87v3.84h-3.87zM1361.33,404.16h3.87v3.84h-3.87zM1369.36,404.16h3.87v3.84h-3.87zM1321.20,408.14h3.87v3.84h-3.87zM1337.26,408.14h3.87v3.84h-3.87zM1341.27,408.14h3.87v3.84h-3.87zM1345.28,408.14h3.87v3.84h-3.87zM1349.29,408.14h3.87v3.84h-3.87zM1369.36,408.14h3.87v3.84h-3.87zM1385.41,412.12h3.87v3.84h-3.87zM1373.37,420.09h3.87v3.84h-3.87zM1357.32,432.03h3.87v3.84h-3.87zM1365.34,432.03h3.87v3.84h-3.87zM1377.38,436.01h3.87v3.84h-3.87zM1381.40,436.01h3.87v3.84h-3.87zM1357.32,439.99h3.87v3.84h-3.87zM1405.47,412.12h3.87v3.84h-3.87zM1413.50,412.12h3.87v3.84h-3.87zM1445.60,412.12h3.87v3.84h-3.87zM1421.52,416.11h3.87v3.84h-3.87zM1425.54,416.11h3.87v3.84h-3.87zM1421.52,432.03h3.87v3.84h-3.87zM1425.54,432.03h3.87v3.84h-3.87z"/><path fill="#3e4989" d="M1385.41,320.56h3.87v3.84h-3.87z"/><path fill="#3b528b" d="M1381.40,352.41h3.87v3.84h-3.87zM1453.62,328.52h3.87v3.84h-3.87zM1453.62,340.47h3.87v3.84h-3.87zM1405.47,388.24h3.87v3.84h-3.87zM1453.62,388.24h3.87v3.84h-3.87zM1405.47,459.90h3.87v3.84h-3.87zM1469.67,479.80h3.87v3.84h-3.87zM1441.59,511.65h3.87v3.84h-3.87zM1421.52,519.61h3.87v3.84h-3.87z"/><path fill="#1fa088" d="M1361.33,356.39h3.87v3.84h-3.87zM1385.41,372.31h3.87v3.84h-3.87zM1365.34,380.28h3.87v3.84h-3.87zM1341.27,384.26h3.87v3.84h-3.87zM1469.67,352.41h3.87v3.84h-3.87zM1457.64,364.35h3.87v3.84h-3.87zM1469.67,372.31h3.87v3.84h-3.87zM1461.65,380.28h3.87v3.84h-3.87zM1473.69,380.28h3.87v3.84h-3.87zM1409.48,384.26h3.87v3.84h-3.87zM1453.62,384.26h3.87v3.84h-3.87zM1341.27,388.24h3.87v3.84h-3.87zM1357.32,443.97h3.87v3.84h-3.87zM1457.64,388.24h3.87v3.84h-3.87zM1441.59,392.22h3.87v3.84h-3.87zM1405.47,396.20h3.87v3.84h-3.87zM1417.51,396.20h3.87v3.84h-3.87zM1441.59,396.20h3.87v3.84h-3.87zM1445.60,396.20h3.87v3.84h-3.87zM1393.43,400.18h3.87v3.84h-3.87zM1433.56,400.18h3.87v3.84h-3.87zM1437.57,404.16h3.87v3.84h-3.87zM1461.65,404.16h3.87v3.84h-3.87zM1417.51,408.14h3.87v3.84h-3.87zM1457.64,408.14h3.87v3.84h-3.87zM1461.65,408.14h3.87v3.84h-3.87zM1413.50,451.94h3.87v3.84h-3.87zM1425.54,459.90h3.87v3.84h-3.87zM1389.42,463.88h3.87v3.84h-3.87zM1417.51,463.88h3.87v3.84h-3.87zM1365.34,471.84h3.87v3.84h-3.87zM1373.37,479.80h3.87v3.84h-3.87zM1377.38,495.73h3.87v3.84h-3.87zM1405.47,515.63h3.87v3.84h-3.87zM1425.54,463.88h3.87v3.84h-3.87zM1429.55,467.86h3.87v3.84h-3.87zM1437.57,467.86h3.87v3.84h-3.87zM1469.67,483.78h3.87v3.84h-3.87zM1469.67,491.75h3.87v3.84h-3.87z"/><path fill="#25ab82" d="M1361.33,380.28h3.87v3.84h-3.87zM1465.66,380.28h3.87v3.84h-3.87zM1301.14,388.24h3.87v3.84h-3.87zM1321.20,388.24h3.87v3.84h-3.87zM1337.26,388.24h3.87v3.84h-3.87zM1365.34,388.24h3.87v3.84h-3.87zM1385.41,392.22h3.87v3.84h-3.87zM1337.26,416.11h3.87v3.84h-3.87zM1353.31,436.01h3.87v3.84h-3.87zM1357.32,447.95h3.87v3.84h-3.87zM1385.41,459.90h3.87v3.84h-3.87zM1409.48,396.20h3.87v3.84h-3.87zM1449.61,396.20h3.87v3.84h-3.87zM1461.65,400.18h3.87v3.84h-3.87zM1445.60,404.16h3.87v3.84h-3.87zM1453.62,404.16h3.87v3.84h-3.87zM1437.57,408.14h3.87v3.84h-3.87zM1393.43,451.94h3.87v3.84h-3.87zM1397.45,459.90h3.87v3.84h-3.87zM1409.48,459.90h3.87v3.84h-3.87zM1417.51,459.90h3.87v3.84h-3.87zM1433.56,459.90h3.87v3.84h-3.87zM1457.64,471.84h3.87v3.84h-3.87z"/><path fill="#46075a" d="M1397.45,312.60h3.87v3.84h-3.87zM1465.66,324.54h3.87v3.84h-3.87zM1353.31,428.05h3.87v3.84h-3.87zM1425.54,503.69h3.87v3.84h-3.87z"/><path fill="#b8de29" d="M1473.69,344.45h3.87v3.84h-3.87zM1293.12,388.24h3.87v3.84h-3.87zM1337.26,412.12h3.87v3.84h-3.87zM1341.27,412.12h3.87v3.84h-3.87zM1377.38,412.12h3.87v3.84h-3.87zM1349.29,416.11h3.87v3.84h-3.87zM1353.31,416.11h3.87v3.84h-3.87zM1365.34,420.09h3.87v3.84h-3.87zM1393.43,420.09h3.87v3.84h-3.87zM1397.45,420.09h3.87v3.84h-3.87zM1401.46,428.05h3.87v3.84h-3.87z"/><path fill="#38b977" d="M1445.60,352.41h3.87v3.84h-3.87zM1313.18,392.22h3.87v3.84h-3.87zM1317.19,392.22h3.87v3.84h-3.87zM1341.27,392.22h3.87v3.84h-3.87zM1365.34,392.22h3.87v3.84h-3.87zM1377.38,392.22h3.87v3.84h-3.87zM1381.40,392.22h3.87v3.84h-3.87zM1337.26,396.20h3.87v3.84h-3.87zM1341.27,396.20h3.87v3.84h-3.87zM1377.38,396.20h3.87v3.84h-3.87zM1329.23,400.18h3.87v3.84h-3.87zM1349.29,400.18h3.87v3.84h-3.87zM1353.31,400.18h3.87v3.84h-3.87zM1361.33,400.18h3.87v3.84h-3.87zM1365.34,400.18h3.87v3.84h-3.87zM1369.36,400.18h3.87v3.84h-3.87zM1389.42,400.18h3.87v3.84h-3.87zM1313.18,404.16h3.87v3.84h-3.87zM1385.41,439.99h3.87v3.84h-3.87zM1389.42,439.99h3.87v3.84h-3.87zM1373.37,443.97h3.87v3.84h-3.87zM1377.38,443.97h3.87v3.84h-3.87zM1389.42,443.97h3.87v3.84h-3.87zM1373.37,447.95h3.87v3.84h-3.87zM1377.38,447.95h3.87v3.84h-3.87zM1377.38,451.94h3.87v3.84h-3.87zM1365.34,459.90h3.87v3.84h-3.87zM1405.47,392.22h3.87v3.84h-3.87zM1393.43,404.16h3.87v3.84h-3.87zM1397.45,404.16h3.87v3.84h-3.87zM1401.46,404.16h3.87v3.84h-3.87zM1425.54,404.16h3.87v3.84h-3.87zM1397.45,408.14h3.87v3.84h-3.87zM1401.46,408.14h3.87v3.84h-3.87zM1405.47,408.14h3.87v3.84h-3.87zM1425.54,408.14h3.87v3.84h-3.87zM1429.55,408.14h3.87v3.84h-3.87zM1433.56,408.14h3.87v3.84h-3.87zM1421.52,412.12h3.87v3.84h-3.87zM1425.54,412.12h3.87v3.84h-3.87zM1429.55,412.12h3.87v3.84h-3.87zM1433.56,412.12h3.87v3.84h-3.87zM1393.43,439.99h3.87v3.84h-3.87zM1397.45,439.99h3.87v3.84h-3.87zM1397.45,443.97h3.87v3.84h-3.87zM1393.43,447.95h3.87v3.84h-3.87zM1409.48,447.95h3.87v3.84h-3.87zM1401.46,451.94h3.87v3.84h-3.87zM1405.47,451.94h3.87v3.84h-3.87zM1421.52,451.94h3.87v3.84h-3.87zM1421.52,455.92h3.87v3.84h-3.87zM1433.56,455.92h3.87v3.84h-3.87zM1365.34,475.82h3.87v3.84h-3.87zM1417.51,479.80h3.87v3.84h-3.87zM1425.54,471.84h3.87v3.84h-3.87zM1445.60,471.84h3.87v3.84h-3.87zM1473.69,491.75h3.87v3.84h-3.87zM1453.62,499.71h3.87v3.84h-3.87z"/><path fill="#440154" d="M1425.54,360.37h3.87v3.84h-3.87zM1349.29,424.07h3.87v3.84h-3.87z"/><path fill="#375b8d" d="M1409.48,368.33h3.87v3.84h-3.87z"/><path fill="#32b67a" d="M1465.66,376.30h3.87v3.84h-3.87zM1301.14,396.20h3.87v3.84h-3.87zM1361.33,392.22h3.87v3.84h-3.87zM1317.19,396.20h3.87v3.84h-3.87zM1329.23,396.20h3.87v3.84h-3.87zM1353.31,396.20h3.87v3.84h-3.87zM1341.27,400.18h3.87v3.84h-3.87zM1373.37,400.18h3.87v3.84h-3.87zM1377.38,400.18h3.87v3.84h-3.87zM1381.40,400.18h3.87v3.84h-3.87zM1325.22,404.16h3.87v3.84h-3.87zM1333.24,412.12h3.87v3.84h-3.87zM1345.28,420.09h3.87v3.84h-3.87zM1365.34,443.97h3.87v3.84h-3.87zM1365.34,447.95h3.87v3.84h-3.87zM1385.41,447.95h3.87v3.84h-3.87zM1389.42,451.94h3.87v3.84h-3.87zM1373.37,455.92h3.87v3.84h-3.87zM1413.50,388.24h3.87v3.84h-3.87zM1397.45,400.18h3.87v3.84h-3.87zM1405.47,404.16h3.87v3.84h-3.87zM1421.52,404.16h3.87v3.84h-3.87zM1409.48,408.14h3.87v3.84h-3.87zM1413.50,408.14h3.87v3.84h-3.87zM1421.52,408.14h3.87v3.84h-3.87zM1417.51,412.12h3.87v3.84h-3.87zM1429.55,432.03h3.87v3.84h-3.87zM1393.43,443.97h3.87v3.84h-3.87zM1397.45,451.94h3.87v3.84h-3.87zM1409.48,451.94h3.87v3.84h-3.87zM1409.48,455.92h3.87v3.84h-3.87zM1417.51,455.92h3.87v3.84h-3.87zM1413.50,523.59h3.87v3.84h-3.87zM1429.55,471.84h3.87v3.84h-3.87zM1421.52,479.80h3.87v3.84h-3.87z"/><path fill="#70cf57" d="M1333.24,404.16h3.87v3.84h-3.87zM1353.31,404.16h3.87v3.84h-3.87zM1357.32,404.16h3.87v3.84h-3.87zM1373.37,404.16h3.87v3.84h-3.87zM1381.40,404.16h3.87v3.84h-3.87zM1389.42,404.16h3.87v3.84h-3.87zM1353.31,408.14h3.87v3.84h-3.87zM1357.32,408.14h3.87v3.84h-3.87zM1361.33,408.14h3.87v3.84h-3.87zM1365.34,408.14h3.87v3.84h-3.87zM1381.40,408.14h3.87v3.84h-3.87zM1385.41,408.14h3.87v3.84h-3.87zM1381.40,416.11h3.87v3.84h-3.87zM1385.41,416.11h3.87v3.84h-3.87zM1389.42,416.11h3.87v3.84h-3.87zM1373.37,432.03h3.87v3.84h-3.87zM1365.34,436.01h3.87v3.84h-3.87zM1373.37,436.01h3.87v3.84h-3.87zM1361.33,439.99h3.87v3.84h-3.87zM1369.36,439.99h3.87v3.84h-3.87zM1373.37,439.99h3.87v3.84h-3.87zM1361.33,443.97h3.87v3.84h-3.87zM1397.45,412.12h3.87v3.84h-3.87zM1397.45,416.11h3.87v3.84h-3.87zM1409.48,416.11h3.87v3.84h-3.87zM1413.50,416.11h3.87v3.84h-3.87zM1417.51,416.11h3.87v3.84h-3.87zM1409.48,432.03h3.87v3.84h-3.87zM1417.51,432.03h3.87v3.84h-3.87z"/><path fill="#84d44b" d="M1337.26,404.16h3.87v3.84h-3.87zM1349.29,404.16h3.87v3.84h-3.87zM1365.34,404.16h3.87v3.84h-3.87zM1377.38,404.16h3.87v3.84h-3.87zM1385.41,404.16h3.87v3.84h-3.87zM1329.23,408.14h3.87v3.84h-3.87zM1373.37,408.14h3.87v3.84h-3.87zM1377.38,408.14h3.87v3.84h-3.87zM1389.42,408.14h3.87v3.84h-3.87zM1381.40,412.12h3.87v3.84h-3.87zM1389.42,412.12h3.87v3.84h-3.87zM1353.31,420.09h3.87v3.84h-3.87zM1377.38,420.09h3.87v3.84h-3.87zM1361.33,432.03h3.87v3.84h-3.87zM1357.32,436.01h3.87v3.84h-3.87zM1369.36,436.01h3.87v3.84h-3.87zM1385.41,436.01h3.87v3.84h-3.87zM1393.43,408.14h3.87v3.84h-3.87zM1393.43,412.12h3.87v3.84h-3.87zM1401.46,412.12h3.87v3.84h-3.87zM1405.47,416.11h3.87v3.84h-3.87z"/><path fill="#67cc5c" d="M1341.27,404.16h3.87v3.84h-3.87zM1333.24,408.14h3.87v3.84h-3.87zM1357.32,420.09h3.87v3.84h-3.87zM1381.40,420.09h3.87v3.84h-3.87zM1369.36,432.03h3.87v3.84h-3.87zM1377.38,432.03h3.87v3.84h-3.87zM1361.33,436.01h3.87v3.84h-3.87zM1377.38,439.99h3.87v3.84h-3.87zM1369.36,443.97h3.87v3.84h-3.87zM1409.48,412.12h3.87v3.84h-3.87zM1401.46,416.11h3.87v3.84h-3.87zM1413.50,432.03h3.87v3.84h-3.87z"/><path fill="#addc30" d="M1345.28,412.12h3.87v3.84h-3.87zM1357.32,412.12h3.87v3.84h-3.87zM1369.36,412.12h3.87v3.84h-3.87zM1357.32,416.11h3.87v3.84h-3.87zM1365.34,416.11h3.87v3.84h-3.87zM1369.36,416.11h3.87v3.84h-3.87zM1373.37,416.11h3.87v3.84h-3.87zM1377.38,416.11h3.87v3.84h-3.87zM1369.36,420.09h3.87v3.84h-3.87zM1361.33,428.05h3.87v3.84h-3.87zM1369.36,459.90h3.87v3.84h-3.87zM1401.46,420.09h3.87v3.84h-3.87zM1397.45,428.05h3.87v3.84h-3.87zM1405.47,428.05h3.87v3.84h-3.87zM1409.48,428.05h3.87v3.84h-3.87zM1413.50,428.05h3.87v3.84h-3.87zM1437.57,432.03h3.87v3.84h-3.87zM1369.36,475.82h3.87v3.84h-3.87z"/><path fill="#c2df23" d="M1349.29,412.12h3.87v3.84h-3.87zM1353.31,412.12h3.87v3.84h-3.87zM1361.33,412.12h3.87v3.84h-3.87zM1373.37,412.12h3.87v3.84h-3.87zM1341.27,416.11h3.87v3.84h-3.87zM1345.28,416.11h3.87v3.84h-3.87zM1361.33,416.11h3.87v3.84h-3.87zM1361.33,420.09h3.87v3.84h-3.87zM1365.34,428.05h3.87v3.84h-3.87zM1353.31,432.03h3.87v3.84h-3.87zM1393.43,416.11h3.87v3.84h-3.87zM1393.43,428.05h3.87v3.84h-3.87zM1405.47,432.03h3.87v3.84h-3.87zM1461.65,436.01h3.87v3.84h-3.87z"/><path fill="#a2da37" d="M1365.34,412.12h3.87v3.84h-3.87zM1401.46,463.88h3.87v3.84h-3.87z"/><path fill="#f6e620" d="M1361.33,424.07h3.87v3.84h-3.87zM1373.37,428.05h3.87v3.84h-3.87zM1377.38,428.05h3.87v3.84h-3.87zM1417.51,428.05h3.87v3.84h-3.87z"/><path fill="#e2e418" d="M1365.34,424.07h3.87v3.84h-3.87zM1369.36,424.07h3.87v3.84h-3.87zM1373.37,424.07h3.87v3.84h-3.87zM1385.41,428.05h3.87v3.84h-3.87z"/><path fill="#ece51b" d="M1377.38,424.07h3.87v3.84h-3.87zM1369.36,428.05h3.87v3.84h-3.87zM1381.40,428.05h3.87v3.84h-3.87zM1389.42,428.05h3.87v3.84h-3.87z"/><path fill="#471365" d="M1417.51,495.73h3.87v3.84h-3.87zM1441.59,527.57h3.87v3.84h-3.87z"/></g>
<rect x="1168.9" y="9.4" width="711.70" height="572.50" fill="none" stroke="#000" stroke-width="1.5"/>
<path d="M1168.90,581.9v6.6M1287.52,581.9v6.6M1406.13,581.9v6.6M1524.75,581.9v6.6M1643.37,581.9v6.6M1761.98,581.9v6.6M1880.60,581.9v6.6M1168.9,581.90h-6.6M1168.9,518.29h-6.6M1168.9,454.68h-6.6M1168.9,391.07h-6.6M1168.9,327.46h-6.6M1168.9,263.84h-6.6M1168.9,200.23h-6.6M1168.9,136.62h-6.6M1168.9,73.01h-6.6M1168.9,9.40h-6.6" stroke="#000" stroke-width="1.5" fill="none"/>
<text x="1168.90" y="614.0" font-size="26.9" text-anchor="middle">−60</text>
<text x="1287.52" y="614.0" font-size="26.9" text-anchor="middle">−40</text>
<text x="1406.13" y="614.0" font-size="26.9" text-anchor="middle">−20</text>
<text x="1524.75" y="614.0" font-size="26.9" text-anchor="middle">0</text>
<text x="1643.37" y="614.0" font-size="26.9" text-anchor="middle">20</text>
<text x="1761.98" y="614.0" font-size="26.9" text-anchor="middle">40</text>
<text x="1880.60" y="614.0" font-size="26.9" text-anchor="middle">60</text>
<text x="1157.0" y="591.60" font-size="26.9" text-anchor="end">−80</text>
<text x="1157.0" y="527.99" font-size="26.9" text-anchor="end">−60</text>
<text x="1157.0" y="464.38" font-size="26.9" text-anchor="end">−40</text>
<text x="1157.0" y="400.77" font-size="26.9" text-anchor="end">−20</text>
<text x="1157.0" y="337.16" font-size="26.9" text-anchor="end">0</text>
<text x="1157.0" y="273.54" font-size="26.9" text-anchor="end">20</text>
<text x="1157.0" y="209.93" font-size="26.9" text-anchor="end">40</text>
<text x="1157.0" y="146.32" font-size="26.9" text-anchor="end">60</text>
<text x="1157.0" y="82.71" font-size="26.9" text-anchor="end">80</text>
<text x="1157.0" y="19.10" font-size="26.9" text-anchor="end">100</text>
<text x="1524.75" y="652.8" font-size="35.2" text-anchor="middle">X (kpc)</text>
<text transform="translate(1087.0,295.65) rotate(-90)" font-size="35.2" text-anchor="middle">Z (kpc)</text>
<rect x="1224.9" y="312.8" width="252.80" height="226.70" fill="none" stroke="#000" stroke-width="1.5"/>
<path d="M1224.90,539.5v6.0M1303.90,539.5v6.0M1382.90,539.5v6.0M1461.90,539.5v6.0M1224.9,539.50h-6.0M1224.9,482.83h-6.0M1224.9,426.15h-6.0M1224.9,369.48h-6.0M1224.9,312.80h-6.0" stroke="#000" stroke-width="1.5" fill="none"/>
<text x="1224.90" y="571.5" font-size="26.9" text-anchor="middle">0</text>
<text x="1303.90" y="571.5" font-size="26.9" text-anchor="middle">5</text>
<text x="1382.90" y="571.5" font-size="26.9" text-anchor="middle">10</text>
<text x="1461.90" y="571.5" font-size="26.9" text-anchor="middle">15</text>
<text x="1212.5" y="549.20" font-size="26.9" text-anchor="end">−10</text>
<text x="1212.5" y="492.53" font-size="26.9" text-anchor="end">−5</text>
<text x="1212.5" y="435.85" font-size="26.9" text-anchor="end">0</text>
<text x="1212.5" y="379.18" font-size="26.9" text-anchor="end">5</text>
<text x="1212.5" y="322.50" font-size="26.9" text-anchor="end">10</text>
<defs><linearGradient id="vir" x1="0" y1="0" x2="0" y2="1"><stop offset="0.000" stop-color="#fde725"/><stop offset="0.050" stop-color="#dfe318"/><stop offset="0.100" stop-color="#bddf26"/><stop offset="0.150" stop-color="#9bd93c"/><stop offset="0.200" stop-color="#7ad151"/><stop offset="0.250" stop-color="#5ec962"/><stop offset="0.300" stop-color="#44bf70"/><stop offset="0.350" stop-color="#2fb47c"/><stop offset="0.400" stop-color="#22a884"/><stop offset="0.450" stop-color="#1e9c89"/><stop offset="0.500" stop-color="#21918c"/><stop offset="0.550" stop-color="#25848e"/><stop offset="0.600" stop-color="#2a788e"/><stop offset="0.650" stop-color="#2f6c8e"/><stop offset="0.700" stop-color="#355f8d"/><stop offset="0.750" stop-color="#3b528b"/><stop offset="0.800" stop-color="#414487"/><stop offset="0.850" stop-color="#463480"/><stop offset="0.900" stop-color="#482475"/><stop offset="0.950" stop-color="#471365"/><stop offset="1.000" stop-color="#440154"/></linearGradient></defs>
<rect x="1924.9" y="9.5" width="29.00" height="572.40" fill="url(#vir)" stroke="#000" stroke-width="1.5"/>
<text x="1965.9" y="16.40" font-size="18.3" letter-spacing="-0.4">0.0</text>
<text x="1965.9" y="130.88" font-size="18.3" letter-spacing="-0.4">−0.5</text>
<text x="1965.9" y="245.36" font-size="18.3" letter-spacing="-0.4">−1.0</text>
<text x="1965.9" y="359.84" font-size="18.3" letter-spacing="-0.4">−1.5</text>
<text x="1965.9" y="474.32" font-size="18.3" letter-spacing="-0.4">−2.0</text>
<text x="1965.9" y="588.80" font-size="18.3" letter-spacing="-0.4">−2.5</text>
<path d="M1953.9,9.50h6.3M1953.9,123.98h6.3M1953.9,238.46h6.3M1953.9,352.94h6.3M1953.9,467.42h6.3M1953.9,581.90h6.3" stroke="#000" stroke-width="1.5" fill="none"/>
<text transform="translate(2034.0,295.70) rotate(-90)" font-size="26.9" text-anchor="middle">[Fe/H]</text>
</svg>
</body></html>
